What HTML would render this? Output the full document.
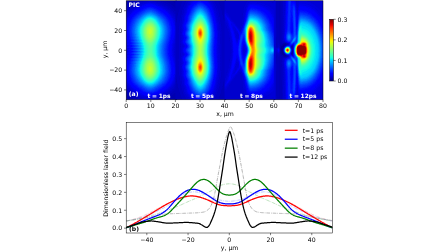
<!DOCTYPE html><html><head><meta charset="utf-8"><title>PIC laser field</title>
<style>html,body{margin:0;padding:0;background:#fff}svg{display:block}text{font-family:"DejaVu Sans","Liberation Sans",sans-serif;font-size:6.2px;fill:#000}.b{font-weight:bold;fill:#fff;font-size:6.1px}</style></head><body>
<svg width="448" height="252" viewBox="0 0 448 252">
<defs>
<filter id="jet" x="0" y="0" width="100%" height="100%" filterUnits="objectBoundingBox" color-interpolation-filters="sRGB"><feGaussianBlur stdDeviation="0.7"/><feComponentTransfer><feFuncR type="table" tableValues="0.000 0.000 0.000 0.000 0.000 0.000 0.000 0.000 0.000 0.000 0.000 0.000 0.000 0.000 0.000 0.000 0.000 0.000 0.000 0.000 0.000 0.000 0.000 0.035 0.085 0.136 0.187 0.237 0.288 0.338 0.389 0.440 0.490 0.541 0.591 0.642 0.693 0.743 0.794 0.844 0.895 0.946 0.996 1.000 1.000 1.000 1.000 1.000 1.000 1.000 1.000 1.000 1.000 1.000 1.000 1.000 1.000 0.981 0.910 0.839 0.767 0.696 0.625 0.553 0.500"/><feFuncG type="table" tableValues="0.000 0.000 0.000 0.000 0.000 0.000 0.000 0.000 0.002 0.065 0.127 0.190 0.253 0.316 0.378 0.441 0.504 0.567 0.629 0.692 0.755 0.818 0.880 0.943 1.000 1.000 1.000 1.000 1.000 1.000 1.000 1.000 1.000 1.000 1.000 1.000 1.000 1.000 1.000 1.000 1.000 0.988 0.930 0.872 0.814 0.756 0.698 0.640 0.582 0.524 0.466 0.407 0.349 0.291 0.233 0.175 0.117 0.059 0.001 0.000 0.000 0.000 0.000 0.000 0.000"/><feFuncB type="table" tableValues="0.500 0.571 0.643 0.714 0.785 0.857 0.928 0.999 1.000 1.000 1.000 1.000 1.000 1.000 1.000 1.000 1.000 1.000 1.000 1.000 1.000 1.000 0.984 0.933 0.882 0.832 0.781 0.731 0.680 0.629 0.579 0.528 0.478 0.427 0.376 0.326 0.275 0.225 0.174 0.123 0.073 0.022 0.000 0.000 0.000 0.000 0.000 0.000 0.000 0.000 0.000 0.000 0.000 0.000 0.000 0.000 0.000 0.000 0.000 0.000 0.000 0.000 0.000 0.000 0.000"/><feFuncA type="linear" slope="0" intercept="1"/></feComponentTransfer></filter>
<linearGradient id="cb" x1="0" y1="1" x2="0" y2="0">
<stop offset="0.0000" stop-color="rgb(0,0,128)"/>
<stop offset="0.0312" stop-color="rgb(0,0,164)"/>
<stop offset="0.0625" stop-color="rgb(0,0,200)"/>
<stop offset="0.0938" stop-color="rgb(0,0,237)"/>
<stop offset="0.1250" stop-color="rgb(0,0,255)"/>
<stop offset="0.1562" stop-color="rgb(0,32,255)"/>
<stop offset="0.1875" stop-color="rgb(0,64,255)"/>
<stop offset="0.2188" stop-color="rgb(0,96,255)"/>
<stop offset="0.2500" stop-color="rgb(0,128,255)"/>
<stop offset="0.2812" stop-color="rgb(0,160,255)"/>
<stop offset="0.3125" stop-color="rgb(0,192,255)"/>
<stop offset="0.3438" stop-color="rgb(0,224,251)"/>
<stop offset="0.3750" stop-color="rgb(22,255,225)"/>
<stop offset="0.4062" stop-color="rgb(48,255,199)"/>
<stop offset="0.4375" stop-color="rgb(73,255,173)"/>
<stop offset="0.4688" stop-color="rgb(99,255,148)"/>
<stop offset="0.5000" stop-color="rgb(125,255,122)"/>
<stop offset="0.5312" stop-color="rgb(151,255,96)"/>
<stop offset="0.5625" stop-color="rgb(177,255,70)"/>
<stop offset="0.5938" stop-color="rgb(202,255,44)"/>
<stop offset="0.6250" stop-color="rgb(228,255,19)"/>
<stop offset="0.6562" stop-color="rgb(254,237,0)"/>
<stop offset="0.6875" stop-color="rgb(255,208,0)"/>
<stop offset="0.7188" stop-color="rgb(255,178,0)"/>
<stop offset="0.7500" stop-color="rgb(255,148,0)"/>
<stop offset="0.7812" stop-color="rgb(255,119,0)"/>
<stop offset="0.8125" stop-color="rgb(255,89,0)"/>
<stop offset="0.8438" stop-color="rgb(255,59,0)"/>
<stop offset="0.8750" stop-color="rgb(255,30,0)"/>
<stop offset="0.9062" stop-color="rgb(232,0,0)"/>
<stop offset="0.9375" stop-color="rgb(196,0,0)"/>
<stop offset="0.9688" stop-color="rgb(159,0,0)"/>
<stop offset="1.0000" stop-color="rgb(128,0,0)"/>
</linearGradient>
<clipPath id="cp0"><rect x="126.20" y="0.80" width="50.70" height="99.00"/></clipPath>
<clipPath id="cp1"><rect x="175.40" y="0.80" width="50.70" height="99.00"/></clipPath>
<clipPath id="cp2"><rect x="224.60" y="0.80" width="50.70" height="99.00"/></clipPath>
<clipPath id="cp3"><rect x="273.80" y="0.80" width="49.20" height="99.00"/></clipPath>
<clipPath id="cpl"><rect x="126.2" y="122.3" width="206.2" height="110.7"/></clipPath>
</defs>
<g clip-path="url(#cp0)"><g filter="url(#jet)">
<rect x="123.20" y="-2.20" width="55.20" height="105.00" fill="rgb(9,9,9)"/>
<path fill="rgb(11,11,11)" d="M127.6,-1.7 172.6,-1.7 172.6,0.8 174.9,2.6 177.6,2.6 177.6,98 174.9,98 172.6,99.8 172.6,102.3 127.6,102.3 127.6,99.8 126.2,98.8 126.2,1.8 127.6,0.8Z"/>
<path fill="rgb(13,13,13)" d="M134.4,-1.7 165.7,-1.7 165.7,0.8 170.9,3.9 172.9,5.5 174.9,7.3 177.6,7.3 177.6,93.3 174.9,93.3 172.9,95.1 170.9,96.7 165.7,99.8 165.7,102.3 134.4,102.3 134.4,99.8 129.5,97 126.2,94.3 126.2,6.3 129.5,3.6 134.4,0.8Z"/>
<path fill="rgb(15,15,15)" d="M139.7,-1.7 160.4,-1.7 160.4,0.8 165.6,3.1 168.9,5.1 172.2,7.8 174.9,10.8 177.6,10.8 177.6,89.8 174.9,89.8 172.2,92.8 168.9,95.5 165.6,97.5 160.4,99.8 160.4,102.3 139.7,102.3 139.7,99.8 134.9,97.6 131.5,95.7 128.9,93.7 126.2,91 126.2,9.6 128.9,6.9 131.5,4.9 134.9,3 139.7,0.8Z"/>
<path fill="rgb(17,17,17)" d="M144,-1.7 156.2,-1.7 156.2,0.8 163.6,3.9 167.6,6.2 169.6,7.7 171.4,9.4 173.2,11.4 174.9,13.8 177.6,13.8 177.6,86.8 174.9,86.8 173.2,89.2 171.4,91.2 169.6,92.9 167.6,94.4 163.6,96.7 156.2,99.8 156.2,102.3 144,102.3 144,99.8 136.9,96.8 132.9,94.6 129.3,91.8 126.2,88.2 126.2,12.4 129.3,8.8 132.9,6 136.9,3.8 144,0.8Z"/>
<path fill="rgb(19,19,19)" d="M145.9,1.5 148.9,0.9 152.2,1 155.6,1.9 161.6,4.4 165.6,6.5 168.9,8.9 171.9,12.1 174.9,16.4 177.6,16.4 177.6,84.2 174.9,84.2 172.4,87.8 170.2,90.4 167.6,92.7 164.9,94.5 161.6,96.2 156.9,98.2 153.6,99.3 150.9,99.8 148.2,99.7 144.9,98.8 139.5,96.7 135.5,94.7 132.9,93 130.2,90.7 128.2,88.5 126.2,85.8 126.2,14.8 129.5,10.6 131.4,8.8 133.5,7.2 136.2,5.5 138.9,4.2 142.9,2.5Z"/>
<path fill="rgb(21,21,21)" d="M147.5,2.1 150.9,1.9 154.2,2.5 158.9,4.3 163.6,6.6 166.9,8.8 169.7,11.4 172.9,15.4 174.9,18.9 177.6,18.9 177.6,43.1 174.9,43.1 174.3,46.6 174,50.6 174.3,54 174.9,57.5 177.6,57.5 177.6,81.7 174.9,81.7 173.4,84.5 170.3,88.5 167.7,91.2 164.9,93.2 160.9,95.4 156.2,97.4 152.9,98.4 150.2,98.7 147.5,98.5 144.2,97.5 139.5,95.5 135.5,93.4 132.9,91.5 130.4,89.2 128.2,86.5 126.2,83.6 126.2,54.8 126.5,54.6 126.2,54.3 126.2,52.3 126.8,52 126.6,51.3 126.2,51.1 126.2,49.5 126.6,49.3 126.8,48.6 126.2,48.3 126.2,46.3 126.5,46 126.2,45.8 126.2,17 128.2,14.1 130.2,11.6 132.2,9.7 134.2,8.1 136.9,6.4 140.9,4.5 144.2,3.1Z"/>
<path fill="rgb(23,23,23)" d="M149.5,2.8 152.2,3 155.6,3.9 160.9,6.3 164.9,8.6 168.3,11.4 171.7,15.4 173.7,18.7 174.9,22.1 177.6,22.1 177.6,39 174.9,39 173.6,44.8 173,50 173.5,55.3 174.9,61.6 177.6,61.6 177.6,78.5 174.9,78.5 173.7,81.9 171.7,85.2 168.3,89.2 165.1,91.8 161.6,94 156.9,96.2 153.6,97.3 150.2,97.8 147.5,97.6 144.2,96.6 138.9,94.1 135.5,92.2 132.9,90.1 130.2,87.4 127.9,84.5 126.2,81.4 126.2,58.1 126.8,57.3 126.2,56.6 126.2,55.7 127.6,54.6 126.2,53.3 126.7,52.6 128,52 127.7,51.3 126.5,50.6 126.5,50 127.7,49.3 128,48.6 126.7,48 126.2,47.3 127.6,46 126.2,44.9 126.2,44 126.8,43.3 126.2,42.5 126.2,19.2 127.5,16.7 130,13.4 132.2,11.1 134.9,8.9 138.9,6.5 143.5,4.3 146.9,3.2Z"/>
<path fill="rgb(26,26,26)" d="M146.4,4.1 148.2,3.7 150.2,3.6 152.2,3.8 154.2,4.3 159.6,6.5 164.4,9.4 166.2,10.8 168.3,12.8 170.6,15.4 172,17.4 173,19.4 173.7,21.4 174.9,26.2 177.6,26.2 177.6,33.7 174.9,33.7 174.2,38 172.6,45.3 172.1,50 172.6,55.3 174.2,62.6 174.9,66.9 177.6,66.9 177.6,74.4 174.9,74.4 173.7,79.2 172.4,82.5 171.1,84.5 169.6,86.4 166.2,89.8 162.9,92.2 158.2,94.7 154.2,96.3 150.9,97 147.5,96.8 144.2,95.7 138.9,93.1 134.9,90.6 131.9,87.8 129,84.5 127.4,81.9 126.2,78.6 126.2,61.1 126.6,60.6 126.7,59.9 126.4,59.3 126.5,58.6 127.8,57.3 127.1,56.6 126.8,55.9 128.7,54.6 127,53.3 127.5,52.6 129,52 128.7,51.3 127.3,50.6 127.3,50 128.7,49.3 129,48.6 127.5,48 127,47.3 128.7,46 126.8,44.7 127.1,44 127.8,43.3 126.5,42 126.4,41.3 126.7,40.7 126.6,40 126.2,39.5 126.2,22 127.1,19.4 128.6,16.7 130.9,13.8 133.5,11.1 136.2,9.1 139.5,7.1 143.5,5.1Z"/>
<path fill="rgb(28,28,28)" d="M146.7,4.8 148.9,4.4 150.9,4.3 152.9,4.6 154.9,5.2 157.6,6.4 160.9,8.2 163.6,9.8 165.6,11.4 169.5,15.4 171.8,18.7 172.6,20.7 173.6,24.1 174.3,28.7 174.3,31.4 173.9,35.4 171.9,44.7 171.3,50 171.8,55.3 173.7,63.9 174.4,69.9 174.1,74.6 172.6,79.9 171.4,82.5 169.6,85.1 166.9,88 164.2,90.3 160.2,92.8 156.2,94.8 153.6,95.8 150.9,96.3 147.5,96 143.5,94.7 138.2,91.8 134.5,89.2 131.2,85.8 128.7,82.5 127.3,79.2 126.2,75.3 126.2,64.6 126.7,63.3 126.6,61.9 126.9,61.3 127.4,60.6 127.5,60.1 127.2,59.3 127.3,58.6 128.1,57.9 128.7,57.3 127.9,56.6 127.5,55.9 129.7,54.6 127.7,53.3 128.3,52.6 130,52 129.6,51.3 128,50.6 128,50 129.6,49.3 130,48.6 128.3,48 127.7,47.3 129.7,46 127.5,44.7 127.9,44 128.7,43.3 128.1,42.7 127.3,42 127.2,41.3 127.5,40.5 127.4,40 126.9,39.3 126.6,38.7 126.7,37.3 126.2,36 126.2,25.3 126.8,22.7 127.7,20.1 129.1,17.4 131.2,14.8 133.8,12.1 136.2,10.1 139.5,8 143.5,5.9Z"/>
<path fill="rgb(30,30,30)" d="M146.8,5.5 148.9,5 150.9,5 152.9,5.3 154.9,6 157.6,7.1 160.9,9 163.5,10.8 165.6,12.4 169.1,16.1 171.2,19.4 172,21.4 173,24.7 173.4,26.7 173.6,29.4 173.5,32 173.2,35.4 172.6,38.7 171.1,44.7 170.5,50 171,55.3 172.8,63.3 173.6,69.2 173.4,73.9 172.9,76.5 172,79.2 170.9,81.9 169.1,84.5 166.2,87.6 163.6,89.8 160.2,92 156.2,94.1 152.9,95.3 150.2,95.6 148.2,95.5 146.2,95 141.5,92.9 138.5,91.2 136.2,89.5 132.2,85.9 130,83.2 128.3,79.9 126.9,75.2 126.6,73.2 126.5,70.6 126.6,67.2 127,65.9 126.9,64.6 127.5,63.3 127.3,61.9 127.6,61.3 128.2,60.6 128.3,59.9 127.9,59.3 128,58.6 128.9,57.9 129.5,57.3 128.6,56.6 128.2,55.9 130.5,54.6 128.4,53.3 129,52.6 130.9,52 130.4,51.3 128.7,50.6 128.7,50 130.4,49.3 130.9,48.6 129,48 128.4,47.3 130.5,46 128.2,44.7 128.6,44 129.5,43.3 128.9,42.7 128,42 127.9,41.3 128.3,40.7 128.2,40 127.6,39.3 127.3,38.7 127.5,37.3 126.9,36 127,34.7 126.6,33.4 126.5,30 126.6,27.4 127.1,24.7 127.8,22.1 128.9,19.4 130.2,17.2 132.2,14.7 134.9,12.1 137.5,10.1 140.2,8.4 144.2,6.4Z"/>
<path fill="rgb(32,32,32)" d="M146.7,6.1 148.2,5.8 150.2,5.6 152.2,5.8 154.2,6.4 156.9,7.5 159.6,9 162.3,10.8 164.9,12.8 168.2,16.1 169.6,17.9 170.4,19.4 171.3,21.4 172.3,24.7 172.7,26.7 172.9,29.4 172.9,32 172.5,35.4 170.3,45.3 169.8,50 170.3,55.3 172.1,63.3 172.9,69.2 172.7,73.9 171.5,78.5 170.4,81.2 168.7,83.9 166.2,86.6 163.6,88.9 160.2,91.2 156.2,93.4 152.9,94.6 150.2,95 148.2,94.8 146.2,94.3 142.2,92.5 139.5,91 136.9,89.2 132.9,85.6 130.4,82.5 128.8,79.2 127.7,75.2 127.3,73.2 127.1,70.6 127.3,67.2 127.6,65.9 127.6,64.6 128.2,63.3 128,61.9 128.3,61.3 129,60.6 129.1,59.9 128.5,59.3 128.6,58.6 129.7,57.9 130.3,57.3 129.3,56.6 128.9,55.9 131.4,54.6 129,53.3 129.7,52.6 131.7,52 131.2,51.3 129.4,50.6 129.4,50 131.2,49.3 131.7,48.6 129.7,48 129,47.3 131.4,46 128.9,44.7 129.3,44 130.3,43.3 129.7,42.7 128.6,42 128.5,41.3 129.1,40.7 129,40 128.3,39.3 128,38.7 128.2,37.3 127.6,36 127.6,34.7 127.3,33.4 127.1,30 127.4,26.7 128.2,23.4 129.1,20.7 130.4,18.1 131.9,16.1 134.2,13.7 136.9,11.4 140.2,9.2 143.5,7.4Z"/>
<path fill="rgb(34,34,34)" d="M146.5,6.8 148.2,6.4 150.2,6.2 152.2,6.4 154.2,7 156.9,8.2 159.6,9.7 162.2,11.5 164.9,13.7 167.9,16.7 168.9,18.1 170,20.1 171.6,24.7 172.1,26.7 172.3,29.4 172.2,32 171.8,35.4 171.2,38.7 169.6,45.3 169.2,50 169.6,55.3 171.5,63.3 172.3,69.2 172.3,71.2 172.1,73.9 171,77.9 170,80.5 168.4,83.2 166.2,85.7 163.6,88 160.2,90.5 156.2,92.7 152.9,94 150.2,94.4 148.9,94.3 146.9,93.9 142.9,92.2 137.5,88.8 133.4,85.2 131.2,82.5 129.6,79.2 128.3,75.2 128,73.2 127.8,70.6 128,67.2 128.3,65.9 128.2,64.6 128.9,63.3 128.6,61.9 128.9,61.3 129.7,60.6 129.8,59.9 129.2,59.3 129.3,58.6 130.4,57.9 131,57.3 130,56.6 129.5,55.9 132.1,54.6 129.6,53.3 130.3,52.6 132.4,52 131.9,51.3 130,50.6 130,50 131.9,49.3 132.4,48.6 130.3,48 129.6,47.3 132.1,46 129.5,44.7 130,44 131,43.3 130.4,42.7 129.3,42 129.2,41.3 129.8,40.7 129.7,40 128.9,39.3 128.6,38.7 128.9,37.3 128.2,36 128.3,34.7 128,33.4 127.8,30 128,27.4 128.7,24.1 129.8,20.7 130.8,18.7 132.2,16.7 134.2,14.6 136.9,12.3 140.2,9.9 143.5,8Z"/>
<path fill="rgb(36,36,36)" d="M149.4,6.8 150.9,6.8 152.9,7.1 154.9,7.8 156.9,8.8 162.2,12.3 166.5,16.1 168.6,18.7 170.1,22.1 171.3,26 171.7,30 171.1,36 169.1,44.7 168.5,50 169,55.3 170.9,63.3 171.6,68.6 171.7,71.2 171.5,73.2 170.6,77.2 169.3,80.5 168.1,82.5 166.2,84.8 163.6,87.2 160.1,89.8 156.2,92.1 152.9,93.5 150.2,93.8 148.9,93.8 146.9,93.4 142.9,91.6 137.5,88 133.6,84.5 131.6,81.9 130,78.5 128.7,73.9 128.4,70.6 128.6,67.2 128.9,65.9 128.8,64.6 129.5,63.3 129.2,61.9 129.5,61.3 130.3,60.6 130.4,59.9 129.8,59.3 129.8,58.6 131,57.9 131.7,57.3 130.6,56.6 130.1,55.9 132.8,54.6 130.2,53.3 131,52.6 133.1,52 132.6,51.3 130.5,50.6 130.5,50 132.6,49.3 133.1,48.6 131,48 130.2,47.3 132.8,46 130.1,44.7 130.6,44 131.7,43.3 131,42.7 129.8,42 129.8,41.3 130.4,40.7 130.3,40 129.5,39.3 129.2,38.7 129.5,37.3 128.8,36 128.9,34.7 128.6,33.4 128.4,30 128.7,26.7 129.5,23.4 130.5,20.7 132,18.1 133.6,16.1 136.2,13.7 139.5,11.1 143.5,8.7 146.9,7.2Z"/>
<path fill="rgb(38,38,38)" d="M148.4,7.4 150.2,7.3 151.6,7.4 153.6,7.9 155.6,8.7 158.2,10.2 160.9,12 165.6,15.9 167.9,18.7 169.5,22.1 170.7,26 171.1,30 170.6,36 168.5,44.7 167.9,50 168.3,55.3 170.3,63.3 171.1,68.6 171.1,71.2 170.9,73.2 170,77.2 168.6,80.5 167.4,82.5 165.6,84.7 162.9,87 159,89.8 155.6,91.9 152.9,92.9 150.2,93.3 148.9,93.2 146.9,92.8 143.2,91.2 138.3,87.8 134.2,84.3 132.3,81.9 130.6,78.5 129.7,75.9 129.3,73.9 129,70.6 129.1,67.2 129.5,65.9 129.4,64.6 130.1,63.3 129.7,61.9 130.1,61.3 130.9,60.6 131,59.9 130.3,59.3 130.4,58.6 131.7,57.9 132.4,57.3 131.2,56.6 130.6,55.9 133.5,54.6 130.8,53.3 131.6,52.6 133.8,52 133.2,51.3 131.1,50.6 131.1,50 133.2,49.3 133.8,48.6 131.6,48 130.8,47.3 133.5,46 130.6,44.7 131.2,44 132.4,43.3 131.7,42.7 130.4,42 130.3,41.3 131,40.7 130.9,40 130.1,39.3 129.7,38.7 130.1,37.3 129.4,36 129.5,34.7 129.1,33.4 129,30 129.2,27.4 129.9,24.1 131.2,20.7 132.3,18.7 133.8,16.7 135.5,15 138.9,12.3 142.9,9.6 145.5,8.3Z"/>
<path fill="rgb(40,40,40)" d="M147.7,8.1 149.5,7.8 150.9,7.8 152.9,8.2 154.9,9 159.6,11.8 164.2,15.4 166.7,18.1 168.6,21.4 170,25.4 170.6,29.4 170.5,32 170.1,35.4 169.5,38.7 167.9,44.7 167.3,50 167.7,55.3 169.8,63.3 170.5,68.6 170.5,72.6 169.6,76.5 168.6,79.2 167.2,81.9 165.6,83.9 162.9,86.3 158.9,89.3 155.6,91.3 152.9,92.4 150.2,92.8 148.9,92.7 146.9,92.3 143.5,90.7 138.9,87.6 134.6,83.9 132.5,81.2 131,77.9 129.9,73.9 129.5,70.6 129.7,67.2 130.1,65.9 129.9,64.6 130.7,63.3 130.3,61.9 130.6,61.3 131.5,60.6 131.6,59.9 130.9,59.3 131,58.6 132.3,57.9 133,57.3 131.7,56.6 131.2,55.9 134.1,54.6 131.3,53.3 132.1,52.6 134.4,52 133.8,51.3 131.7,50.6 131.7,50 133.8,49.3 134.4,48.6 132.1,48 131.3,47.3 134.1,46 131.2,44.7 131.7,44 133,43.3 132.3,42.7 131,42 130.9,41.3 131.6,40.7 131.5,40 130.6,39.3 130.3,38.7 130.7,37.3 129.9,36 130.1,34.7 129.7,33.4 129.5,30 129.7,27.4 130.3,24.7 131.3,22.1 132.5,19.4 133.5,17.9 135.2,16.1 138.3,13.4 142.2,10.7 144.9,9.2Z"/>
<path fill="rgb(43,43,43)" d="M147.1,8.8 148.9,8.4 150.9,8.3 152.2,8.6 154.2,9.2 158.2,11.5 163.6,15.5 166,18.1 168,21.4 169.4,25.4 170,29.4 170,32 169.6,35.4 168.9,38.7 167.3,44.7 166.7,50 167.2,55.3 169.1,62.6 169.9,67.9 170,71.9 169.2,75.9 168,79.2 166.9,81.2 165.5,83.2 163.4,85.2 159.6,88.2 155.6,90.7 152.9,91.9 150.2,92.3 148.9,92.2 146.9,91.7 143.5,90.2 138.9,87 134.9,83.4 132.9,80.6 131.3,77.2 130.4,73.9 130,70.6 130.2,67.2 130.6,65.9 130.4,64.6 131.2,63.3 130.8,61.9 131.2,61.3 132.1,60.6 132.2,59.9 131.4,59.3 131.5,58.6 132.9,57.9 133.5,57.3 132.3,56.6 131.7,55.9 134.6,54.6 131.8,53.3 132.7,52.6 134.9,52 134.4,51.3 132.2,50.6 132.2,50 134.4,49.3 134.9,48.6 132.7,48 131.8,47.3 134.6,46 131.7,44.7 132.3,44 133.5,43.3 132.9,42.7 131.5,42 131.4,41.3 132.2,40.7 132.1,40 131.2,39.3 130.8,38.7 131.2,37.3 130.4,36 130.6,34.7 130.2,33.4 130,30 130.3,27.4 130.9,24.7 131.9,22.1 132.8,20.1 134.1,18.1 135.5,16.5 138.9,13.6 142.2,11.3 144.9,9.7Z"/>
<path fill="rgb(46,46,46)" d="M147.8,9.4 149.5,9.2 150.9,9.2 152.9,9.6 154.2,10.1 158.2,12.5 163.6,16.7 165.8,19.4 167.5,22.7 168.7,26 169.2,30 169,32.7 168.6,36 166.4,44.7 165.8,50 166.2,55.3 168.3,63.3 169,67.9 169.1,71.9 168.3,75.9 167.3,78.5 165.8,81.2 164.3,83.2 162.9,84.5 158.9,87.7 155.6,89.8 152.9,91 150.2,91.5 147.5,91.1 144.2,89.6 139.5,86.4 135.9,83.2 133.9,80.5 132.3,77.2 131.3,73.9 130.9,70.6 131.1,67.2 131.5,65.9 131.3,64.6 132.1,63.3 131.7,61.9 132,61.3 133,60.6 133.1,59.9 132.3,59.3 132.4,58.6 133.8,57.9 134.5,57.3 133.2,56.6 132.6,55.9 135.5,54.6 132.7,53.3 133.6,52.6 135.8,52 135.3,51.3 133.1,50.6 133.1,50 135.3,49.3 135.8,48.6 133.6,48 132.7,47.3 135.5,46 132.6,44.7 133.2,44 134.5,43.3 133.8,42.7 132.4,42 132.3,41.3 133.1,40.7 133,40 132,39.3 131.7,38.7 132.1,37.3 131.3,36 131.5,34.7 131.1,33.4 130.9,30 131.2,27.4 131.6,25.4 132.6,22.7 133.9,20.1 135.3,18.1 136.5,16.7 139.5,14.2 142.9,11.8 145.5,10.3Z"/>
<path fill="rgb(50,50,50)" d="M148.5,10.1 150.2,9.9 151.6,10.1 154.2,10.9 156.2,12.1 158.9,13.9 163.1,17.4 165.2,20.1 166.9,23.4 167.9,26.7 168.3,30 168.2,32.7 167.8,36 167.2,38.7 165.5,44.7 165,47.3 164.9,50 165.3,55.3 167.3,62.6 168.1,67.2 168.3,71.2 168.1,73.2 167.6,75.2 166.6,77.9 165.2,80.5 163.8,82.5 162.2,84.1 158.2,87.2 154.9,89.3 152.2,90.4 150.2,90.7 147.5,90.3 144.2,88.7 139.5,85.4 136.4,82.5 134.5,79.9 133,76.5 132,73.2 131.7,70.6 131.9,67.2 132.3,65.9 132.1,64.6 133,63.3 132.5,61.9 132.9,61.3 133.9,60.6 134,59.9 133.2,59.3 133.2,58.6 134.7,57.9 135.4,57.3 134.1,56.6 133.4,55.9 136.4,54.6 133.6,53.3 134.5,52.6 136.7,52 136.2,51.3 134,50.6 134,50 136.2,49.3 136.7,48.6 134.5,48 133.6,47.3 136.4,46 133.4,44.7 134.1,44 135.4,43.3 134.7,42.7 133.2,42 133.2,41.3 134,40.7 133.9,40 132.9,39.3 132.5,38.7 133,37.3 132.1,36 132.3,34.7 131.9,33.4 131.7,30 132,27.4 132.5,25.4 133.2,23.4 134.5,20.7 135.8,18.7 137.5,16.9 140.9,14.2 144.2,11.9 146.2,10.8Z"/>
<path fill="rgb(53,53,53)" d="M149.1,10.8 150.9,10.7 152.2,11 154.9,12.1 159.6,15.3 162.7,18.1 164.7,20.7 166.3,24.1 167.1,26.7 167.5,30 167.4,32.7 167,36 166.4,38.7 164.6,44.7 164.2,47.3 164,50 164.5,55.3 166.5,62.6 167.4,67.2 167.5,71.2 166.9,74.6 166,77.2 164.7,79.9 163.3,81.9 161.6,83.7 158.2,86.3 154.9,88.5 152.2,89.6 150.2,89.9 147.5,89.5 144.9,88.3 140.4,85.2 137.4,82.5 135.5,79.9 133.8,76.5 132.9,73.2 132.5,70.6 132.7,67.2 133.1,65.9 132.9,64.6 133.8,63.3 133.3,61.9 133.7,61.3 134.7,60.6 134.8,59.9 134,59.3 134.1,58.6 135.5,57.9 136.2,57.3 135,56.6 134.3,55.9 137.2,54.6 136.1,54 134.4,53.3 135.4,52.6 137.4,52 137,51.3 134.8,50.6 134.8,50 137,49.3 137.4,48.6 135.4,48 134.4,47.3 136.1,46.6 137.2,46 134.3,44.7 135,44 136.2,43.3 135.5,42.7 134.1,42 134,41.3 134.8,40.7 134.7,40 133.7,39.3 133.3,38.7 133.8,37.3 132.9,36 133.1,34.7 132.7,33.4 132.5,30 132.9,27.4 133.2,26 133.8,24.1 135.1,21.4 136.3,19.4 138.1,17.4 140.9,15 144.9,12.3 146.9,11.3Z"/>
<path fill="rgb(57,57,57)" d="M146.9,12.1 149.5,11.4 150.9,11.5 152.9,11.9 156.2,13.7 160.9,17.3 163.3,20.1 165.1,23.4 166.3,26.7 166.8,30 166.7,32.7 166.2,36 165.6,38.7 163.8,44.7 163.3,47.3 163.2,50 163.3,52.6 163.6,55.3 165.8,62.6 166.6,67.2 166.7,71.2 166.1,74.6 165.1,77.2 163.7,79.9 162.3,81.9 161,83.2 158.2,85.5 154.9,87.7 152.2,88.9 150.2,89.2 147.5,88.8 144.9,87.5 140.9,84.7 138.2,82.3 136.4,79.9 134.7,76.5 133.6,73.2 133.3,70.6 133.4,67.2 133.9,65.9 133.7,64.6 134.6,63.3 134.1,61.9 134.5,61.3 135.5,60.6 135.6,59.9 134.8,59.3 134.9,58.6 136.3,57.9 137,57.3 135.8,56.6 135.1,55.9 137.9,54.6 136.9,54 135.3,53.3 136.3,52.6 138.2,52 137.8,51.3 135.7,50.6 135.7,50 137.8,49.3 138.2,48.6 136.3,48 135.3,47.3 136.9,46.6 137.9,46 135.1,44.7 135.8,44 137,43.3 136.3,42.7 134.9,42 134.8,41.3 135.6,40.7 135.5,40 134.5,39.3 134.1,38.7 134.6,37.3 133.7,36 133.9,34.7 133.4,33.4 133.3,30 133.6,27.4 134.4,24.7 135.3,22.7 136.4,20.7 137.8,18.7 139.8,16.7 142.2,14.9 144.9,13.1Z"/>
<path fill="rgb(60,60,60)" d="M147,12.8 148.9,12.2 150.2,12.1 152.9,12.7 156.2,14.4 160.1,17.4 162.4,20.1 164.3,23.4 165.6,26.7 166,30 165.9,32.7 165.5,36 164.8,38.7 163,44.7 162.5,47.3 162.4,50 162.5,52.6 162.8,55.3 165,62.6 165.8,66.6 166,70.6 165.6,73.9 164.6,76.5 163.3,79.2 161.9,81.2 160.1,83.2 156.9,85.7 154.2,87.3 152.2,88.2 150.2,88.5 147.5,88 144.9,86.8 141.5,84.4 138.8,81.9 136.9,79.2 135.2,75.9 134.4,73.2 134,70.6 134.2,67.2 134.6,65.9 134.4,64.6 135.3,63.3 134.8,61.9 135.2,61.3 136.2,60.6 136.3,59.9 135.6,59.3 135.7,58.6 137.1,57.9 137.7,57.3 135.9,55.9 138.6,54.6 137.7,54 136.1,53.3 137.1,52.6 138.8,52 138.5,51.3 136.6,50.6 136.6,50 138.5,49.3 138.8,48.6 137.1,48 136.1,47.3 137.7,46.6 138.6,46 135.9,44.7 137.7,43.3 137.1,42.7 135.7,42 135.6,41.3 136.3,40.7 136.2,40 135.2,39.3 134.8,38.7 135.3,37.3 134.4,36 134.6,34.7 134.2,33.4 134,30 134.4,27.4 135.2,24.7 136.1,22.7 137.3,20.7 138.8,18.7 140.8,16.7 142.9,15.1 144.9,13.8Z"/>
<path fill="rgb(64,64,64)" d="M147,13.4 149.5,12.8 150.9,12.8 152.2,13.1 153.6,13.6 155.6,14.7 159.1,17.4 161.5,20.1 163.5,23.4 164.8,26.7 165.3,30 165.2,32.7 164.7,36 164.1,38.7 162.2,44.7 161.8,47.3 161.6,50 161.7,52.6 162.1,55.3 164.3,62.6 165.1,66.6 165.3,70.6 164.8,73.9 163.8,76.5 162.4,79.2 161,81.2 159.6,82.8 156.9,85 154.2,86.7 152.2,87.5 150.2,87.8 148.2,87.6 145.5,86.5 142.2,84.2 139.7,81.9 137.7,79.2 136,75.9 135.1,73.2 134.7,70.6 134.9,67.2 135.3,65.9 135.1,64.6 136,63.3 135.5,61.9 136,61.3 136.9,60.6 137.1,59.9 136.3,59.3 136.4,58.6 137.8,57.9 138.4,57.3 136.8,55.9 139.3,54.6 138.5,54 137,53.3 137.9,52.6 139.5,52 139.2,51.3 137.4,50.6 137.4,50 139.2,49.3 139.5,48.6 137.9,48 137,47.3 138.5,46.6 139.3,46 136.8,44.7 138.4,43.3 137.8,42.7 136.4,42 136.3,41.3 137.1,40.7 136.9,40 136,39.3 135.5,38.7 136,37.3 135.1,36 135.3,34.7 134.9,33.4 134.7,30 135.1,27.4 136,24.7 136.9,22.7 138.1,20.7 139.5,18.9 142.9,15.9 144.9,14.5Z"/>
<path fill="rgb(68,68,68)" d="M147,14.1 149.5,13.5 150.9,13.5 152.2,13.8 154.9,15 158.2,17.4 160.7,20.1 162.8,23.4 164.1,26.7 164.6,30 164.5,32.7 164.1,36 163.4,38.7 161.5,44.7 161,47.3 160.9,50 161,52.6 161.3,55.3 163.6,62.6 164.4,66.6 164.7,69.9 164.3,73.2 163.4,75.9 162,78.5 160.7,80.5 159,82.5 156.6,84.5 154.2,86 152.2,86.8 150.2,87.2 148.2,86.9 145.5,85.8 142.9,84 140.5,81.9 138.5,79.2 136.7,75.9 135.8,73.2 135.4,70.6 135.5,67.2 136,65.9 135.8,64.6 136.7,63.3 136.3,61.9 136.7,61.3 137.6,60.6 137.8,59.9 137.1,59.3 137.2,58.6 138.5,57.9 139,57.3 137.6,55.9 139.9,54.6 139.2,54 137.8,53.3 138.7,52.6 140.1,52 139.9,51.3 138.2,50.6 138.2,50 139.9,49.3 140.1,48.6 138.7,48 137.8,47.3 139.2,46.6 139.9,46 137.6,44.7 139,43.3 138.5,42.7 137.2,42 137.1,41.3 137.8,40.7 137.6,40 136.7,39.3 136.3,38.7 136.7,37.3 135.8,36 136,34.7 135.5,33.4 135.5,32.7 135.4,30 135.8,27.4 136.5,25.4 137.4,23.4 138.5,21.4 139.9,19.4 141.5,17.7 143.5,16.1Z"/>
<path fill="rgb(71,71,71)" d="M149.3,14.1 151.6,14.2 154.2,15.2 156.9,17 159.4,19.4 161.3,22.1 162.9,25.4 163.7,28 164,30.7 163.8,33.4 163.3,36.7 160.6,45.3 160.2,50 160.3,52.6 160.6,55.3 162.9,62.6 163.7,66.6 164,69.9 163.6,73.2 162.9,75.2 161.6,77.9 159.9,80.5 158.2,82.4 156.2,84.1 154.2,85.4 152.2,86.2 150.2,86.6 148.2,86.3 145.5,85.2 142.9,83.3 140.9,81.4 139.3,79.2 137.5,75.9 136.5,73.2 136.1,70.6 136.2,67.2 136.7,65.9 136.5,64.6 137.4,63.3 137,61.9 137.4,61.3 138.3,60.6 138.4,59.9 137.8,59.3 137.9,58.6 139.1,57.9 139.7,57.3 138.4,55.9 140.5,54.6 139.9,54 138.6,53.3 139.4,52.6 140.7,52 140.5,51.3 139,50.6 139,50 140.5,49.3 140.7,48.6 139.4,48 138.6,47.3 139.9,46.6 140.5,46 138.4,44.7 139.7,43.3 139.1,42.7 137.9,42 137.8,41.3 138.4,40.7 138.3,40 137.4,39.3 137,38.7 137.4,37.3 136.5,36 136.7,34.7 136.2,33.4 136.1,30 136.5,27.4 137.5,24.7 138.5,22.7 139.7,20.7 141.3,18.7 143.5,16.7 145.5,15.4 147.5,14.5Z"/>
<path fill="rgb(75,75,75)" d="M148.7,14.8 150.9,14.7 152.9,15.2 155.6,16.6 158,18.7 160.1,21.4 162,24.7 162.9,27.4 163.3,30.7 163.2,33.4 162.6,36.7 159.9,45.3 159.5,50 159.6,52.6 159.9,55.3 162.3,62.6 163.1,66.6 163.3,69.9 162.9,73.2 162.3,75.2 161.3,77.2 159.6,79.9 158,81.9 156.2,83.5 154.2,84.8 152.2,85.7 150.2,86 148.2,85.7 146.2,85 143.6,83.2 141.5,81.2 139.6,78.5 138.1,75.9 137.2,73.2 136.8,70.6 136.9,67.2 137.3,65.9 137.1,64.6 138,63.3 137.6,61.9 138.1,61.3 138.9,60.6 139,59.9 138.5,59.3 138.7,58.6 139.8,57.9 140.3,57.3 139.2,55.9 141.1,54.6 140.5,54 139.5,53.3 141.3,52 141.1,51.3 139.8,50.6 139.8,50 141.1,49.3 141.3,48.6 139.5,47.3 140.5,46.6 141.1,46 139.2,44.7 140.3,43.3 139.8,42.7 138.7,42 138.5,41.3 139,40.7 138.9,40 138.1,39.3 137.6,38.7 138,37.3 137.1,36 137.3,34.7 136.9,33.4 136.8,30 137.2,27.4 138.1,24.7 139.2,22.7 140.5,20.7 142.1,18.7 143.6,17.4 145.5,16 146.9,15.3Z"/>
<path fill="rgb(78,78,78)" d="M148.2,15.4 150.2,15.2 151.6,15.3 152.9,15.7 154.9,16.8 157.3,18.7 159.4,21.4 161.3,24.7 162.3,27.4 162.7,30.7 162.5,33.4 162,36.7 159.3,45.3 158.8,50 158.9,52.6 159.3,55.3 161.6,62.6 162.4,65.9 162.7,69.9 162.4,72.6 161.9,74.6 160.6,77.2 158.9,79.9 157.3,81.9 155.6,83.3 153.6,84.6 151.6,85.3 150.2,85.4 148.2,85.2 146.2,84.4 144.2,83.1 142.3,81.2 140.3,78.5 138.8,75.9 137.8,73.2 137.4,70.6 137.5,67.2 137.9,65.9 137.8,64.6 138.6,63.3 138.3,61.9 138.7,61.3 139.5,60.6 139.7,59.9 139.2,59.3 139.4,58.6 140.4,57.9 140.9,57.3 139.9,55.9 141.6,54.6 141.2,54 140.2,53.3 141.9,52 141.7,51.3 140.6,50.6 140.6,50 141.7,49.3 141.9,48.6 140.2,47.3 141.2,46.6 141.6,46 139.9,44.7 140.9,43.3 140.4,42.7 139.4,42 139.2,41.3 139.7,40.7 139.5,40 138.7,39.3 138.3,38.7 138.6,37.3 137.8,36 137.9,34.7 137.5,33.4 137.4,30.7 137.7,28 138.3,26 139.2,24.1 140.7,21.4 142.2,19.5 144.9,17 146.9,15.9Z"/>
<path fill="rgb(82,82,82)" d="M147.8,16.1 150.2,15.7 152.2,16 154.9,17.4 156.9,19.1 159.1,22.1 160.9,25.4 161.8,28 162.1,30.7 161.9,33.4 161.4,36.7 158.6,45.3 158.2,50 158.3,52.6 158.6,55.3 161,62.6 161.7,65.9 162.1,69.9 161.8,72.6 161.2,74.6 160.3,76.5 158.7,79.2 157.2,81.2 155.6,82.7 153.6,84 151.6,84.7 150.2,84.9 148.2,84.6 146.2,83.8 144.2,82.4 142.4,80.5 140.6,77.9 139.2,75.2 138.5,73.2 138,70.6 138.1,67.2 138.5,65.9 138.4,64.6 139.2,63.3 138.9,61.9 139.3,61.3 140.1,60.6 140.3,59.9 139.9,59.3 140,58.6 141,57.9 141.4,57.3 140.6,55.9 142.2,54.6 141.8,54 141,53.3 142.4,52 142.3,51.3 141.3,50.6 141.3,50 142.3,49.3 142.4,48.6 141,47.3 141.8,46.6 142.2,46 140.6,44.7 141.4,43.3 141,42.7 140,42 139.9,41.3 140.3,40.7 140.1,40 139.3,39.3 138.9,38.7 139.2,37.3 138.4,36 138.5,34.7 138.1,33.4 138,30.7 138.3,28 138.9,26 139.8,24.1 142.4,20.1 144.9,17.7 146.2,16.8Z"/>
<path fill="rgb(85,85,85)" d="M147.5,16.7 149.5,16.2 151.6,16.4 153.6,17.2 155.8,18.7 158,21.4 160,24.7 161,27.4 161.5,30 161.4,32.7 160.9,36 160.2,38.7 158.2,44.7 157.7,47.3 157.6,50 157.7,52.6 158,55.3 160.4,62.6 161.2,65.9 161.5,69.9 161.2,72.6 160.6,74.6 159.7,76.5 158,79.2 156.4,81.2 155,82.5 153.6,83.4 151.6,84.2 150.2,84.4 148.2,84.1 146.2,83.2 144.4,81.9 143.1,80.5 141.2,77.9 139.8,75.2 139.1,73.2 138.6,70.6 138.7,67.2 139.1,65.9 139,64.6 139.8,63.3 139.6,61.9 140.6,60.6 140.8,59.9 140.5,59.3 140.7,58.6 141.6,57.9 142,57.3 141.3,55.9 142.7,54.6 142.4,54 141.7,53.3 143,52 142.9,51.3 142,50.6 142,50 142.9,49.3 143,48.6 141.7,47.3 142.4,46.6 142.7,46 141.3,44.7 142,43.3 141.6,42.7 140.7,42 140.5,41.3 140.8,40.7 140.6,40 139.6,38.7 139.8,37.3 139,36 139.1,34.7 138.7,33.4 138.6,30.7 138.9,28 140.1,24.7 142.6,20.7 144.9,18.3Z"/>
<path fill="rgb(89,89,89)" d="M150.1,16.7 151.6,16.9 153.6,17.7 155,18.7 156.9,20.7 158.7,23.4 160,26 160.6,28 160.9,30.7 160.7,34 160,37.3 157.4,45.3 157,50 157.1,52.6 157.4,55.3 159.9,62.6 160.6,65.9 160.9,69.9 160.6,72.6 160,74.6 159.1,76.5 157.6,79 156.2,80.7 154.9,82 153.6,82.9 152.2,83.5 150.2,83.9 148.2,83.6 146.9,83 144.9,81.6 143.2,79.9 141.4,77.2 140.1,74.6 139.5,72.6 139.2,69.9 139.3,67.2 139.7,65.9 139.6,64.6 140.3,63.3 140.2,61.9 141.2,60.6 141.4,59.9 141.1,59.3 141.3,58.6 142.1,57.9 142.5,57.3 142,55.9 143.3,54.6 143,54 142.4,53.3 143.5,52 143.4,51.3 142.7,50.6 142.7,50 143.4,49.3 143.5,48.6 142.4,47.3 143,46.6 143.3,46 142,44.7 142.5,43.3 142.1,42.7 141.3,42 141.1,41.3 141.4,40.7 141.2,40 140.2,38.7 140.3,37.3 139.6,36 139.7,34.7 139.3,33.4 139.2,30.7 139.5,28 140.1,26 141.1,24.1 142.7,21.4 144.2,19.6 145.5,18.4 146.9,17.6 148.2,17Z"/>
<path fill="rgb(93,93,93)" d="M148.7,17.4 150.2,17.3 152.2,17.7 154.2,18.7 155.7,20.1 157.7,22.7 159.1,25.4 160.1,28 160.4,30.7 160.2,33.4 159.7,36.7 156.8,45.3 156.5,47.3 156.4,50 156.5,52.6 156.8,55.3 159.1,61.9 159.9,65.2 160.4,69.2 160.2,71.9 159.7,73.9 158.8,75.9 157.7,77.9 156.2,79.9 154.9,81.3 153.6,82.3 152.2,82.9 150.2,83.3 148.7,83.2 146.9,82.5 145.1,81.2 143.5,79.4 141.7,76.5 140.7,74.6 140.1,72.6 139.7,69.9 139.8,67.2 140.2,65.9 140.2,64.6 140.8,63.3 140.8,61.9 141.7,60.6 141.9,59.9 141.7,59.3 141.9,58.6 142.7,57.9 143.1,57.3 142.7,55.9 143.8,54.6 143.1,53.3 144.1,52 144,51.3 143.4,50.6 143.4,50 144,49.3 144.1,48.6 143.1,47.3 143.8,46 142.7,44.7 143.1,43.3 142.7,42.7 141.9,42 141.7,41.3 141.9,40.7 141.7,40 140.8,38.7 140.8,37.3 140.2,36 140.2,34.7 139.8,32.7 139.8,29.4 140.2,27.4 141,25.4 143.4,21.4 144.5,20.1 145.9,18.7 147.5,17.8Z"/>
<path fill="rgb(96,96,96)" d="M148.3,18.1 150.2,17.8 152.2,18.2 154.2,19.4 155.6,20.7 157.5,23.4 158.9,26 159.5,28 159.8,30.7 159.7,33.4 159.3,36 158.6,38.7 156.2,45.3 155.9,47.3 155.8,50 155.8,52.6 156.2,55.3 158.6,61.9 159.4,65.2 159.8,69.2 159.6,71.9 159.1,73.9 158.2,75.9 157.1,77.9 155.6,79.9 154.2,81.2 152.9,82.1 151.6,82.6 150.2,82.8 148.3,82.5 146.9,81.9 145.5,80.9 144,79.2 142.2,76.5 141.3,74.6 140.6,72.6 140.3,69.9 140.7,64.6 141.3,63.3 141.3,61.9 142.2,60.6 142.4,59.9 142.3,59.3 142.5,58.6 143.2,57.9 143.6,57.3 143.3,55.9 144.4,54.6 143.8,53.3 144.6,52 144.6,51.3 144,50.6 144,50 144.6,49.3 144.6,48.6 143.8,47.3 144.4,46 143.3,44.7 143.6,43.3 143.2,42.7 142.5,42 142.3,41.3 142.4,40.7 142.2,40 141.3,38.7 141.3,37.3 140.7,36 140.7,34.7 140.3,32.7 140.4,29.4 140.8,27.4 141.3,26 142.2,24.1 143.5,22.1 145.9,19.4 146.9,18.7Z"/>
<path fill="rgb(100,100,100)" d="M148,18.7 149.5,18.3 151.6,18.5 153.4,19.4 154.9,20.7 156.5,22.7 158,25.4 159,28 159.3,30.7 159.2,33.4 158.7,36 158,38.7 155.6,45.3 155.3,47.3 155.2,50 155.2,52.6 155.6,55.3 158,61.9 158.9,65.2 159.3,69.2 159.1,71.9 158,75.2 156.9,77.2 155.5,79.2 154.2,80.5 152.9,81.5 151.6,82.1 150.2,82.3 148.2,82 146.9,81.3 145.5,80.2 144.2,78.7 142.4,75.9 141.5,73.9 141.2,72.6 140.8,69.9 140.9,67.2 141.2,65.9 141.3,64.6 141.9,63.3 141.9,61.9 142.8,60.6 143.1,58.6 144.1,57.3 144,55.9 144.9,54.6 144.5,53.3 145.2,52 145.2,51.3 144.7,50.6 144.7,50 145.2,49.3 145.2,48.6 144.5,47.3 144.9,46 144,44.7 144.1,43.3 143.1,42 142.8,40 141.9,38.7 141.9,37.3 141.3,36 141.2,34.7 140.9,33.4 140.8,30 141.5,26.7 143.2,23.4 145.5,20.4 146.9,19.3Z"/>
<path fill="rgb(103,103,103)" d="M147.8,19.4 149.5,18.9 150.9,18.9 152.3,19.4 154.2,20.8 155.9,22.7 157.5,25.4 158.5,28 158.8,30.7 158.7,33.4 158.1,36.7 157.3,39.3 155,45.3 154.7,47.3 154.5,50 154.6,52.6 155,55.3 157.5,61.9 158.4,65.2 158.8,69.2 158.6,71.9 157.5,75.2 156.3,77.2 154.9,79.1 152.9,80.9 151.6,81.5 150.2,81.7 148.9,81.6 147.5,81.1 146.2,80.1 144.7,78.5 143,75.9 142.1,73.9 141.7,72.6 141.3,69.9 141.4,67.2 141.7,65.9 141.8,64.6 142.4,63.3 142.4,61.9 143.3,60.6 143.7,58.6 144.7,57.3 144.6,55.9 145.5,54.6 145.2,53.3 145.8,52 145.8,51.3 145.4,50.6 145.4,50 145.8,49.3 145.8,48.6 145.2,47.3 145.5,46 144.6,44.7 144.7,43.3 143.7,42 143.3,40 142.4,38.7 142.4,37.3 141.8,36 141.7,34.7 141.4,33.4 141.3,30 141.8,27.4 143.4,24.1 145.5,21.1 146.7,20.1Z"/>
<path fill="rgb(107,107,107)" d="M147.7,20.1 149.5,19.5 150.9,19.5 152.4,20.1 154.2,21.5 155.8,23.4 157.3,26 157.9,28 158.3,30.7 158.2,33.4 157.6,36.7 156.8,39.3 154.4,45.3 153.8,49.3 153.9,52.6 154.4,55.3 156.8,61.3 157.7,64.6 158.3,68.6 158.2,71.2 157.3,74.6 156.2,76.5 154.9,78.4 152.9,80.2 151.6,80.9 150.2,81.2 148.9,81 147.5,80.4 146.2,79.4 144.8,77.9 143.5,75.9 142.6,73.9 142,71.9 141.8,69.9 141.9,67.2 142.3,64.6 142.8,63.3 143,61.9 143.8,60.6 144.3,58.6 145.2,57.3 145.3,55.9 146.1,54.6 145.9,53.3 146.5,52 146.5,51.3 146.1,50.6 146.1,50 146.5,49.3 146.5,48.6 145.9,47.3 146.1,46 145.3,44.7 145.2,43.3 144.3,42 143.8,40 143,38.7 142.8,37.3 142.3,36 141.9,33.4 141.8,30 142.4,27.4 143.5,24.7 145.5,21.9Z"/>
<path fill="rgb(110,110,110)" d="M149.5,20.1 150.9,20.1 152.2,20.6 153.6,21.6 154.9,23 156.1,24.7 157,26.7 157.6,28.7 157.8,30.7 157.7,33.4 157.1,36.7 156.3,39.3 153.7,45.3 153.3,46.6 153,49.3 153.1,52 153.5,54.6 156.3,61.3 157.2,64.6 157.8,68.6 157.7,71.2 156.7,74.6 154.9,77.6 153.6,79 152.4,79.9 151.6,80.3 150.2,80.6 148.9,80.4 147.5,79.8 146.2,78.7 144.9,77.2 144.1,75.9 143.1,73.9 142.5,71.9 142.3,69.9 142.4,67.2 142.8,64.6 143.3,63.3 143.5,61.9 144.3,60.6 144.9,58.6 145.8,57.3 146,55.9 146.8,54.6 146.7,53.3 147.3,52 147.2,51.3 146.9,50.6 146.9,50 147.2,49.3 147.3,48.6 146.7,47.3 146.8,46 146,44.7 145.8,43.3 144.9,42 144.3,40 143.5,38.7 143.3,37.3 142.8,36 142.4,33.4 142.3,30 143.1,26.7 144.9,23.5 146.9,21.3 148.2,20.4Z"/>
<path fill="rgb(114,114,114)" d="M149.3,20.7 150.9,20.7 152.2,21.3 153.6,22.3 154.6,23.4 155.6,24.8 156.5,26.7 157.1,28.7 157.3,30.7 157.1,34 156.4,37.3 155.5,40 152.6,46 152,49.3 152.1,52 152.6,54.6 155.6,60.8 156.6,63.9 157.3,67.9 157.2,71.2 156.8,73.2 156.2,74.6 154.6,77.2 153.6,78.3 152.2,79.3 150.2,80 148.9,79.8 147.5,79.1 146.2,78 145,76.5 144.2,75.2 143.4,73.2 142.8,69.9 142.9,67.2 143.3,64.6 143.8,63.3 144,61.9 144.8,60.6 145.5,58.6 146.5,57.3 146.7,55.9 147.7,54.6 147.6,53.3 148.2,52 147.9,50 148.2,49.3 148.2,48.6 147.6,47.3 147.7,46 146.7,44.7 146.5,43.3 145.2,41.3 144.8,40 144,38.7 143.8,37.3 143.3,36 142.8,32.7 142.8,30 143.6,26.7 145,24.1 146.9,22 148.2,21.1Z"/>
<path fill="rgb(118,118,118)" d="M149.2,21.4 150.2,21.3 151.6,21.6 152.9,22.4 154.2,23.7 155.4,25.4 156,26.7 156.6,28.7 156.9,30.7 156.5,34.7 155.5,38.7 154.2,41.4 151.4,46 150.9,47.3 150.2,48 149.5,47.9 149.1,47.3 148.8,46 147.7,44.7 147.2,43.3 146.1,42 145.3,40 144.5,38.7 144.3,37.3 143.8,36 143.3,32.7 143.4,29.4 143.9,27.4 144.4,26 145.5,24.2 146.8,22.7 148.2,21.7ZM150,52.6 150.2,52.6 150.9,53.3 151.4,54.6 153.9,58.6 155.2,61.3 156.4,65.2 156.9,69.2 156.5,72.6 155.7,74.6 155,75.9 152.9,78.2 151.6,79 150.2,79.3 148.9,79.1 147.7,78.5 146.8,77.9 145.5,76.4 144.8,75.2 143.9,73.2 143.2,69.9 143.4,67.2 143.8,64.6 144.3,63.3 144.5,61.9 145.3,60.6 146.1,58.6 147.2,57.3 147.7,55.9 148.8,54.6 149.1,53.3 149.5,52.7Z"/>
<path fill="rgb(121,121,121)" d="M149.1,22.1 150.2,21.9 151.6,22.2 152.9,23.1 153.8,24.1 154.9,25.5 155.8,27.4 156.1,28.7 156.4,30.7 156.1,34.7 154.9,38.8 152.9,42.4 151.6,44.1 150.9,44.7 150.2,44.9 149.5,44.8 148.9,44.5 146.4,41.3 145.1,38.7 144.3,36 143.8,32.7 143.9,29.4 144.4,27.4 144.9,26 145.8,24.7 146.9,23.4 148.2,22.4ZM149.2,55.9 150.2,55.7 150.9,55.9 152.2,57.3 153.6,59.3 154.7,61.3 155.4,63.3 156.1,65.9 156.4,68.6 156.1,71.9 155.6,73.8 154.8,75.2 152.9,77.5 151.6,78.4 150.2,78.7 149.1,78.5 148.2,78.2 146.9,77.2 145.8,75.9 144.4,73.2 143.7,69.9 143.8,67.2 144.3,64.6 145.1,61.9 146.8,58.6Z"/>
<path fill="rgb(125,125,125)" d="M149.1,22.7 150.2,22.6 151.6,22.9 152.3,23.4 153.6,24.5 154.6,26 155.3,27.4 155.7,28.7 155.9,30.7 155.6,34.7 154.4,38.7 153.6,40.3 152.2,42.1 150.9,43.1 150.2,43.3 148.9,42.9 147.7,42 146,39.3 144.8,36 144.2,32.7 144.2,30 144.6,28 145.1,26.7 145.9,25.4 146.9,24.2 148.2,23.1ZM148.6,57.9 149.5,57.4 150.2,57.3 150.9,57.5 152.2,58.5 152.9,59.3 154.1,61.3 154.9,63.2 155.4,65.2 155.9,67.9 155.8,71.2 155.3,73.2 154.6,74.6 153.6,76.1 152.3,77.2 151.6,77.7 150.2,78 149.1,77.9 148.2,77.5 146.4,75.9 144.9,73.2 144.2,70.6 144.3,67.2 144.8,64.6 145.6,61.9 147.5,58.8Z"/>
<path fill="rgb(130,130,130)" d="M149.2,23.4 150.2,23.3 151.6,23.6 152.9,24.6 153.6,25.3 154.9,27.8 155.5,30.7 155.4,32.7 154.9,35.4 153.8,38.7 152.2,41.1 151,42 150.2,42.2 149,42 148.2,41.4 146.2,38.7 145.3,36 144.7,32.7 144.7,30 145.5,27 147.1,24.7 148.2,23.8ZM149,58.6 150.2,58.4 150.9,58.5 152.2,59.5 153,60.6 153.8,61.9 154.6,63.9 155.1,65.9 155.4,68.6 155.4,70.6 155.2,71.9 154.1,74.6 153,75.9 152.2,76.6 151,77.2 150.2,77.3 149.2,77.2 148.2,76.8 146.5,75.2 145.7,73.9 145.1,72.6 144.7,69.9 144.8,67.2 145.3,64.6 146.2,61.9 148.1,59.3Z"/>
<path fill="rgb(137,137,137)" d="M149.4,24.7 150.9,24.8 152,25.4 152.9,26.2 153.9,28 154.5,30.7 154.2,34 153.2,37.3 151.8,39.3 150.9,40 150.2,40.1 148.9,39.8 147.5,38.5 146.4,36 145.7,32 145.7,30 146.5,27.4 147.5,25.9 148.2,25.3ZM149.4,60.6 150.2,60.5 150.9,60.6 151.8,61.3 152.8,62.6 153.9,65.2 154.4,68.6 154.3,71.2 153.6,73.3 152.2,75.1 151.6,75.5 150.2,76 149.4,75.9 148.2,75.3 146.9,73.9 146,71.9 145.7,69.9 145.8,67.2 146.4,64.6 147.7,61.9 148.3,61.3Z"/>
<path fill="rgb(144,144,144)" d="M148.7,26.7 149.5,26.3 150.2,26.2 151.6,26.8 152.6,28 153.3,30 153.2,32.7 152.6,35.4 151.6,37.2 150.9,37.7 150.2,38 149.5,37.9 148.2,36.7 147.5,35.4 146.9,32.7 146.8,30.7 147,29.4 147.5,28ZM148.8,63.3 149.5,62.7 150.2,62.6 150.9,62.9 151.6,63.4 152.6,65.2 153.2,67.9 153.3,69.9 152.9,71.9 152.2,73.1 151.6,73.8 150.2,74.4 148.9,74 148.2,73.5 147.5,72.6 146.9,70.6 146.8,69.2 147,67.2 147.8,64.6Z"/>
<path fill="rgb(151,151,151)" d="M149.4,28.7 150.2,28.5 150.9,28.8 151.6,29.7 151.8,30.7 151.6,33 150.9,34.3 150.2,34.7 149.5,34.5 148.9,33.8 148.4,32 148.5,30 148.9,29.1ZM150.1,65.9 150.9,66.3 151.4,67.2 151.8,69.2 151.7,70.6 151.4,71.2 150.9,71.8 150.2,72.1 149.5,72 148.9,71.5 148.5,70.6 148.3,69.2 148.5,67.9 148.9,66.8 149.5,66.1Z"/>
</g></g>
<g clip-path="url(#cp1)"><g filter="url(#jet)">
<rect x="172.40" y="-2.20" width="55.20" height="105.00" fill="rgb(13,13,13)"/>
<path fill="rgb(15,15,15)" d="M182.2,-1.7 218.2,-1.7 218.2,0.8 220,4.8 221.8,10.1 223.1,15.4 224.3,21.3 226.9,21.3 226.9,79.3 224.3,79.3 223.1,85.2 221.8,90.5 220,95.8 218.2,99.8 218.2,102.3 182.2,102.3 182.2,99.8 179.5,93.2 177.8,87.2 175.6,75.3 173.6,75.3 173.6,25.3 175.6,25.3 177.8,13.4 179.5,7.4 182.2,0.8Z"/>
<path fill="rgb(17,17,17)" d="M186,-1.7 214.2,-1.7 214.2,0.8 216.7,5.5 218.6,10.8 219.8,16.1 220.7,21.4 221.4,26 221.9,31.4 222,38 221.9,48 221.9,67.9 221.2,75.9 219.3,87.2 217.3,93.8 215.8,97.1 214.2,99.8 214.2,102.3 186,102.3 186,99.8 185.3,97.8 184.7,96.5 183.1,93.8 182.3,91.8 181.7,88.5 180.4,83.9 179.9,79.9 179.1,75.9 178.5,67.9 178.4,59.3 178.7,54.6 178.5,50 178.7,46.6 178.4,42 178.4,33.4 179.1,24.7 179.9,20.7 180.5,16.1 181.7,12.1 182.5,8.1 183.1,6.8 184.9,3.8 186,0.8Z"/>
<path fill="rgb(19,19,19)" d="M188.4,-1.7 211.9,-1.7 211.9,0.8 213.7,3.5 215.4,6.8 216.6,10.1 217.8,14.8 219.4,24.1 220.1,32 220.2,38 219.9,48.6 220.2,63.9 220,71.2 219.2,77.9 217.3,87.8 216.1,91.8 215.1,94.5 213.7,97.1 211.9,99.8 211.9,102.3 188.4,102.3 188.4,99.8 186.8,96.5 185,93.8 184.3,92.5 183.9,91.2 183.6,88.3 182,83.9 181.8,79.9 180.7,75.2 180.6,71.2 180.1,67.2 180.5,62.6 180.2,58.6 181,54.6 180.4,51.3 180.3,50 181,46 180.2,42 180.5,38 180.1,33.4 180.6,29.4 180.7,25.4 181.8,20.7 182,16.7 183.6,12.1 184,8.8 184.6,7.4 186.8,4.1 188.4,0.8Z"/>
<path fill="rgb(21,21,21)" d="M190.3,-1.7 210,-1.7 210,0.8 212.6,4.1 214.6,8.1 215.9,12.1 217.1,17.4 218.5,26 218.9,32.7 218.6,48.6 219,65.2 218.7,72.6 217.4,81.9 215.9,88.5 214.6,92.5 213.3,95.1 211.7,97.8 210,99.8 210,102.3 190.3,102.3 190.3,99.8 185.6,92.5 185.2,91.2 184.9,88.5 183.1,83.9 183,79.9 181.8,75.9 181.7,74.6 181.8,71.2 181.1,67.2 181.2,65.9 181.8,62.6 181.3,59.9 181.3,57.9 181.7,56.6 182.7,54.6 182.6,54 181.7,52 181.4,50.6 181.5,49.3 182.6,46.6 182.7,46 181.5,43.3 181.2,42 181.3,40.7 181.8,38 181.1,34 181.2,32.7 181.8,29.4 181.7,25.4 181.9,24.1 183,20.7 183.1,16.7 184.9,12.1 185.3,8.8 185.9,7.4 190.3,0.8Z"/>
<path fill="rgb(23,23,23)" d="M192,-1.7 208.4,-1.7 208.4,0.8 210.3,2.7 211.8,4.8 213.2,7.4 214.5,10.8 215.9,16.1 217.2,23.4 217.9,28.7 218.1,34 217.6,48 217.6,54 218.1,65.9 217.7,73.9 216,83.9 214.5,89.8 213.2,93.2 211.8,95.8 210.3,97.9 208.4,99.8 208.4,102.3 192,102.3 192,99.8 190.2,97.8 187,93.2 186.4,91.8 185.7,87.8 184.4,85.2 184,83.9 183.9,79.9 182.6,75.9 182.5,74.6 182.8,71.2 181.9,67.9 181.9,66.6 182.8,62.6 182.1,59.9 182,58.6 182.3,57.3 183.9,54.6 183.8,54 182.3,51.3 182.2,50 182.6,48.6 183.8,46.6 183.9,46 182.3,43.3 182,42 182.1,40.7 182.8,38 181.9,34 181.9,32.7 182.8,29.4 182.5,25.4 182.7,24.1 183.9,20.7 184,16.7 184.4,15.4 185.7,12.8 186.4,8.8 187,7.4 190.2,2.8 192,0.8Z"/>
<path fill="rgb(26,26,26)" d="M193.5,-1.7 206.9,-1.7 206.9,0.8 208.9,2.6 210.7,4.8 211.9,6.8 213.4,10.1 215.1,16.1 216.8,25.4 217.2,30 217.4,34.7 216.8,50 217.4,67.2 216.8,75.2 215.1,84.5 213.4,90.5 211.9,93.8 210.7,95.8 208.9,98 206.9,99.8 206.9,102.3 193.5,102.3 193.5,99.8 192.2,98.7 190.9,97.2 187.9,93.2 187.3,91.8 186.5,87.8 185.1,85.2 184.7,83.9 184.7,79.9 183.4,76.5 183.1,75.2 183.5,71.2 182.5,67.9 182.5,66.6 182.8,65.2 183.6,63.3 183.6,62.6 182.7,59.9 182.6,58.6 183,57.3 184.8,54.6 184.7,54 183.3,52 182.8,50.6 183,49.3 184.7,46.6 184.8,46 183,43.3 182.6,42 182.7,40.7 183.6,38 183.6,37.3 182.8,35.4 182.5,34 182.5,32.7 183.5,29.4 183.1,25.4 183.4,24.1 184.7,20.7 184.7,16.7 185.1,15.4 186.5,12.8 187.3,8.8 187.9,7.4 190.9,3.4 192.2,1.9 193.5,0.8Z"/>
<path fill="rgb(28,28,28)" d="M195,-1.7 205.4,-1.7 205.4,0.8 207.6,2.4 209.6,4.6 211.1,6.8 212.7,10.1 213.8,13.4 214.6,16.7 215.9,23.4 216.4,27.4 216.7,35.4 216.2,46 216.1,52 216.7,66.6 216.6,71.2 216.1,75.9 214.5,84.5 212.7,90.5 211.1,93.8 209.6,96 207.6,98.2 205.4,99.8 205.4,102.3 195,102.3 195,99.8 193.6,98.7 191.9,97.1 189.3,93.8 188.1,91.8 187.2,87.8 185.8,85.2 185.3,83.9 185.3,79.9 183.9,76.5 183.6,75.2 184.1,71.2 183.1,67.9 183,66.6 183.3,65.2 184.2,63.3 184.3,62.6 183.3,59.9 183.1,58.6 183.5,57.3 185.4,54.6 185.4,54 183.9,52 183.4,50.6 183.6,49.3 185.4,46.6 185.4,46 183.5,43.3 183.1,42 183.3,40.7 184.3,38 184.2,37.3 183.3,35.4 183,34 183.1,32.7 184.1,29.4 183.6,26 183.7,24.7 185.3,20.7 185.3,16.7 185.8,15.4 187.2,12.8 188.1,8.8 189.3,6.8 191.9,3.5 193.6,1.9 195,0.8Z"/>
<path fill="rgb(30,30,30)" d="M196.5,-1.7 204,-1.7 204,0.8 206.3,2.3 207.6,3.4 208.9,4.9 210.3,6.8 212,10.1 213.7,15.4 215.3,23.4 216,29.4 216.2,36 215.6,46 215.6,51.3 216.2,67.2 215.9,72.6 215.3,77.2 213.5,85.8 211.7,91.2 210.3,93.9 208.3,96.5 206.3,98.3 204,99.8 204,102.3 196.5,102.3 196.5,99.8 194.2,98.3 192.9,97.2 190.9,94.9 189.2,92.5 188.6,91.2 187.8,87.8 185.9,83.9 185.9,79.9 184.4,76.5 184.1,75.2 184.6,71.2 183.7,68.6 183.4,67.2 183.6,65.9 184.7,63.3 184.8,62.6 183.7,59.9 183.6,58.6 183.7,57.9 184,57.3 185.7,55.3 186,54.6 185.9,54 184.4,52 183.9,50.6 184,49.3 185.6,47.3 185.9,46.6 186,46 185.7,45.3 184,43.3 183.6,42 183.7,40.7 184.8,38 184.7,37.3 183.8,35.4 183.5,34 183.5,32.7 184.6,29.4 184.1,26 184.2,24.7 185.9,20.7 185.9,16.7 187.8,12.8 188.8,8.8 190.1,6.8 192.3,4.1 194.2,2.3 196.5,0.8Z"/>
<path fill="rgb(32,32,32)" d="M197.9,-1.7 202.6,-1.7 202.6,0.8 205.6,2.7 207.6,4.3 209.1,6.1 210.7,8.8 212.4,12.8 213.8,18.1 215.1,25.4 215.7,31.4 215.7,36.7 215.1,46 215.1,50.6 215.7,63.3 215.7,67.9 215.4,73.2 214.7,77.9 212.8,86.5 211.9,89.2 210.7,91.8 209.1,94.5 207.6,96.3 205.6,97.9 202.6,99.8 202.6,102.3 197.9,102.3 197.9,99.8 194.9,97.9 193.2,96.5 190.8,93.8 189.5,91.8 188.3,87.8 186.4,83.9 186.4,79.9 184.9,76.5 184.5,75.2 185.1,71.2 183.8,67.2 184,65.9 185,63.9 185.3,62.6 184.2,59.9 184,58.6 184.5,57.3 186.1,55.3 186.4,54.6 186.2,53.7 184.9,52 184.3,50.6 184.5,49.3 186.2,46.9 186.4,46 186.1,45.3 184.5,43.3 184,42 184.2,40.7 185.3,38 185.2,37.3 184.3,35.4 183.9,34 183.9,32.7 185.1,29.4 184.5,26 184.7,24.7 186.4,20.7 186.4,16.7 188.3,12.8 189.5,8.8 190.8,6.8 193.2,4.1 194.9,2.7 197.9,0.8Z"/>
<path fill="rgb(34,34,34)" d="M198.1,1.5 199.6,0.9 200.9,0.9 202.3,1.4 203.6,2.1 205.6,3.5 207.6,5.2 208.9,6.9 210.1,8.8 211.9,12.8 213.3,18.1 214.7,25.4 215.3,32.7 215.2,37.3 214.7,45.3 214.6,50 214.7,54.6 215.3,63.9 215.3,69.2 214.7,75.2 213.3,82.5 212.5,85.8 211.4,89.2 210.1,91.8 208.4,94.5 206.4,96.5 204.3,98.1 201.6,99.5 200.3,99.7 198.9,99.5 197.6,98.9 194.2,96.6 192.1,94.5 190.2,91.8 188.8,87.8 186.9,83.9 186.8,79.9 186.3,78.5 185.3,76.5 185,75.2 185.5,71.2 184.5,68.6 184.2,67.2 184.4,65.9 185.6,63.4 185.7,62.6 185.5,61.9 184.6,59.9 184.4,58.6 184.9,57.3 186.5,55.3 186.8,54.6 186.8,54 186.5,53.3 185.3,52 184.7,50.6 184.9,49.3 186.5,47.3 186.8,46.6 186.8,46 186.5,45.3 184.9,43.3 184.4,42 184.6,40.7 185.5,38.7 185.7,38 185.6,37.2 184.6,35.4 184.2,34 184.3,32.7 185.5,29.4 185,26 185.1,24.7 186.8,20.7 186.9,16.7 188.8,12.8 190.2,8.8 191.6,6.8 193.6,4.5 195.6,3Z"/>
<path fill="rgb(36,36,36)" d="M198.1,2.1 199.6,1.6 200.9,1.6 202.3,2.1 203.6,2.8 205.6,4.2 207,5.5 208.7,7.4 209.9,9.4 211.8,14.1 213.3,20.1 214.5,26.7 214.9,32.7 214.8,37.3 214.3,45.7 214.2,50 214.3,54.9 214.8,63.3 214.9,68.6 214.4,74.6 213.1,81.2 211.4,87.8 210.2,90.5 208.7,93.2 206.9,95.3 204.9,96.9 202.3,98.5 200.3,99 198.2,98.5 194.9,96.4 192.2,93.8 190.5,91.2 189,87.2 187.4,83.9 187.2,79.9 186.7,78.5 185.7,76.5 185.3,75.2 185.9,71.2 184.5,67.2 184.7,65.9 185.7,63.9 186,62.6 185.9,61.9 184.9,59.9 184.7,58.6 185.2,57.3 186.9,55.3 187.2,54.6 187.1,54 186.8,53.3 185.7,52 185.1,50.6 185.3,49.3 186.8,47.3 187.1,46.6 187.2,46 186.9,45.3 185.2,43.3 184.7,42 184.9,40.7 185.9,38.7 186,38 186,37.3 184.6,34 184.6,32.7 185.9,29.4 185.3,26 185.4,24.7 187.2,20.7 187.4,16.7 189,13.4 190.8,8.8 192.2,6.8 194.2,4.8 196.2,3.2Z"/>
<path fill="rgb(38,38,38)" d="M198.1,2.8 198.9,2.4 200.3,2.2 201.6,2.4 202.9,3.1 204.9,4.4 206.9,6.1 208.3,7.7 209.4,9.4 211.4,14.1 212.7,19.4 214,26 214.5,32.7 214.5,37.3 213.9,46 213.8,50 213.9,54.6 214.5,63.9 214.5,68.6 214.1,73.9 213.2,79.2 211.9,84.5 211.1,87.2 210,89.8 208.5,92.5 206.9,94.5 204.9,96.2 202.3,97.9 200.3,98.4 198.2,97.9 194.9,95.7 192.4,93.2 190.9,91 189.6,87.6 187.8,83.9 187.5,79.9 187.1,78.5 186,76.5 185.7,75.2 186.2,71.2 184.9,67.2 185.1,65.9 186.1,63.9 186.4,62.6 186.2,61.9 185.3,59.9 185.1,58.6 185.6,57.3 186.9,55.8 187.5,54.6 187.5,54 187.2,53.3 185.7,51.3 185.5,50.6 185.7,49.3 187.2,47.3 187.5,46.6 187.5,46 186.9,44.8 185.6,43.3 185.1,42 185.3,40.7 186.2,38.7 186.4,38 186.2,37.1 185.3,35.4 184.9,34 185,32.7 186.2,29.4 185.7,26 185.8,24.7 187.5,20.7 187.8,16.7 189.4,13.4 191,9.4 192.4,7.4 194.2,5.5 196.2,3.9Z"/>
<path fill="rgb(40,40,40)" d="M198,3.5 198.9,3 200.3,2.8 201.6,3 202.9,3.7 204.9,5 206.3,6.1 208,8.1 209.2,10.1 211.1,14.8 212.7,20.7 213.8,26.7 214.2,32.7 214.1,37.3 213.5,45.3 213.4,50 213.5,54.6 214.1,63.3 214.2,67.9 213.8,73.2 213.1,77.9 211.1,85.8 209.9,89.2 208.4,91.8 206.9,93.8 204.6,95.8 202.3,97.3 200.3,97.8 198.2,97.3 195,95.1 192.9,93.1 191.2,90.5 188.2,83.9 187.9,79.9 186.1,75.9 186,74.6 186.5,71.2 185.2,67.2 185.4,65.9 186.4,63.9 186.7,62.6 186.6,61.9 185.6,59.9 185.4,58.6 185.9,57.3 187.6,55.3 187.8,54.6 187.5,53.3 186,51.3 185.8,50.6 186,49.3 187.5,47.3 187.8,46 187.6,45.3 185.9,43.3 185.4,42 185.6,40.7 186.6,38.7 186.7,38 186.4,36.7 185.2,34 185.3,32.7 186.5,29.4 186,26 186.1,24.7 187.9,20.7 188.2,16.7 191.6,9.4 192.9,7.5 194.2,6.1 196.2,4.5Z"/>
<path fill="rgb(43,43,43)" d="M199.5,3.5 200.3,3.4 201.6,3.6 202.9,4.2 204.9,5.6 207.4,8.1 209.4,11.4 211.1,16.1 212.7,22.7 213.5,27.4 213.9,33.4 213.1,50 213.2,54.6 213.8,63.9 213.9,68.6 213.4,73.9 212.6,78.5 210.5,86.5 209.4,89.2 208.3,91.3 206.3,93.8 204.3,95.5 202.3,96.7 200.3,97.2 198.2,96.7 195.6,95 193,92.5 191.6,90.3 188.7,83.9 188.2,79.9 186.4,75.9 186.3,74.6 186.8,71.2 185.5,67.2 185.7,65.9 186.7,63.9 187,62.6 186.9,61.9 185.9,59.9 185.7,58.6 185.9,57.9 187.6,55.7 188,54.6 187.8,53.3 186.4,51.3 186.2,50.6 186.4,49.3 187.8,47.3 188,46 187.6,44.9 185.9,42.7 185.7,42 185.9,40.7 186.9,38.7 187,38 186.7,36.7 185.7,34.7 185.5,33.4 186.8,29.4 186.3,26 186.4,24.7 188.2,20.7 188.7,16.7 192.1,9.4 193.6,7.5 195.6,5.6 197.6,4.2Z"/>
<path fill="rgb(46,46,46)" d="M198.4,4.8 199.6,4.4 200.9,4.4 203.3,5.5 204.9,6.7 206.3,7.9 207.6,9.6 208.7,11.4 210.5,16.1 212,22.1 213,27.4 213.4,32.7 213.3,37.3 212.6,45.3 212.5,50 212.6,54.6 213.3,63.3 213.4,67.9 213.1,72.6 212.5,76.5 210.3,85.2 209.3,87.8 207.9,90.5 206.3,92.7 204.3,94.5 202.3,95.8 200.3,96.3 198.2,95.8 195.6,94 193.5,91.8 191.8,89.2 189.3,83.9 188.5,79.2 187,75.9 186.8,74.6 187.2,71.2 185.9,67.2 186.1,65.9 187.1,63.9 187.4,62.6 187.1,61.3 186.4,59.9 186.2,58.6 186.8,57.3 188.2,55.4 188.5,54.6 188.3,53.3 187,51.3 186.7,50.6 186.7,50 187,49.3 188.3,47.3 188.5,46 188.2,45.2 186.8,43.3 186.2,42 186.4,40.7 187.1,39.3 187.4,38 187.1,36.7 186.1,34.7 185.9,33.4 187.2,29.4 186.9,25.4 187.2,24.1 188.3,22.1 188.7,20.7 189.3,16.7 192.2,10.6 193.5,8.8 194.9,7.2 196.9,5.6Z"/>
<path fill="rgb(50,50,50)" d="M198.9,5.5 200.3,5.2 200.9,5.3 202.3,5.8 203.6,6.6 206.3,9 208.3,12.1 209.9,16.1 211.8,23.4 212.6,28 212.9,32.7 212.8,37.3 212.1,45.3 212,50 212.1,54.6 212.8,63.3 212.9,67.9 212.6,72.6 212,76.5 209.9,84.5 208.9,87.2 207.6,89.7 206,91.8 204.3,93.5 202.3,94.8 200.3,95.4 198.9,95.1 197.6,94.5 194.9,92.3 192.9,89.8 190.6,85.2 189.8,83.2 189,79.2 187.5,75.9 187.3,74.6 187.7,71.2 186.4,67.2 186.6,65.9 187.6,63.9 187.8,62.6 187.6,61.4 186.7,59.3 186.7,58.6 187.3,57.3 188.4,55.9 188.9,54.6 188.7,53.3 187.3,50.6 187.6,49.3 188.7,47.3 188.9,46 188.4,44.7 187.3,43.3 186.7,42 186.7,41.3 187.6,39.2 187.8,38 187.6,36.7 186.6,34.7 186.4,33.4 187.7,29.4 187.3,25.4 187.8,24.1 189,21.4 190,16.7 192.9,10.8 194.2,9 195.6,7.6 197.6,6.1Z"/>
<path fill="rgb(53,53,53)" d="M199.6,6.1 200.3,6 201.6,6.3 202.9,7 204.3,8 206.3,10.1 208.2,13.4 209.7,17.4 211.5,24.1 212.1,28 212.4,33.4 212.2,38.7 211.6,46 211.5,50 211.6,54.6 212.3,63.3 212.4,67.9 212.1,72.6 211.5,76.5 209.3,84.5 208.3,87.2 207.2,89.2 205.6,91.3 203.6,93.1 201.6,94.3 200.3,94.6 198.9,94.3 197.6,93.6 194.9,91.3 193.3,89.2 191.2,85.2 190.4,83.2 189.5,79.2 188,75.9 187.8,74.6 188.1,71.2 186.8,67.2 187,65.9 187.9,63.9 188.2,62.6 187.9,61.3 187.2,59.3 187.2,58.6 187.4,57.9 188.9,55.7 189.3,54.6 189.2,53.3 187.9,50.6 188.1,49.3 189.2,47.3 189.3,46 188.9,44.9 187.4,42.7 187.2,42 187.2,41.3 187.9,39.3 188.2,38 187.9,36.7 187,34.7 186.8,33.4 188.1,29.4 187.8,25.4 189.5,21.4 190.6,16.7 193.3,11.4 194.8,9.4 196.2,8 198.2,6.6Z"/>
<path fill="rgb(57,57,57)" d="M198.2,7.4 199.6,6.9 200.3,6.9 200.9,6.9 202.3,7.5 204.9,9.6 206.3,11.2 207.3,12.8 209,16.7 210.7,22.7 211.6,27.4 212,32.7 211.9,38 211,48.6 211.1,54 211.8,61.9 212,66.6 211.8,71.2 211.3,75.2 209.2,83.2 208.2,85.8 206.9,88.4 205.4,90.5 203.6,92.2 201.6,93.5 200.3,93.7 199.6,93.7 198.2,93.2 195.6,91.1 193.6,88.5 191.8,85.2 191,83.2 189.9,79.2 188.5,75.9 188.2,74.6 188.4,71.2 187.2,67.2 187.5,65.9 188.3,63.9 188.6,62.6 188.3,61.3 187.7,59.3 187.7,58.6 187.9,57.9 189.5,55.3 189.7,54 189.6,53.3 188.4,50.6 188.6,49.3 189.6,47.3 189.7,46 189.2,44.7 187.9,42.7 187.7,42 187.7,41.3 188.3,39.3 188.6,38 188.3,36.7 187.3,34 187.4,32.7 188.4,29.4 188.3,25.4 189.9,21.4 191.2,16.7 192.9,13.3 195.1,10.1 196.9,8.3Z"/>
<path fill="rgb(60,60,60)" d="M198.5,8.1 200.3,7.6 200.9,7.7 202.3,8.3 203.6,9.2 204.9,10.5 207,13.4 208.7,17.4 210.4,23.4 211.3,28 211.6,32.7 211.5,38 210.7,45.3 210.6,48.6 210.7,54 211.4,61.9 211.6,66.6 211.4,71.2 210.9,75.2 210.1,78.5 208.7,83.2 207.6,85.8 206.6,87.8 205.1,89.8 203.6,91.4 201.6,92.7 200.3,93 199.6,92.9 198.2,92.3 196.2,90.8 194.2,88.4 192.4,85.2 191.5,83.2 190.4,79.2 188.7,75.2 188.8,71.2 187.7,67.2 187.9,65.9 188.7,63.9 188.9,62.6 188.1,59.3 188.1,58.6 189.9,55.3 190,54 189,50.6 189.2,49.3 190,47.3 190,46 189.6,44.7 188.4,42.7 188.1,42 188.1,41.3 188.9,38 188.7,36.7 187.7,34 187.8,32.7 188.8,29.4 188.7,25.4 190.4,21.4 191.8,16.7 193.5,13.4 195.6,10.5 196.9,9.2Z"/>
<path fill="rgb(64,64,64)" d="M198.8,8.8 199.6,8.5 200.9,8.5 202.8,9.4 204.9,11.4 206.9,14.5 208.4,18.1 210.2,24.1 210.9,28 211.2,32.7 211.1,38 210.3,45.3 210.2,48.6 210.3,54.3 211,61.9 211.2,65.9 211.1,69.9 210.6,74.6 209.8,77.9 208.4,82.5 207.4,85.2 206.3,87.2 204.9,89.2 202.9,91.1 201.6,91.9 200.3,92.2 199.6,92.1 198.2,91.6 196.2,89.9 194.2,87.4 192.6,84.5 191.8,82.5 190.8,79.2 189.2,75.2 189.1,71.2 188,67.2 188.2,65.9 189,63.9 189.2,62.6 188.6,59.3 188.6,58.6 190.2,55.3 190.4,54 189.5,50.6 189.7,49.3 190.3,47.3 190.4,46 190,44.7 188.6,42 188.6,41.3 189.2,38 189,36.7 188.2,34.7 188,33.4 189.1,29.4 189.2,25.4 190.8,21.4 192,17.4 193.6,14.3 194.9,12.2 196.1,10.8 197.6,9.5Z"/>
<path fill="rgb(68,68,68)" d="M199,9.4 200.3,9.2 200.9,9.2 202.3,9.8 203.6,10.9 204.7,12.1 206.5,14.8 207.9,18.1 209.8,24.1 210.5,28 210.9,32.7 210.7,38 209.9,45.3 209.8,48.6 209.9,54.6 210.6,61.3 210.9,65.9 210.7,70.6 210.2,74.6 209.4,77.9 208.3,81.6 207.1,84.5 206.1,86.5 204.7,88.5 202.9,90.3 201.6,91.1 200.3,91.4 198.9,91.1 196.9,89.7 194.9,87.4 193.2,84.5 189.6,75.2 189.5,71.2 188.4,67.2 188.6,65.9 189.3,63.9 189.6,62.6 189,59.3 189.1,58.6 190.3,55.9 190.8,54 190,50.6 190.2,49.3 190.7,47.3 190.7,46 190.3,44.7 189.1,42 189,41.3 189.6,38 189.3,36.7 188.6,34.7 188.4,33.4 189.5,29.4 189.6,25.4 192.6,17.4 193.9,14.8 196.2,11.5 197.6,10.3Z"/>
<path fill="rgb(71,71,71)" d="M199.2,10.1 200.3,9.9 200.9,10 202.9,11.1 204.9,13.3 206.6,16.1 208.3,20.3 209.6,24.7 210.2,28.7 210.5,33.4 210.4,38 209.5,45.3 209.4,48.6 209.5,54.6 210.2,61.3 210.5,65.9 210.4,69.9 210,73.9 209.2,77.2 208.3,80.3 206.9,83.8 205.9,85.8 204.5,87.8 202.9,89.5 201.6,90.4 200.3,90.7 198.9,90.4 196.9,88.9 194.9,86.5 193.4,83.9 190,75.2 189.8,71.2 188.8,67.2 189,65.9 189.7,63.9 189.9,62.6 189.4,59.3 189.5,58.6 190.7,55.9 191.1,54 190.5,50.6 191.1,47.3 191.1,46 190.7,44.7 189.5,42 189.4,41.3 189.9,38 189.7,36.7 189,34.7 188.8,33.4 189.8,29.4 190,25.4 192.9,17.9 194.2,15.2 195.6,13.2 196.9,11.7 198.2,10.6Z"/>
<path fill="rgb(75,75,75)" d="M199.4,10.8 200.9,10.7 201.6,11 202.9,11.9 204.9,14.1 206.3,16.5 208,20.7 209.2,24.7 209.9,28.7 210.2,33.4 210,38 209.2,45.3 209,48.6 209.1,54.6 209.9,61.3 210.2,65.9 210.1,69.9 209.6,73.9 209,76.5 208,79.9 206.7,83.2 205.6,85.4 204.3,87.3 202.9,88.7 201.6,89.6 200.3,90 198.9,89.6 196.9,88.1 195.1,85.8 193.6,83.2 190.4,75.2 190.1,71.2 189.2,67.2 189.4,65.9 190,63.9 190.2,62.6 189.9,58.6 191.1,55.9 191.4,54 191,50.6 191.4,47.3 191.4,46 191.1,44.7 189.9,42 190.2,38 189.2,34 189.3,32.7 190.1,29.4 190.3,26 190.6,24.7 193.1,18.7 194.7,15.4 196.9,12.5 198.2,11.3Z"/>
<path fill="rgb(78,78,78)" d="M199.6,11.4 200.9,11.4 201.6,11.7 202.9,12.7 204.7,14.8 206.3,17.6 208,22.1 209,25.4 209.6,29.4 209.9,33.4 209.7,38 208.8,45.3 208.6,48.6 208.7,54.6 209.6,61.3 209.9,65.9 209.8,69.9 209.3,73.9 208.6,76.5 207.6,79.8 206.3,83 205.1,85.2 202.9,87.9 201.6,88.9 200.3,89.2 198.9,88.9 197.5,87.8 195.8,85.8 194.2,83.2 190.8,75.2 190.3,70.6 189.6,67.2 190.5,62.6 190.4,58.6 191.4,55.9 191.8,54 191.5,50.6 191.7,46 191.4,44.7 190.4,42 190.5,38 189.6,34 189.7,32.7 190.4,29.4 190.7,26 191,24.7 193.5,18.7 194.9,16 196.2,14.1 197.5,12.8 198.9,11.7Z"/>
<path fill="rgb(82,82,82)" d="M200.1,12.1 201.6,12.4 202.9,13.5 204.5,15.4 206.3,18.6 207.9,22.7 208.8,26 209.3,29.4 209.6,33.4 209.4,38 208.4,45.3 208.2,49.3 208.4,54.6 209.2,61.3 209.5,65.2 209.5,69.2 209,73.2 208.5,75.9 207.6,78.6 206.3,82 204.9,84.5 203.6,86.4 202.3,87.7 200.9,88.4 200.3,88.5 198.9,88.2 197.6,87.2 195.9,85.2 194.2,82.3 191.2,75.2 190.6,70.6 189.9,67.2 190.8,62.6 190.8,58.6 191.8,55.9 192.1,54 191.9,50.6 192.1,46 190.8,42 190.8,38 190,34 190,32.7 190.8,29.4 191.1,26 191.7,24.1 193.6,19.7 195.6,15.9 196.9,14.1 198.2,12.9 198.9,12.4Z"/>
<path fill="rgb(85,85,85)" d="M198.5,13.4 199.6,12.9 200.3,12.8 201.6,13.2 203.4,14.8 204.9,17 206.7,20.7 208.1,24.7 208.9,28.7 209.2,32.7 209.1,37.3 208.1,45.3 207.9,49.3 208,54.6 208.9,61.3 209.2,65.2 209.2,68.6 208.8,72.6 208.3,75.2 207.5,77.9 206.3,80.9 204.9,83.6 203.6,85.6 202.3,87 200.9,87.7 200.3,87.8 198.9,87.4 197.6,86.4 196.1,84.5 194.2,81.3 191.6,75.2 190.3,67.2 191.1,62.6 191.1,59.3 192.3,55.3 192.5,53.3 192.3,50.6 192.4,46 191.1,41.3 191.1,38 190.3,34 190.4,32.7 191,30 191.5,26 192.1,24.1 194.2,19.3 195.6,16.8 196.9,14.9Z"/>
<path fill="rgb(89,89,89)" d="M198.6,14.1 199.6,13.6 200.3,13.5 201.6,13.9 203.2,15.4 204.9,17.9 206.8,22.1 207.9,25.4 208.6,28.7 208.9,32.7 208.7,38 207.7,45.3 207.5,49.3 207.7,54.6 208.6,61.3 208.9,65.2 208.9,69.2 208.5,72.6 207.3,77.2 204.9,82.7 203.6,84.8 202.3,86.2 200.9,87 200.3,87.1 198.9,86.7 197.6,85.6 195.8,83.2 194.2,80.3 192,75.2 190.6,67.2 191.4,62.6 191.5,59.3 192.6,55.3 192.8,53.3 192.7,46 191.5,41.3 191.4,38 190.7,34 190.7,32.7 191.8,26 192.5,24.1 195.8,17.4 197.2,15.4Z"/>
<path fill="rgb(93,93,93)" d="M198.8,14.8 199.6,14.3 200.3,14.2 201.6,14.7 203.1,16.1 204.9,18.9 206.4,22.1 207.6,25.4 208.3,28.7 208.6,32.7 208.4,38 207.4,45.3 207.1,49.3 207.3,54.6 208.3,61.3 208.6,65.2 208.6,69.2 208.2,72.6 207.6,75.2 206.9,77.3 204.5,82.5 203.6,83.9 202.3,85.4 200.9,86.3 200.3,86.4 198.9,86 197.3,84.5 195.6,81.9 193.8,78.5 192.2,74.6 191,67.2 191.7,62.6 191.9,59.3 193,55.3 193.2,52.6 193.1,46 191.9,41.3 191.6,37.3 191,34 191.1,32.7 192,26.7 192.9,24.1 194.9,19.9 196.2,17.6 197.6,15.8Z"/>
<path fill="rgb(96,96,96)" d="M198.9,15.4 200.3,15 201.6,15.4 203,16.7 204.9,19.8 206.3,22.7 207.4,26 208.1,29.4 208.3,32.7 208.1,38 207,45.3 206.8,49.3 206.9,54.6 207.9,61.3 208.3,65.2 208.3,68.6 208,71.9 206.8,76.5 204.7,81.2 203.6,83.1 202.3,84.7 200.9,85.5 200.3,85.6 198.9,85.2 197.6,84 195.7,81.2 193.9,77.9 192.6,74.6 191.3,67.2 192,62.6 192.3,59.3 193.3,55.3 193.6,52.6 193.5,46.6 193.2,44.7 192.3,41.3 191.9,37.3 191.4,34 191.4,32.7 192.4,26.7 193.3,24.1 196.2,18.4 197.6,16.6Z"/>
<path fill="rgb(100,100,100)" d="M199,16.1 200.3,15.7 201.6,16.2 202.9,17.5 204.9,20.6 206.3,23.5 207.3,26.7 207.8,30 208,33.4 207.8,38 206.7,45.3 206.4,49.3 206.6,54.6 207.6,61.3 208,65.2 208,68.6 207.7,71.9 207.1,74.6 206.5,76.5 204.3,81.2 202.3,83.9 200.9,84.8 200.3,84.9 198.9,84.5 197.6,83.2 195.6,80.2 194,77.2 192.8,73.9 191.7,67.2 192.6,59.3 193.8,54.6 193.9,52 193.9,46.6 192.5,40.7 191.7,34 191.8,32 192.8,26.7 193.7,24.1 196.6,18.7 197.6,17.4Z"/>
<path fill="rgb(103,103,103)" d="M199.2,16.7 200.3,16.4 201.6,16.9 202.9,18.3 204.9,21.5 206.1,24.1 206.9,26.7 207.5,30 207.7,33.4 207.5,38 206.2,46 206,50 206.2,54.6 207.2,60.6 207.7,64.6 207.7,67.9 207.4,71.2 206.6,75.2 204.9,79.2 203.6,81.4 202.3,83.1 200.9,84 200.3,84.2 198.9,83.7 197.6,82.4 195.9,79.9 194.2,76.9 193.5,75.2 193,73.2 192,67.2 192.9,59.9 194.1,54.6 194.3,50.6 194.1,46 193,41.3 192.1,34.7 192.2,32 193.1,26.7 194.1,24.1 196.9,19.1 198.2,17.5Z"/>
<path fill="rgb(107,107,107)" d="M199.4,17.4 200.3,17.2 201.6,17.7 202.9,19.1 204.9,22.3 206,24.7 206.8,27.4 207.2,30 207.4,33.4 207.2,38 205.9,46 205.7,50 205.9,54.6 206.9,60.6 207.4,64.6 207.4,67.9 207.1,71.2 206.2,75.2 204.4,79.2 202.3,82.3 200.9,83.3 200.3,83.4 198.9,82.9 197.6,81.6 195.9,79.2 194.5,76.5 193.3,73.2 192.4,67.2 193.2,59.9 194.5,54.6 194.7,50.6 194.5,46 193.2,40.7 192.4,34.7 192.5,32 193.5,26.7 194.5,24.1 196.9,19.9 198.2,18.2Z"/>
<path fill="rgb(110,110,110)" d="M199.5,18.1 200.3,17.9 200.9,18.1 202.3,19 203.6,20.8 204.9,23.1 205.9,25.4 206.6,28 207,30.7 207.2,33.4 206.9,38 205.5,46 205.3,50 205.5,54.6 206.6,60.6 207.1,64.6 207.1,67.9 206.8,71.2 205.9,75.2 204.3,78.8 202.3,81.6 200.9,82.5 200.3,82.7 198.9,82.2 197.6,80.9 196.2,79 194.9,76.5 193.6,72.9 192.7,67.2 193.6,59.9 194.9,54.6 195.1,50.6 194.9,46 193.6,40.7 192.9,35.4 192.8,32 193.6,27.4 194.9,24.1 196.2,21.6 197.6,19.7 198.9,18.4Z"/>
<path fill="rgb(114,114,114)" d="M199.8,18.7 200.9,18.8 202.3,19.8 203.6,21.5 204.9,23.9 205.8,26 206.3,28 206.7,30.7 206.9,33.4 206.6,38 205.1,46 204.9,50 205.1,54.6 206.3,60.6 206.7,63.9 206.9,67.2 206.6,70.6 205.8,74.6 204.3,78 202.3,80.8 200.9,81.8 200.3,81.9 198.9,81.5 197.6,80.1 196.2,78.2 195,75.9 193.8,72.6 193.1,67.2 193.8,60.6 195.3,54.6 195.5,50.6 195.3,46 194,40.7 193.2,35.4 193.1,33.4 193.2,31.4 194,27.4 195.3,24.1 197.6,20.5 198.9,19.1Z"/>
<path fill="rgb(118,118,118)" d="M200.1,19.4 200.9,19.5 202.3,20.5 203.6,22.2 204.6,24.1 205.4,26 206,28 206.4,30.7 206.6,33.4 206.3,38 204.8,46 204.5,50 204.8,54.6 206,60.6 206.4,63.9 206.6,67.2 206.3,70.6 205.6,74 204.3,77.2 202.3,80.1 200.9,81.1 200.3,81.2 199.6,81.1 198.2,80.2 196.9,78.5 195.4,75.9 194.2,72.6 193.6,69.2 193.4,67.2 193.5,65.2 194.2,60.6 195.6,54.6 195.9,50.6 195.6,46 194.2,40.3 193.5,35.4 193.4,33.4 193.6,31.4 194.4,27.4 195.7,24.1 196.9,22.1 198.2,20.4 198.9,19.9Z"/>
<path fill="rgb(121,121,121)" d="M198.7,20.7 199.6,20.2 200.3,20.1 200.9,20.2 202.3,21.2 203.6,23 204.8,25.4 205.5,27.4 206,30 206.3,32.7 206,37.3 204.4,46 204.1,50 204.4,54.6 205.6,60.6 206.1,63.9 206.3,67.2 206.1,69.9 205.5,73.2 204.2,76.5 202.3,79.4 200.9,80.4 200.3,80.5 199.6,80.4 198.2,79.5 196.9,77.8 195.8,75.9 194.9,73.9 194.4,71.9 193.7,67.2 194.4,61.3 196,54.6 196.3,50.6 196,46 194.5,40 193.9,36 193.7,34 193.8,32 194.5,28 195.4,25.4 196.9,22.8Z"/>
<path fill="rgb(125,125,125)" d="M198.7,21.4 199.6,20.9 200.3,20.7 200.9,20.9 202.3,21.9 203.4,23.4 204.4,25.4 205.1,27.4 205.7,30 206,32.7 205.6,38 204,46 203.7,50 204,54.6 205.3,60.6 205.8,63.9 206,67.2 205.8,69.9 204.9,73.9 203.8,76.5 202.3,78.7 200.9,79.7 200.3,79.9 199.6,79.7 198.2,78.8 196.9,77.1 195.8,75.2 194.7,71.9 194.1,67.2 194.2,65.2 194.8,61.3 196.4,54.6 196.7,50.6 196.4,46 194.9,40.1 194.3,36.7 194.1,34 194.1,32 194.7,28.7 195.6,26 196.9,23.5Z"/>
<path fill="rgb(130,130,130)" d="M200.2,21.4 200.9,21.5 202.3,22.5 203.4,24.1 204.1,25.4 204.8,27.4 205.3,29.4 205.7,33.4 205.3,38 203.6,46 203.3,50 203.6,54.6 205,60.6 205.5,63.9 205.7,67.2 205.5,69.9 204.8,73.2 203.6,76.2 202.4,77.9 201.6,78.7 200.3,79.2 199.6,79.1 198.2,78.2 197,76.5 196.2,75.2 195.4,73.2 194.9,71.3 194.4,67.2 194.6,64.6 195.1,61.3 196.8,54.6 197.1,50.6 196.8,46 195.3,40 194.6,36 194.4,33.4 194.6,31.4 195.4,27.4 196.6,24.7 198.2,22.4 198.9,21.9Z"/>
<path fill="rgb(137,137,137)" d="M199.7,22.7 200.3,22.6 200.9,22.8 201.6,23.2 202.4,24.1 203.3,25.4 204.1,27.4 204.7,29.4 205.1,33.4 204.7,38 202.8,46 202.4,50 202.8,54.6 204.3,60.3 204.8,63.3 205.1,66.6 205,69.2 204.3,72.6 203.3,75.2 202.4,76.5 201.6,77.4 200.3,78 199.6,77.9 198.2,76.9 196.7,74.6 195.6,71.2 195.1,67.2 195.2,65.2 195.7,61.9 197.8,54 198,50.6 197.9,48 197.7,46 196,40 195.4,37.3 195.1,34.7 195.2,32 195.8,28.7 196.7,26 198.2,23.7Z"/>
<path fill="rgb(144,144,144)" d="M199.4,24.1 200.3,23.8 200.9,24 201.9,24.7 202.9,26.2 204.1,29.4 204.5,33.4 204.4,36 204,38.7 201.7,46 201.3,48 201.2,50 201.3,52.6 201.7,54.6 203.5,59.9 204.1,62.6 204.5,65.9 204.5,68.6 203.9,71.9 202.9,74.4 201.6,76.2 200.9,76.6 200.3,76.8 199.6,76.7 198.9,76.3 198,75.2 197.2,73.9 196.1,70.6 195.7,67.2 195.9,64.6 196.4,61.9 198.7,54.6 199.1,52.6 199.3,50.6 199.1,48 198.7,46 196.9,40.7 196.1,37.3 195.8,34.7 195.8,32 196.3,29.4 197.2,26.7 198.2,25Z"/>
<path fill="rgb(151,151,151)" d="M199.1,25.4 200.3,24.9 200.9,25.1 201.6,25.6 202.3,26.4 202.9,27.7 203.5,29.4 204,32.7 203.8,36 202.9,40.1 201.6,43.3 200.9,44.3 200.3,44.7 199.6,44.4 198.9,43.4 197.7,40.7 196.7,37.3 196.4,34.7 196.5,31.4 197.1,28.7 198,26.7ZM200.1,55.9 200.3,55.9 200.9,56.3 201.6,57.3 202.9,60.5 203.7,63.9 204,67.2 203.6,70.6 202.8,73.2 201.6,75 200.9,75.5 200.3,75.7 199.6,75.5 198.9,75.1 197.6,73.1 196.7,70.6 196.3,67.2 196.6,63.9 197.4,60.6 198.9,57.2 199.6,56.2Z"/>
<path fill="rgb(159,159,159)" d="M199.9,26 200.9,26.1 201.6,26.7 202.3,27.6 203.2,30 203.5,32.7 203.3,36 202.7,38.7 201.6,41.2 200.9,42 200.3,42.4 199.6,42.1 198.9,41.3 198.2,40 197.3,37.3 196.9,34 197,31.4 197.7,28.7 198.9,26.6ZM199.5,58.6 200.3,58.2 200.9,58.6 201.9,59.9 203.1,63.3 203.5,66.6 203.4,69.2 202.7,71.9 201.6,73.9 200.9,74.5 200.3,74.6 199.6,74.5 198.9,74 198,72.6 197.2,70.6 196.9,67.9 197,65.2 197.5,62.6 198.2,60.5Z"/>
<path fill="rgb(166,166,166)" d="M199.2,27.4 199.6,27 200.3,26.9 200.9,27.1 201.6,27.6 202.5,29.4 203.1,32 203.1,34.7 202.6,37.3 201.6,39.6 200.9,40.4 200.3,40.7 199.6,40.4 198.9,39.7 198.4,38.7 197.7,36.7 197.3,34.7 197.3,32 197.7,30 198.2,28.6ZM199.2,60.6 199.6,60.2 200.3,59.9 200.9,60.2 201.6,61 202.6,63.3 203.1,65.9 203.1,68.6 202.5,71.2 201.6,73 200.9,73.5 200.3,73.7 199.6,73.6 198.9,73 198.2,72 197.7,70.6 197.3,68.6 197.3,66.6 197.7,63.9 198.2,62.2Z"/>
<path fill="rgb(173,173,173)" d="M199.3,28 200.3,27.6 200.9,27.9 201.6,28.5 202.3,30 202.7,32 202.7,34.7 202.3,36.8 201.6,38.4 200.9,39.1 200.3,39.4 199.6,39.2 198.7,38 197.9,36 197.7,34 197.7,32 197.9,30.7 198.4,29.4ZM200.1,61.3 200.9,61.5 201.8,62.6 202.5,64.6 202.8,67.2 202.6,69.2 202.1,71.2 201.1,72.6 200.3,73 199.3,72.6 198.4,71.2 197.8,69.2 197.6,67.2 197.8,65.2 198.4,63.3 198.9,62.2 199.6,61.4Z"/>
<path fill="rgb(180,180,180)" d="M199.4,28.7 200.3,28.3 200.9,28.6 201.6,29.3 202.1,30.7 202.5,32.7 202.4,34.7 201.9,36.7 200.9,38.2 200.3,38.4 199.6,38.2 198.9,37.3 198.3,36 198,34 198,32 198.3,30.7 198.9,29.4ZM199.4,62.6 200.3,62.2 201.1,62.6 201.9,63.9 202.5,66.6 202.4,68.6 201.9,70.6 200.9,72 200.3,72.3 199.6,72.1 198.9,71.2 198.3,69.9 198,67.9 198.1,65.9 198.3,64.6 198.9,63.2Z"/>
<path fill="rgb(187,187,187)" d="M199.4,29.4 200.3,29 201,29.4 201.8,30.7 202.2,32.7 202.1,34.7 201.7,36 200.9,37.3 200.3,37.7 199.6,37.4 198.9,36.5 198.3,34 198.5,31.4 198.9,30.1ZM199.6,63.3 200.3,62.9 200.9,63.3 201.7,64.6 202.2,66.6 202.1,68.6 201.8,69.9 200.9,71.4 200.3,71.6 199.6,71.4 198.9,70.5 198.5,69.2 198.3,67.9 198.5,65.2 198.9,64.1Z"/>
<path fill="rgb(194,194,194)" d="M199.4,30 200.3,29.6 200.9,29.9 201.6,31.1 201.8,32 201.9,34 201.6,35.4 200.9,36.6 200.3,36.9 199.6,36.6 199.2,36 198.6,34 198.6,32 198.9,31ZM199.7,63.9 200.3,63.7 200.9,64 201.6,65.2 201.9,66.6 201.9,67.9 201.6,69.5 200.9,70.7 200.3,71 199.6,70.7 199,69.9 198.6,67.9 198.6,66.6 198.9,65.2Z"/>
<path fill="rgb(201,201,201)" d="M199.5,30.7 200.3,30.2 200.9,30.6 201.6,32.4 201.4,34.7 200.9,35.9 200.3,36.3 199.6,35.9 198.9,34 198.9,32ZM199.8,64.6 200.3,64.3 200.9,64.7 201.6,66.6 201.6,67.9 201.3,69.2 200.9,70 200.3,70.4 199.5,69.9 198.9,67.9 199,65.9Z"/>
<path fill="rgb(209,209,209)" d="M199.5,31.4 200.3,30.8 200.9,31.3 201.3,32.7 201.1,34.7 200.9,35 200.3,35.6 199.6,35.1 199.2,34 199.2,32.7ZM199.9,65.2 200.3,65 200.9,65.6 201.3,67.2 200.9,69.2 200.3,69.8 199.6,69.3 199.2,67.9 199.4,65.9Z"/>
<path fill="rgb(216,216,216)" d="M199.8,32 200.3,31.6 200.9,32.7 200.8,34 200.3,34.8 199.6,33.9 199.5,32.7ZM200.2,65.9 200.8,66.6 201,67.2 200.9,68 200.3,69 199.6,68.1 199.5,67.2 199.6,66.6Z"/>
</g></g>
<g clip-path="url(#cp2)"><g filter="url(#jet)">
<rect x="221.60" y="-2.20" width="55.20" height="105.00" fill="rgb(17,17,17)"/>
<path fill="rgb(19,19,19)" d="M247.5,-1.7 265.8,-1.7 265.8,0.8 270.3,1.8 273.6,3.1 275.6,3.1 275.6,97.5 273.6,97.5 270.3,98.8 265.8,99.8 265.8,102.3 247.5,102.3 247.5,99.8 246.3,98.7 245.3,97.1 243.9,93.2 242.6,85.8 241.6,77 240.9,73.8 240.3,72.1 239.6,72.2 236.7,75.9 231.6,81.9 224.9,92.4 222.3,92.4 222.3,78.7 224.9,78.7 227.6,70.8 228.9,65.5 229.6,62 230.3,56.7 230.5,50.6 230.3,43.9 229.6,38.6 228.9,35.1 227.6,29.8 224.9,21.9 222.3,21.9 222.3,8.2 224.9,8.2 231.6,18.7 236.7,24.7 239.6,28.4 240.3,28.5 240.9,26.8 241.6,23.6 242.6,14.8 243.9,7.4 245.3,3.5 246.3,1.9 247.5,0.8Z"/>
<path fill="rgb(21,21,21)" d="M249.8,2.1 251.6,1.9 256.3,2.1 260.3,2.6 263.6,3.4 266.3,4.4 269.6,6.2 271.6,7.7 273.6,9.8 275.6,9.8 275.6,90.8 273.6,90.8 272.1,92.5 270.3,94 267.6,95.6 265,96.8 262.3,97.6 259.6,98.1 253.6,98.7 251,98.7 249.6,98.4 248.9,98.1 247.9,97.1 246.7,95.1 245.9,93.2 244.7,88.5 242.9,76.9 241.6,72.5 240.9,70.8 240.3,70.1 239.6,70.5 236.7,74.6 230.3,82 224.9,89.6 222.3,89.6 222.3,82.4 224.9,82.4 227.6,75.4 229.6,68.5 231.1,60.6 231.6,56.2 231.8,50.6 231.7,45.3 231.3,42 230.9,38.8 229.6,32.1 227.6,25.2 224.9,18.2 222.3,18.2 222.3,11 224.9,11 230.3,18.6 236.7,26 239.6,30.1 240.3,30.5 240.9,29.8 241.6,28.1 242.9,23.7 244.6,12.8 245.9,7.4 246.7,5.5 247.6,3.8 248.6,2.8ZM235.6,30.4 235.1,30.7 235.6,33.1 236.9,38.2 237.6,38.7 238.3,37 238.3,35.1 237.6,33.4ZM243.6,48.5 243.5,50.6 243.6,52.1 244.3,52.2 244.6,50.6 244.5,49.3 244.3,48.4ZM237.6,61.9 236.9,62.4 235.6,67.5 235.1,69.9 235.6,70.2 237.6,67.2 238.3,65.5 238.3,63.6Z"/>
<path fill="rgb(23,23,23)" d="M249.9,3.5 251.6,3.2 257,3.6 260.3,4.2 263.6,5.4 267,7 269.3,8.8 271.8,11.4 273.6,14.2 275.6,14.2 275.6,86.4 273.6,86.4 271.8,89.2 269.6,91.5 267.6,93.2 265,94.7 261.6,96 259,96.7 255.6,97.2 252.3,97.4 250.3,97.3 248.9,96.5 247.9,95.1 246.8,93.2 246,90.5 245.3,87.8 243.6,77.4 241.6,71.3 240.9,69.8 240.3,69.2 239.6,69.6 236.3,74.2 231.6,79.5 225.6,86.8 224.9,87.4 222.3,87.4 222.3,84.2 224.9,84.2 227.1,79.2 229.6,71.3 230.9,65.6 231.6,61.8 232.3,55.8 232.5,50.6 232.3,44.8 231.7,39.3 230.9,35 229.6,29.3 227.1,21.4 224.9,16.4 222.3,16.4 222.3,13.2 224.9,13.2 225.6,13.8 231.6,21.1 236.3,26.4 239.6,31 240.3,31.4 240.9,30.8 241.6,29.3 243.6,23.2 245.2,13.4 246.6,8.1 247.5,6.1 248.3,4.8 248.9,4.1ZM233.6,26.6 233.1,26.7 233.2,27.4 235.2,34 236.3,38.7 236.9,40.9 237.6,40.8 238.3,39 238.7,36.7 238.7,35.4 238.5,34 236.3,30 234.9,28.1ZM243.6,45.7 242.9,47.9 242.8,50 242.9,52.7 243.6,54.9 244.3,54.6 244.9,53 245.3,50.6 244.9,47.6 244.3,46ZM236.9,59.7 233.1,73.9 233.6,74 234.9,72.5 237.1,69.2 238.5,66.6 238.8,64.6 238.3,61.6 237.6,59.8Z"/>
<path fill="rgb(26,26,26)" d="M249.6,4.8 251,4.3 255.6,4.6 260.3,5.6 263.6,6.9 266.3,8.4 269,10.8 271.2,13.4 273.6,17.5 275.6,17.5 275.6,83.1 273.6,83.1 271.6,86.5 269.6,89.2 267.6,91.2 265,93.1 262.3,94.3 259,95.4 255.6,96 252.3,96.3 251,96.3 249.6,95.8 248.3,94.4 247.2,92.5 245.9,87.8 244.3,78.8 243.6,76.1 241.6,70.4 240.9,69.1 240.3,68.5 239.6,68.7 236.3,73.3 234.9,74.7 234.6,74.6 234.9,73.9 238.5,67.9 239,65.9 239,63.3 238.3,60.3 237.6,58.1 236.9,57.4 236.3,59.3 234.3,67.6 231,76.5 230.9,77.2 231.7,77.9 230.9,79.2 227.6,83.4 226.3,84.6 226.1,83.9 227.9,79.9 228.6,77.9 231.2,67.2 232.4,59.3 233,50.6 232.5,42 231.3,34 228.6,22.7 227.9,20.7 226.3,17.3 226.1,16.7 226.1,16.1 226.3,16 226.9,16.6 228.9,18.7 230.9,21.4 231.7,22.7 230.9,23.4 231,24.1 234.3,33 236.3,41.3 236.9,43.2 237.6,42.5 238.3,40.3 239,37.3 239,34.7 238.5,32.7 234.9,26.7 234.6,26 234.9,25.9 236.3,27.3 239.6,31.9 240.3,32.1 240.9,31.5 241.6,30.2 243.6,24.5 244.3,21.8 245.9,12.8 246.8,9.4 247.9,6.8 248.9,5.3ZM243.6,44.3 242.9,45.5 242.5,50 242.9,54.6 243,55.3 243.6,56.3 244.3,55.8 244.9,54.4 245.6,52.1 245.8,50.6 245.6,48.5 244.9,46.2 244.3,44.8Z"/>
<path fill="rgb(28,28,28)" d="M250.1,5.5 251,5.2 252.3,5.2 257,5.8 260.3,6.7 263.6,8.1 266.4,10.1 269,12.8 271.3,16.1 273.6,20.4 275.6,20.4 275.6,80.2 273.6,80.2 271.7,83.9 269.5,87.2 267.2,89.8 264.3,92.1 261.6,93.4 259,94.3 255.6,95 251.6,95.4 250.3,95.2 248.9,94.2 248.2,93.2 247.3,91.2 246.1,87.2 244.4,77.9 243.6,75.3 241.4,69.2 240.9,68.5 240.3,68 239.6,67.8 239.4,67.2 239.3,64.6 238.9,61.8 237.6,56.6 236.9,55.1 236.3,56.5 234.9,63.1 233.6,67.7 231.6,72.3 230.9,72.6 232.8,60.6 233.2,55.9 233.4,50.6 233,42 232.5,37.3 230.9,28 231.6,28.3 233.6,32.9 234.9,37.5 236.3,44.1 236.9,45.5 237.6,44 238.9,38.8 239.3,36 239.4,33.4 239.6,32.8 240.3,32.6 240.9,32.1 241.4,31.4 243.6,25.3 244.4,22.7 246.1,13.4 247.3,9.4 248.6,6.8 249.6,5.7ZM243.6,43.1 242.9,44.1 242.7,45.3 242.3,48 242.2,50.6 242.7,55.3 242.9,56.5 243.6,57.5 244.3,56.8 245.6,53.4 246.1,50 245.6,47.3 244.9,45.3 244.3,43.8Z"/>
<path fill="rgb(30,30,30)" d="M250.6,6.1 254.3,6.2 258.3,7 261.6,8.2 264.3,9.8 267,12.1 269.6,15.4 272,19.4 273.6,23.2 275.6,23.2 275.6,77.4 273.6,77.4 272,81.2 269.6,85.2 267,88.5 264.3,90.8 261.6,92.4 259,93.4 255.6,94.2 251.6,94.6 250.3,94.4 248.9,93.4 248,91.8 247.2,89.8 246,85.2 244.9,79.4 243.6,74.7 241.6,69.1 240.9,68 240.1,67.2 239.7,66.6 239.3,62.6 237.2,53.3 236.9,51.4 236.3,52.5 234.9,60.3 234.3,63 233.6,64.9 233.3,64.6 233.2,63.9 233.8,55.3 233.9,50.6 233.3,36 233.6,35.7 234.3,37.6 234.9,40.3 236.3,48.1 236.9,49.2 237.2,47.3 239.3,38 239.7,34 240.1,33.4 240.9,32.6 241.6,31.5 243.6,25.9 244.9,21.2 246.5,13.4 247.5,10.1 248.3,8.2 248.9,7.2 249.6,6.6ZM243.6,42.1 242.9,43 242.4,45.3 242,50.6 242.4,55.3 242.9,57.6 243.6,58.5 244.3,57.7 245.6,54.2 246.3,51.3 246.3,50 245.6,46.4 244.3,42.9Z"/>
<path fill="rgb(32,32,32)" d="M250.8,6.8 254.3,6.9 258.3,7.8 261.6,9.2 264.3,10.9 267,13.4 269.9,17.4 272,21.4 273.6,26.2 275.6,26.2 275.6,74.4 273.6,74.4 272,79.2 269.9,83.2 267,87.2 264.3,89.7 261.6,91.4 258.3,92.8 255,93.6 251,93.9 250.3,93.7 249.5,93.2 248.5,91.8 247.9,90.5 246.6,86.5 245,78.5 244.3,76.1 241.6,68.6 240.1,66.6 239.9,65.9 239.5,62.6 237.9,55.3 237.4,50.6 237.8,46 239.5,38 239.9,34.7 240.1,34 241.6,32 244.3,24.5 245,22.1 246.6,14.1 247.9,10.1 248.9,8.1 249.6,7.3ZM243.6,41.1 242.9,42.1 242.3,44.4 241.8,50 241.9,53.3 242.3,56.2 242.9,58.5 243.6,59.5 244.3,58.5 245.6,54.8 246.3,52.5 246.5,50.6 246.3,48.1 245.6,45.8 244.3,42.1ZM234.9,48 235.1,50 234.9,53.3Z"/>
<path fill="rgb(34,34,34)" d="M250.8,7.4 254.3,7.6 258.3,8.6 261.6,10.1 264.4,12.1 265.8,13.4 267.6,15.6 270.5,20.1 272.4,24.7 273.6,29.6 275.6,29.6 275.6,71 273.6,71 272.4,75.9 270.5,80.5 268,84.5 265,88 261.6,90.5 258.3,92 255,92.9 251,93.2 250.3,93 249.5,92.5 248.9,91.8 247.9,89.8 246.7,85.8 245.6,80.5 244.3,75.6 241.8,68.6 240.2,65.9 238.1,54.6 237.8,50.6 238.1,46 240.2,34.7 241.8,32 244.3,25 245.6,20.1 246.7,14.8 247.9,10.8 248.9,8.8 249.5,8.1 250.3,7.6ZM243.6,40.1 242.9,41.2 242.3,43.3 241.8,46.6 241.6,50 241.7,53.3 242.1,56.6 242.9,59.4 243.6,60.5 244.3,59.3 246.3,53.3 246.7,50.6 246.3,47.3 244.3,41.3Z"/>
<path fill="rgb(36,36,36)" d="M250.7,8.1 254.3,8.3 258.3,9.3 261.6,10.9 264.3,13 267.1,16.1 269.7,20.1 271.7,24.7 272.8,29.4 273.6,31.2 275.6,31.2 275.6,69.4 273.6,69.4 272.8,71.2 271.7,75.9 269.7,80.5 267.1,84.5 264.3,87.6 261.6,89.7 258.3,91.3 255,92.2 251,92.6 250.3,92.4 249.6,91.9 248.9,91.1 248,89.2 247.1,86.5 245.6,79.7 244.3,75.2 242,68.6 240.3,65.4 238.5,55.9 238,50.6 238.4,45.3 240.3,35.2 242,32 244.3,25.4 245.6,20.9 247.1,14.1 248,11.4 248.9,9.5 249.5,8.8ZM243.6,39 242.9,40.3 242.1,43.3 241.6,46.6 241.5,50 241.6,54 241.9,56.6 242.9,60.3 243.6,61.6 244.3,60.2 244.7,58.6 246.3,53.8 246.9,50.6 246.8,49.3 246.3,46.8 244.7,42 244.3,40.4Z"/>
<path fill="rgb(38,38,38)" d="M250.5,8.8 251,8.6 253.6,8.8 257.6,9.8 261.1,11.4 264.3,13.9 267.3,17.4 269.3,20.7 271.2,25.4 272.3,30 273.6,32.6 275.6,32.6 275.6,68 273.6,68 272.3,70.6 271.2,75.2 269.3,79.9 267.3,83.2 264.3,86.7 261.6,88.9 258.3,90.6 255,91.6 251,92 250.3,91.8 249.6,91.3 248.9,90.4 248,88.5 247.2,85.8 245.6,79.1 242.9,70.6 242,67.9 240.5,65.2 238.7,55.9 238.2,50.6 238.6,45.3 240.5,35.4 242,32.7 242.9,30 245.6,21.5 247.2,14.8 248,12.1 249,10.1 249.6,9.3ZM243.6,37.9 242.9,39.4 241.7,44 241.4,46.6 241.3,50.6 241.5,54.6 241.9,57.3 242.9,61.2 243.6,62.7 244.3,61.3 244.7,59.3 246.4,54 246.9,51.5 247,50 246.9,48.6 246.3,46.3 244.7,41.3 244.3,39.3Z"/>
<path fill="rgb(40,40,40)" d="M250.2,9.4 251,9.2 253.6,9.4 257.6,10.4 261,12.1 263.6,14.2 266.5,17.4 268.7,20.7 270.6,25.4 271.7,30 272.8,32 273.6,34.3 275.6,34.3 275.6,66.3 273.6,66.3 272.8,68.6 271.7,70.6 270.6,75.2 269,79.2 267,82.5 264.3,85.8 261.6,88.1 258.3,89.9 255,91 251,91.4 250.3,91.2 249.6,90.7 248.9,89.8 248.1,87.8 245.6,78.6 242.5,68.6 241.9,67.2 240.7,65.2 238.9,55.9 238.4,50.6 238.8,45.3 240.7,35.4 241.9,33.4 242.5,32 245.6,22 248.1,12.8 248.9,10.8 249.6,9.9ZM243.6,36.9 242.9,38.4 241.5,44 241.1,50.6 241.3,54.6 241.6,57.3 242.9,62.2 243.6,63.7 244.3,62.4 245.2,57.9 246.9,52.6 247.1,50 246.9,48 245.2,42.7 244.3,38.2Z"/>
<path fill="rgb(43,43,43)" d="M250.1,10.1 251,9.8 253,9.9 255.6,10.4 257.6,11 261,12.8 264.1,15.4 266.8,18.7 268.7,22.1 270,25.4 271.1,30 272.2,32 273.6,35.9 275.6,35.9 275.6,64.7 273.6,64.7 272.2,68.6 271.1,70.6 270,75.2 268.7,78.5 266.8,81.9 264.3,84.9 261.6,87.3 258.3,89.3 255,90.4 251,90.8 250.3,90.6 249.6,90.1 248.3,87.8 247.4,85.2 245.6,78.2 242.5,67.9 241.9,66.6 240.9,65.3 240.7,64.6 238.9,54.9 238.6,50.6 238.9,45.7 240.7,36 240.9,35.3 241.9,34 242.5,32.7 245.6,22.4 248.1,13.4 248.9,11.4ZM243.6,35.9 242.9,37.3 241.4,43.3 241,50 241.1,54 241.4,57.3 242.9,63.3 243.6,64.7 244.3,63.6 245.1,58.6 246.9,52.8 247.2,50.6 246.9,47.8 245.1,42 244.3,37Z"/>
<path fill="rgb(46,46,46)" d="M250.7,10.8 252.3,10.8 254.3,11 256.3,11.6 258.3,12.4 261.6,14.5 264.6,17.4 266.6,20.1 268.6,24.1 269.1,25.4 270.2,30 271.8,33.4 273.6,39.2 275.6,39.2 275.6,61.4 273.6,61.4 271.8,67.2 270.2,70.6 269.1,75.2 267.7,78.5 266.2,81.2 264.6,83.2 262.3,85.6 260.3,87.1 258.3,88.2 255.6,89.2 253.6,89.7 251,89.9 250.3,89.7 249.6,89.2 248.9,88.2 248,85.8 243.9,71.9 242.9,66.6 242.9,66.3 243.6,66.4 244.3,65.4 245.2,59.3 246.9,53.6 247.5,50.6 247,47.3 245.2,41.3 244.3,35.2 243.6,34.2 242.9,34.3 242.9,33.4 244.1,28 246.6,20.1 248,14.8 249.2,12.1 249.6,11.4 250.3,10.9ZM242.3,34.7 242.7,35.4 242.6,36.7 242.3,38.5 241.1,42.7 240.7,46 240.6,50.6 240.7,54.6 241.1,57.9 242.3,62.1 242.6,63.9 242.7,65.2 242.3,65.9 241.6,65.4 240.9,63.9 240.4,60.6 239.5,55.9 239,50.6 239.4,45.3 240.4,40 240.9,36.7 241.6,35.2Z"/>
<path fill="rgb(50,50,50)" d="M249.9,12.1 250.3,11.7 251,11.6 253,11.7 255.6,12.3 257.6,13 261,15.1 264.3,18.3 266.4,21.4 268,24.7 269.3,30 270.4,32 271.9,36 273.2,40.7 273.6,43.2 275.6,43.2 275.6,57.4 273.6,57.4 273.2,59.9 271.6,65.2 270.4,68.6 269.3,70.6 268.2,75.2 266.4,79.2 265.2,81.2 263.5,83.2 261.6,85 259.6,86.5 257.6,87.6 255.6,88.3 253.6,88.8 251,89 250.3,88.9 249.6,88.3 248.3,85.7 246.9,80.5 244.5,73.2 243.7,69.2 243.8,67.9 244.3,67 244.5,65.9 245.3,59.3 247,54 247.6,50.6 247.4,48 245.2,40.7 244.5,34.7 243.7,32 243.8,30.7 244.5,27.4 246.9,20.1 248.1,15.4 248.9,13.4ZM241.6,36.7 241.8,37.3 241.6,38.9 241.3,38ZM239.6,48.6 239.6,48 239.8,48.6 239.9,50 239.6,52.6ZM241.4,61.9 241.6,61.7 241.8,62.6 241.6,64 241.3,62.6Z"/>
<path fill="rgb(53,53,53)" d="M250,12.8 251,12.4 253,12.5 255.6,13.1 257.6,13.9 261,16.1 262.4,17.4 264.2,19.4 265.9,22.1 267.4,25.4 268.5,30 269.6,32 271.1,36 272.3,40.7 272.9,44 273.4,45.3 273.6,45.7 275.6,45.7 275.6,54.9 273.6,54.9 273.1,55.9 272.3,59.9 270.8,65.2 269.6,68.6 268.5,70.6 267.1,75.9 265.6,79.2 264.3,81.1 263,82.7 261,84.5 259,85.9 257,87 255,87.7 253,88.1 251,88.2 250.3,88.1 249.6,87.5 248.3,84.8 246.9,79.8 246.3,78.5 244.7,73.2 244.2,69.9 244.9,65.2 245.4,59.9 247.5,52.6 247.8,50.6 247.5,48 245.4,40.7 244.9,35.4 244.2,31.4 244.2,30 245.1,26 246.3,22.1 246.9,20.8 248.2,16.1 248.9,14.2Z"/>
<path fill="rgb(57,57,57)" d="M250.2,13.4 251,13.2 253,13.3 255,13.7 257,14.5 259,15.6 261,17.1 263.8,20.1 265.1,22.1 266.4,24.7 267.8,30 268.9,32 269.9,34.7 271.5,40.7 271.9,43.3 272.5,45.3 273.6,46.6 275.6,46.6 275.6,54 273.6,54 272.5,55.3 271.9,57.3 271.5,59.9 270.1,65.2 268.9,68.6 267.8,70.6 266.4,75.9 264.7,79.2 263.3,81.2 262.1,82.5 260.3,84.1 258.3,85.4 255,86.9 253,87.3 251,87.4 250.3,87.3 249.6,86.7 248.3,83.9 246.9,78.9 246.3,77.9 245.3,74.6 244.6,71.9 244.5,69.9 244.9,66.8 245.5,59.9 246,57.9 247.6,52.9 247.9,50.6 247.6,47.7 246,42.7 245.4,40 244.9,33.8 244.5,30.7 244.5,29.4 245.4,25.4 246.3,22.7 246.9,21.7 248.3,16.7 249.1,14.8Z"/>
<path fill="rgb(60,60,60)" d="M250.2,14.1 251,13.9 253.6,14.2 257,15.3 260.3,17.4 263,20.1 264.3,22.1 265.7,24.7 267.1,30 268.2,32 269.2,34.7 270.8,40.7 271.6,45.3 272,46 273.6,47.2 275.6,47.2 275.6,53.4 273.6,53.4 272,54.6 271.6,55.3 270.8,59.9 269.4,65.2 268.2,68.6 267.1,70.6 265.7,75.9 263.9,79.2 261.6,82 258.3,84.6 255,86.1 253,86.5 251,86.7 250.3,86.5 249.6,85.9 248.6,83.9 246.9,78 246.3,77.3 245.4,74.6 245,72.6 244.8,70.6 245.7,59.9 246.1,57.9 247.7,53.3 248.1,50.6 248,49.3 247.7,47.3 246.1,42.7 245.7,40.7 244.8,29.4 245.1,27.4 245.8,24.7 246.3,23.3 246.9,22.6 248.3,17.5 249.2,15.4Z"/>
<path fill="rgb(64,64,64)" d="M250.3,14.8 251.6,14.6 253.6,14.9 257,16.1 260.3,18.3 262.7,20.7 263.6,22.2 265,24.7 265.8,27.4 266.4,30 267.6,32 268.5,34.7 270,40.7 270.7,45.3 271,46 273.6,47.7 275.6,47.7 275.6,52.9 273.6,52.9 271,54.6 270.7,55.3 270,59.9 268.7,65.2 267.6,68.6 266.4,70.6 265.2,75.2 263.6,78.5 261.5,81.2 260.1,82.5 258.3,83.8 255,85.3 253,85.8 251,86 250.3,85.8 249.6,85.2 248.6,83.2 246.9,77.3 246.3,76.8 245.8,75.2 245.2,72.6 245,70.6 245.8,59.9 246.5,57.3 247.8,53.3 248.2,50.6 247.9,48 245.8,40.7 245,30.7 245.1,28.7 246,24.7 246.3,23.8 246.9,23.3 248.3,18.1 249.6,15.4Z"/>
<path fill="rgb(68,68,68)" d="M250.4,15.4 251.6,15.3 253.6,15.6 257,16.8 259.9,18.7 262.3,21.3 264.3,24.7 265.1,27.4 265.7,30 266.9,32 267.9,34.7 269.4,40.7 269.7,44.7 270.1,46 271,46.9 273,47.6 273.6,48.1 275.6,48.1 275.6,52.5 273.6,52.5 273,53 271,53.7 270.1,54.6 269.7,55.9 269.4,59.9 268.1,65.2 266.9,68.6 265.7,70.6 264.5,75.2 262.8,78.5 260.6,81.2 257.6,83.4 254.3,84.8 251,85.3 250.3,85.2 249.6,84.5 248.6,82.5 246.9,76.7 246.3,76.3 246,75.2 245.4,72.6 245.2,70.6 245.9,59.9 246.6,57.3 247.9,53.3 248.4,50.6 248.1,48 246.6,43.3 245.8,40 245.2,30.7 245.3,28.7 246.3,24.3 246.9,23.9 248.6,18.1 249.6,16.1Z"/>
<path fill="rgb(71,71,71)" d="M250.3,16.1 251,15.9 253,16.1 256.3,17.2 259,18.8 260.3,19.9 261.6,21.4 263.6,24.7 264.5,27.4 265.1,30 266.3,32 267.3,34.7 268.7,40.7 269,44.7 269.3,46 270.3,47.4 272.3,47.8 273,48 273.6,48.6 275.6,48.6 275.6,52 273.6,52 273,52.6 272.3,52.8 270.3,53.2 269.3,54.6 269,55.9 268.7,59.9 267.5,65.2 266.3,68.6 265.1,70.6 263.9,75.2 262.1,78.5 259.7,81.2 257,83.1 254.3,84.2 251,84.7 250.3,84.5 249.6,83.9 248.6,81.9 246.9,76.2 246.3,75.8 246.1,75.2 245.6,72.6 245.4,70.6 245.9,60.6 246.5,57.9 248.2,52.6 248.5,50.6 248.2,48 246.5,42.7 245.9,40 245.7,36.7 245.5,28.7 246.3,24.8 246.9,24.4 248.2,20.1 248.9,17.9 249.6,16.7Z"/>
<path fill="rgb(75,75,75)" d="M250.2,16.7 251,16.6 253,16.8 256.3,17.8 258.8,19.4 261,21.5 261.8,22.7 263.3,25.4 264.5,30 265.7,32 266.7,34.7 268.1,40.7 268.3,45.3 269,47 269.6,48.1 270.3,48.5 272.3,48.2 273,48.4 273.6,49.1 275.6,49.1 275.6,51.5 273.6,51.5 273,52.2 272.3,52.4 270.3,52.1 269.6,52.5 268.8,54 268.3,55.3 268.1,59.9 266.9,65.2 265.7,68.6 264.5,70.6 263.3,75.2 261.4,78.5 259.6,80.5 257,82.4 254.3,83.5 251,84 250.3,83.9 249.6,83.3 248.9,81.9 246.9,75.7 246.3,75.2 245.7,72.6 245.6,70.6 245.8,63.9 246,60.6 246.6,57.9 248.3,52.8 248.6,50.6 248.3,47.8 246.6,42.7 246,40 245.8,36 245.7,28 246.3,25.4 246.9,24.9 248.9,18.7 249.6,17.3Z"/>
<path fill="rgb(78,78,78)" d="M250.1,17.4 251,17.2 253,17.4 255,17.9 257,18.8 259.6,20.9 260.6,22.1 262,24.1 262.6,25.4 263.9,30 265.2,32 266.3,35.4 267.5,40.7 267.6,45.3 269.4,50 269.2,51.3 267.6,55.3 267.5,59.9 266.5,64.6 265.2,68.6 263.9,70.6 263.3,73.2 262.3,75.9 260.3,79 259,80.3 257.6,81.3 256.3,82.1 254.3,82.9 251,83.4 250.3,83.3 249.6,82.7 248.8,81.2 246.9,75.2 246.3,74.5 245.9,72.6 245.8,69.9 245.9,63.9 246.2,60.6 246.7,57.9 248.3,53.2 248.7,50.6 248.7,49.3 248.3,47.4 246.7,42.7 246.2,40 245.9,36 245.8,28.7 246.3,26.1 246.9,25.4 248.9,19.1 249.6,17.9ZM272,48.6 273,48.8 273.6,49.9 275.6,49.9 275.6,50.7 273.6,50.7 273,51.8 272.3,52 271.6,51.9 270.8,51.3 270.4,50.6 270.4,50 270.8,49.3Z"/>
<path fill="rgb(82,82,82)" d="M250,18.1 250.3,17.8 251,17.7 253,17.9 255,18.5 256.8,19.4 258.3,20.5 259.6,21.7 261.7,24.7 262.7,27.4 263.3,30 264.6,32 266,36 266.9,40.7 266.9,45.3 268.1,48.6 268.4,50 268.1,52 266.9,55.3 266.9,59.9 266,64.6 264.6,68.6 263.3,70.6 262.7,73.2 261.7,75.9 259.6,78.9 258.3,80.1 257,81.1 254.3,82.3 251,82.9 250.3,82.8 249.6,82.1 248.9,80.9 246.9,74.7 246.3,73.8 245.9,69.9 246,63.3 246.4,59.9 246.8,57.9 248.4,53.3 248.8,50.6 248.5,48 246.6,42 246.2,39.3 245.9,35.4 246,28.7 246.3,26.8 246.9,25.9 248.8,20.1 249.6,18.5ZM271.7,49.3 272.3,49.1 273,49.3 273.3,50 273.3,50.6 273,51.3 272.3,51.5 271.6,51.2 271.3,50.6 271.3,50Z"/>
<path fill="rgb(85,85,85)" d="M249.9,18.7 250.3,18.4 251,18.3 252.3,18.4 254.3,18.9 256.3,19.8 257.6,20.6 259,21.8 261.1,24.7 262.1,27.4 262.5,29.4 262.7,30 264.1,32 265.4,36 266.3,40.7 266.2,45.3 267.4,48.6 267.6,50 267.4,52 266.2,55.3 266.3,59.9 265.4,64.6 264.1,68.6 262.7,70.6 262.5,71.2 262.1,73.2 261.1,75.9 259.2,78.5 256.8,80.5 254.3,81.7 253,82.1 251,82.3 250.3,82.2 249.6,81.6 248.9,80.3 246.9,74.3 246.3,73.2 246,69.9 246.1,63.9 246.4,59.9 247.1,57.3 248.5,53.3 248.9,50.6 248.6,48 246.7,42 246.4,40 246.1,36 246.1,29.4 246.3,27.4 246.9,26.3 248.9,20.3ZM272,50 272.3,49.7 272.7,50 272.7,50.6 272.3,50.9 272,50.6Z"/>
<path fill="rgb(89,89,89)" d="M249.8,19.4 250.3,18.9 251.6,18.9 253.6,19.2 255.6,20 257,20.8 258.3,22 260.4,24.7 261.5,27.4 261.9,29.4 262.2,30 263.5,32 264.9,36 265.7,40.7 265.6,45.3 266.7,48.6 266.9,50 266.7,52 265.6,55.3 265.7,59.9 264.9,64.6 263.5,68.6 262.2,70.6 261.9,71.2 261.5,73.2 260.8,75.2 259,77.9 256.8,79.9 254.3,81.2 253,81.5 251,81.8 250.3,81.7 249.6,81 248.9,79.8 246.9,73.9 246.6,73.2 246.1,69.9 246.2,63.9 246.5,59.9 247.2,57.3 248.6,53.3 249,50.6 248.7,48 247,42.7 246.4,40 246.2,36 246.2,29.4 246.6,27.4 246.9,26.7 248.9,20.8Z"/>
<path fill="rgb(93,93,93)" d="M250.5,19.4 253,19.6 255.8,20.7 257,21.5 258.3,22.7 260.2,25.4 260.9,27.4 261.3,29.4 261.6,30 263,32 264.4,36 265.1,40.7 264.9,45.3 265,46 266,48.6 266.3,50 266,52 265,54.6 264.9,55.3 265.1,59.9 264.4,64.6 263,68.6 261.6,70.6 261.3,71.2 260.9,73.2 260.2,75.2 258.3,77.9 256.3,79.6 253.6,80.8 251,81.3 250.3,81.2 249.6,80.5 248.3,77.6 246.5,72.6 246.2,68.6 246.3,63.3 246.6,59.9 247.3,57.3 248.7,53.3 249.1,50.6 248.8,48 247.1,42.7 246.5,40 246.2,35.4 246.4,29.4 246.5,28 248.9,21.3 249.6,20.1Z"/>
<path fill="rgb(96,96,96)" d="M250.1,20.1 251,19.9 253,20.1 255.6,21.2 257.5,22.7 259.6,25.4 260.3,27.4 260.7,29.4 261,30 262.5,32 263.8,36 264.5,40.7 264.2,45.3 264.3,46 265.3,48.6 265.6,50 265.3,52 264.3,54.6 264.2,55.3 264.5,59.9 263.8,64.6 262.5,68.6 261,70.6 260.7,71.2 260.3,73.2 259.6,75.2 257.6,77.7 255.9,79.2 253.6,80.3 251,80.7 250.3,80.7 249.6,80 248,76.5 246.6,71.9 246.3,68.6 246.4,63.3 246.7,59.9 247.2,57.9 248.9,52.6 249.2,50.6 249,48 247.2,42.7 246.6,40 246.3,36 246.4,30 246.7,28 247.8,24.7 248.9,21.8 249.6,20.6Z"/>
<path fill="rgb(100,100,100)" d="M250,20.7 250.3,20.4 251.6,20.4 253.6,20.9 255,21.5 257,23 258.9,25.4 259.8,27.4 260.2,29.4 260.4,30 261.9,32 263.3,36 264,40.7 263.5,45.3 263.6,46 264.6,48.6 264.9,50 264.6,52 263.6,54.6 263.5,55.3 264,59.9 263.3,64.6 261.9,68.6 260.4,70.6 260.2,71.2 259.8,73.2 258.9,75.2 257.6,77 255.6,78.7 253.6,79.7 251,80.3 250.3,80.2 249.6,79.5 247.9,75.9 246.7,71.9 246.4,68.6 246.5,63.3 246.8,59.9 247.3,57.9 248.9,53 249.3,50.6 249,48 247.3,42.7 246.7,40 246.4,36 246.5,30.7 246.7,28.7 247.7,25.4 248.9,22.2Z"/>
<path fill="rgb(103,103,103)" d="M249.7,21.4 250.3,20.9 251,20.8 253,21.2 254.3,21.7 256.3,23 258.3,25.4 259.2,27.4 259.6,29.4 259.9,30 261.4,32 262.8,36 263.4,40.7 262.8,45.3 262.9,46 263.9,48.6 264.2,50 263.9,52 262.9,54.6 262.8,55.3 263.4,59.9 263,63.3 262.6,65.2 261.7,67.9 261,69.2 259.9,70.6 259.2,73.2 258.3,75.2 257.3,76.5 255.9,77.9 254.3,78.9 253,79.4 251,79.8 250.3,79.7 249.6,79.1 248.1,75.9 246.9,71.9 246.5,68.6 246.5,63.9 246.8,60.6 247.4,57.9 249,53.3 249.4,50.6 249.1,48 247.4,42.7 246.8,40 246.5,36 246.6,30.7 246.9,28.7 247.6,25.9 248.9,22.7Z"/>
<path fill="rgb(107,107,107)" d="M250.2,21.4 251.6,21.4 253.6,21.9 255.1,22.7 256.6,24.1 257.7,25.4 258.6,27.4 259.3,30 261,32.2 261.9,34.7 262.5,37.3 262.9,40.7 262.1,45.3 262.1,46 263.2,48.6 263.5,50 263.2,52 262.1,54.6 262.1,55.3 262.9,59.9 262.5,63.3 262.1,65.2 261.2,67.9 260.4,69.2 259.3,70.6 258.6,73.2 257.7,75.2 257,76.2 255.6,77.5 254.3,78.4 253,79 251,79.3 250.3,79.3 249.6,78.7 247.9,75.2 246.8,71.2 246.6,67.2 246.6,63.3 247,59.9 247.5,57.9 249.1,53.3 249.5,50.6 249.2,48 247.5,42.7 246.9,40 246.6,36 246.7,30.7 247.1,28 247.9,25.4 248.9,23.1 249.6,21.9Z"/>
<path fill="rgb(110,110,110)" d="M250,22.1 250.3,21.8 251,21.7 253,22.1 254.3,22.7 256.3,24.3 257.1,25.4 258.1,27.4 258.8,30 259.9,31.4 260.7,32.7 261.8,36 262.3,40.7 261.4,45.3 261.4,46 262.5,48.6 262.7,50 262.5,52 261.4,54.6 261.4,55.3 262.3,59.9 262,63.3 261.6,65.2 260.7,67.9 259.9,69.2 258.8,70.6 258.1,73.2 256.7,75.9 255,77.4 253.6,78.2 252.3,78.7 251,78.9 250.3,78.8 249.6,78.3 248,75.2 247.1,71.9 246.7,67.2 246.7,63.3 247.1,59.9 247.8,57.3 249.1,53.3 249.6,50.6 249.3,48 247.5,42.7 247,40 246.7,36 246.8,30.7 247.2,28 248,25.4 248.9,23.4Z"/>
<path fill="rgb(114,114,114)" d="M249.6,22.7 250.3,22.2 252.3,22.3 253.6,22.9 255.6,24.3 256.6,25.4 257.6,27.4 258.3,30 259.4,31.4 260.2,32.7 261.3,36 261.7,40.7 260.7,45.3 260.7,46 261.8,48.6 262,50 261.8,52 260.7,54.6 260.7,55.3 261.7,59.9 261.3,64.6 260.4,67.2 259.8,68.6 258.3,70.6 257.6,73.2 256.6,75.2 256.1,75.9 255,76.9 253.6,77.7 252.3,78.3 251,78.5 250.3,78.4 249.6,77.9 248.2,75.2 247.2,71.9 246.8,67.9 246.8,63.3 247.1,59.9 247.8,57.3 249.2,53.3 249.7,50.6 249.4,48 247.8,43.3 247.1,40.7 246.8,36.7 246.8,31.4 247.5,27.4 248.3,25.1Z"/>
<path fill="rgb(118,118,118)" d="M250.1,22.7 251,22.5 253,23 254.7,24.1 256.1,25.4 257.1,27.4 257.8,30 259.3,32 260.4,34.7 260.9,36.7 261.2,40.7 260,45.3 260,46 261.1,48.6 261.3,50 261.1,52 260,54.6 260.1,55.9 261.2,59.9 260.9,63.3 260.6,65.2 259.3,68.6 257.8,70.6 257.1,73.2 256.1,75.2 255,76.4 253.6,77.3 252.3,77.8 251,78.1 250.3,78 249.6,77.5 248.6,75.9 247.8,73.9 247.1,71.2 246.8,66.6 246.9,63.3 247.2,59.9 247.9,57.3 249.3,53.3 249.8,50.6 249.5,48 247.7,42.7 247.1,40 246.8,36 246.9,31.4 247.4,28 248,26 248.9,24.1 249.6,23.1Z"/>
<path fill="rgb(121,121,121)" d="M249.7,23.4 250.3,22.9 252.3,23.1 254.3,24.2 255.6,25.4 256.7,27.4 257.4,30 258.8,32 259.9,34.7 260.3,36.7 260.6,40.7 259.4,45.3 259.4,46 260.4,48.6 260.6,50 260.4,52 259.4,54.6 259.4,55.3 260.6,59.9 260.4,63.3 260.1,65.2 258.8,68.6 257.4,70.6 256.7,73.2 255.6,75.2 255,75.9 253.6,76.9 252.3,77.5 251,77.7 250.3,77.7 249.6,77.2 248.9,76.3 248.1,74.6 247.2,71.2 246.9,67.2 247,63.3 247.3,59.9 248,57.3 249.4,53.3 249.9,50.6 249.6,48 247.8,42.7 247.2,40 246.9,36 247,31.4 247.6,27.4 248.7,24.7Z"/>
<path fill="rgb(125,125,125)" d="M250.1,23.4 251,23.2 253,23.8 254.5,24.7 255.6,26 256.3,27.4 257,30 258.3,32 259.4,34.7 259.8,36.7 260,40.7 258.8,45.3 258.9,46 259.8,48.6 260,50 259.8,52 258.9,54.6 258.8,55.3 260,59.9 259.9,63.3 259.6,65.2 258.6,67.9 257,70.6 256.3,73.2 255.1,75.2 254.3,76 253,76.8 251,77.4 250.3,77.4 249.6,76.9 248.9,76 248,73.9 247.2,70.6 247,66.6 247.1,62.6 247.4,59.9 248.1,57.3 249.5,53.3 250,50.6 249.7,48 247.9,42.7 247.3,40 247,36 247.1,31.4 247.4,28.7 248,26.7 248.9,24.6 249.6,23.7Z"/>
<path fill="rgb(130,130,130)" d="M249.6,24.1 250.3,23.6 252.3,23.8 254,24.7 255.2,26 255.9,27.4 256.6,30 257.9,32 258.7,34 259.2,36 259.4,38.7 259.5,40.7 258.4,45.3 258.4,46 259.3,48.6 259.4,50 259.3,52 258.4,54.6 258.4,55.3 259.5,59.9 259.4,63.3 259.1,65.2 257.9,68.6 256.6,70.6 255.9,73.2 255,74.9 254,75.9 253,76.5 251,77.1 250.3,77 249.6,76.6 248.9,75.7 248.3,74.4 247.5,71.9 247.1,67.9 247.1,63.3 247.4,59.9 247.9,57.9 249.6,53.3 250.1,50.6 249.8,48 247.9,42.7 247.4,40.7 247.1,36.7 247.1,32 247.4,29.4 247.8,27.4 248.7,25.4Z"/>
<path fill="rgb(137,137,137)" d="M249.4,24.7 250.3,24.1 251.6,24.2 253,24.7 254.4,26 255.3,27.4 256,30 257.3,32.7 258.1,35.4 258.4,38 258.4,40.7 257.8,43.3 257.6,45.3 258.5,50 258.4,52 257.6,55.3 257.8,57.3 258.4,59.9 258.4,63.3 258.1,65.2 257.3,67.9 256,70.6 255.5,72.6 254.9,73.9 253.9,75.2 253,75.9 251,76.5 250.3,76.5 249.6,76.1 248.9,75.2 248.3,73.9 247.5,71.2 247.2,67.9 247.2,63.3 247.6,59.9 248.1,57.9 249.8,53.3 250.2,50.6 249.9,48 247.7,41.3 247.2,36.7 247.3,32 247.6,29 248.3,26.7Z"/>
<path fill="rgb(144,144,144)" d="M250.1,24.7 251,24.6 252.3,25 253.7,26 254.7,27.4 255.5,30 256.6,32.7 257.4,36.7 257.5,40.7 257,43.3 256.9,45.3 257.8,50 257.6,52 256.9,55.3 257,57.3 257.5,59.9 257.5,62.6 257.4,64.6 256.8,67.2 256.4,68.6 255.5,70.6 254.7,73.2 253.7,74.6 253,75.2 252.3,75.6 251,76 250.3,76 249.6,75.6 248.9,74.7 248.2,73.2 247.6,70.6 247.4,66.6 247.4,63.3 247.7,59.9 248.3,57.9 249.9,53.3 250.4,50.6 250.1,48 248.3,42.7 247.7,40.7 247.4,36.7 247.4,32 247.7,29.4 248.2,27.4 248.9,25.9 249.6,25Z"/>
<path fill="rgb(151,151,151)" d="M249.7,25.4 250.3,25.1 251.6,25.2 253,25.9 253.6,26.6 254.5,28 255,30 255.8,32 256.7,36.7 256.8,40.7 256.4,45.3 257.2,50 257,52 256.4,55.3 256.8,59.9 256.7,63.3 256.6,65.2 256,67.9 254.2,73.2 253,74.7 252.1,75.2 251,75.5 250.3,75.5 249.6,75.2 248.9,74.3 248.3,72.9 247.7,69.9 247.5,66.6 247.5,63.3 247.9,59.9 248.6,57.3 250.1,53.3 250.6,50.6 250.6,49.3 250.1,47.3 248,41.3 247.5,36.7 247.6,32 247.9,29.4 248.4,27.4 248.9,26.3Z"/>
<path fill="rgb(159,159,159)" d="M249.5,26 250.3,25.5 251,25.5 252.3,26 253,26.5 254.1,28 255.4,32 256.1,36 256.2,40.7 255.9,45.3 256.6,50 256.5,52 255.9,55.3 256.2,59.9 256.1,64.6 255.4,68.6 254.1,72.6 253.6,73.3 252.3,74.6 251.6,74.9 250.3,75.1 249.6,74.7 248.9,73.8 248.3,72.3 247.8,69.9 247.6,65.9 247.7,62.6 248,59.9 248.8,57.3 250.3,53.3 250.8,50.6 250.5,48 248.2,41.3 247.7,37.3 247.7,33.4 247.9,30 248.4,28Z"/>
<path fill="rgb(166,166,166)" d="M250.1,26 251,26 251.6,26.2 253.2,27.4 253.9,28.7 254.9,32 255.5,36 255.7,40.7 255.5,45.3 256.1,50 256,52 255.5,55.3 255.7,59.9 255.5,64.6 254.9,68.6 253.9,71.9 253.2,73.2 251.6,74.4 250.3,74.7 249.6,74.3 248.9,73.4 248.4,71.9 247.9,69.2 247.8,65.2 247.9,61.9 248.3,59.5 250.5,53.3 251,50.6 250.9,49.3 250.5,47.3 248.3,41.3 247.8,36.7 247.9,32 248.2,29.4 248.9,27.2 249.6,26.3Z"/>
<path fill="rgb(173,173,173)" d="M249.7,26.7 250.3,26.4 251,26.4 251.6,26.6 252.7,27.4 253.5,28.7 254.5,32 255.1,36 255.2,40.7 255.1,45.3 255.6,50 255.6,52 255.1,55.3 255.2,59.9 255.1,64.6 254.5,68.6 253.5,71.9 253,72.9 251.6,74 250.3,74.2 249.6,73.9 249.1,73.2 248.6,71.9 248.1,69.2 247.9,65.9 248,62.6 248.3,59.9 248.9,57.7 250.7,53.3 251.2,50.6 251.2,49.3 250.7,47.3 248.5,41.3 248,38 247.9,34.7 248.1,30.7 248.8,28Z"/>
<path fill="rgb(180,180,180)" d="M249.4,27.4 250.3,26.8 251.6,27 252.3,27.5 253.1,28.7 254.2,32 254.7,36 254.8,40.7 254.7,45.3 255.1,50 255.1,52 254.7,55.3 254.8,59.9 254.7,64.6 254.2,68.6 252.8,72.6 251.6,73.6 250.3,73.8 249.6,73.5 248.7,71.9 248.2,69.2 248.1,65.9 248.1,62.6 248.5,59.9 249,57.9 251.1,52.6 251.5,50.6 251.1,48 248.8,42 248.2,38.7 248.1,35.4 248.2,31.4 248.7,28.7Z"/>
<path fill="rgb(187,187,187)" d="M249.8,27.4 250.3,27.1 251,27.2 251.6,27.5 252.3,28 253,29.3 253.8,32 254.3,36.7 254.4,40.7 254.3,45.3 254.6,50 254.3,55.3 254.4,59.9 254.3,63.9 253.8,68.6 253,71.3 252.3,72.6 251.4,73.2 250.3,73.5 249.6,73.1 248.8,71.2 248.3,68.6 248.2,65.2 248.4,61.9 248.8,59.3 249.6,56.9 251.2,53.3 251.7,50.6 251.7,49.3 251.2,47.3 249.6,43.7 248.8,41.3 248.3,38 248.2,34 248.5,30.7 248.9,28.7Z"/>
<path fill="rgb(194,194,194)" d="M249.6,28 250.3,27.5 251,27.6 251.6,27.9 252.3,28.7 253,30.4 253.5,32 253.8,34.7 254.1,40.7 253.8,46 253.9,52 253.8,54.6 254.1,59.9 253.8,65.9 253.5,68.6 252.3,71.9 251.6,72.7 251,73 250.3,73.1 249.6,72.6 249.2,71.9 248.7,69.9 248.4,65.9 248.5,62.6 248.9,59.2 251.9,52 252.1,50 251.9,48.6 251.2,46.6 249.2,42 248.6,39.3 248.4,36 248.5,32 248.9,29.4Z"/>
<path fill="rgb(201,201,201)" d="M250.2,28 251,28.1 251.6,28.5 252.2,29.4 252.9,31.4 253.3,33.4 253.6,36 253.7,40.7 253.5,44 253,48.4 252.3,48.3 252,47.3 250.3,44.3 249.3,42 248.8,40 248.5,36 248.7,32 249.2,29.4 249.6,28.5ZM252.2,52.6 252.3,52.3 253,52.2 253.5,56.6 253.7,59.9 253.5,65.9 253.1,68.6 252.2,71.2 251.6,72.1 251,72.5 250.3,72.6 249.5,71.9 248.9,70.4 248.7,69.2 248.5,65.2 248.7,61.9 248.9,59.9 249.6,57.8Z"/>
<path fill="rgb(209,209,209)" d="M250,28.7 250.3,28.5 251,28.6 251.6,29.2 252.6,31.4 253,33.4 253.3,36 253.3,41.3 253,44.6 252.3,46 251.6,45.8 250.3,43.8 249.3,41.3 248.9,39.3 248.7,36 248.8,32 249.5,29.4ZM251.3,55.3 251.6,54.8 252.3,54.6 253,56 253.3,59.3 253.3,64.6 252.9,67.9 252.3,70.1 251.6,71.4 251,72 250.3,72.1 249.6,71.5 248.9,69.4 248.7,66.6 248.7,63.3 248.9,60.9 249.5,58.6 250.3,56.8Z"/>
<path fill="rgb(216,216,216)" d="M250,29.4 250.3,29.1 251,29.3 251.6,30 252.4,32 252.8,34.7 253,41.6 252.5,44 252.3,44.5 251.6,44.9 251,44.3 249.6,41.7 248.9,38.2 248.9,35.4 249,32 249.6,29.8ZM251.4,55.9 251.6,55.7 252.3,56.1 252.9,58.6 252.9,65.2 252.2,69.2 251.6,70.6 251.1,71.2 250.3,71.5 249.6,70.8 249,68.6 248.9,65.2 248.9,62.6 249.6,58.9 250.3,57.3 251,56.3Z"/>
<path fill="rgb(223,223,223)" d="M250.1,30 250.3,29.8 251,30.1 251.6,31 252,32 252.5,34.7 252.6,41.3 252.3,42.8 251.6,43.9 251,43.7 250.3,42.7 249.6,41 249.2,38.7 249,36 249.2,32.7 249.6,30.6ZM250.8,57.3 251,56.9 251.6,56.7 252.3,57.8 252.6,59.9 252.6,63.9 252,68.6 251.6,69.6 251,70.5 250.3,70.8 249.6,70 249.3,68.6 249.1,63.9 249.6,59.6 250.3,57.9Z"/>
<path fill="rgb(230,230,230)" d="M250.2,30.7 251,31 251.6,32 252.2,36 252.1,41.3 251.6,42.6 251,42.8 250.3,42 249.8,40.7 249.3,37.3 249.3,34.7 249.5,32ZM250.9,57.9 251,57.8 251.6,58 252.1,59.3 252.2,64.6 251.6,68.6 251,69.6 250.3,70 249.5,68.6 249.3,63.9 249.6,60.6 250.3,58.6Z"/>
<path fill="rgb(237,237,237)" d="M250.1,32 250.3,31.7 251,32.2 251.7,35.4 251.7,40.7 251.4,41.3 251,41.7 250.3,41.1 249.6,38 249.6,33.8ZM250.5,59.3 251,58.9 251.6,59.8 251.8,63.9 251.6,65.9 251.1,67.9 251,68.4 250.3,68.9 249.6,66.8 249.5,63.9 249.8,61.3 250.3,59.5Z"/>
<path fill="rgb(244,244,244)" d="M250.2,34 250.3,33.7 251,34.7 251.2,36.7 251,39.4 250.3,39.4 250,36ZM250.3,61.3 251,61.2 251.2,63.9 251,65.9 250.3,66.9 250,64.6Z"/>
</g></g>
<g clip-path="url(#cp3)"><g filter="url(#jet)">
<rect x="270.80" y="-2.20" width="55.20" height="105.00" fill="rgb(5,5,5)"/>
<path fill="rgb(7,7,7)" d="M271.6,-1.7 323,-1.7 323,102.3 271.6,102.3ZM283.6,45.3 282.3,46.6 281.6,47.7 281.3,50 281.6,52.7 283,54.6 283.6,55 283.9,54.6 282.7,52 282.5,50 282.7,48.6 283.8,46 283.8,45.3Z"/>
<path fill="rgb(9,9,9)" d="M271.6,-1.7 323,-1.7 323,102.3 271.6,102.3ZM283.6,44.6 282.1,46 281.2,47.3 281,48.6 281,52 281.3,53.3 282.3,54.6 283.6,55.8 284.3,56.1 285,56.1 285.3,55.9 285.1,55.3 283.9,54 283.2,52.6 282.8,50 283.4,47.3 285.2,44.7 285,44.4 284.3,44.3ZM292.3,46.6 292.1,47.3 292.3,48.3 292.5,47.3ZM292.3,52.1 292,53.3 292.3,54 292.5,53.3Z"/>
<path fill="rgb(11,11,11)" d="M271.6,-1.7 323,-1.7 323,102.3 271.6,102.3ZM284.3,43.8 282.8,44.7 281.3,46 280.9,46.6 280.7,48 280.7,52.6 281,53.9 281.5,54.6 283.6,56.3 285,56.7 285.6,56.5 286.1,55.9 283.8,53.3 283.2,52 283,50.6 283,49.3 283.4,48 284.1,46.6 285.9,44.7 285.7,44ZM291.6,46.5 291.6,47.3 292.2,48.6 292.3,50.6 292.1,52 291.6,53.3 291.6,54 292.3,54.5 292.6,54 292.9,52.6 292.8,51.3 292.5,50 292.9,48.6 292.9,48 292.7,46.6 292.3,46Z"/>
<path fill="rgb(13,13,13)" d="M271.6,-1.7 323,-1.7 323,102.3 271.6,102.3ZM283,43.9 281.6,44.7 281,44.8 280.4,45.3 280.3,45.8 280.3,54.6 280.6,55.3 281,55.7 281.6,55.7 283.6,56.8 285,57 286.5,56.6 286.8,55.9 285,54.5 284,53.3 283.2,51.3 283.2,49.3 283.8,47.3 285,45.9 286.5,44.7 286.5,44 285,43.4 283.6,43.6ZM292.3,45.7 291.6,46 291.4,46.6 292.2,50 292.1,51.3 291.4,53.3 291.4,54 291.6,54.6 292.3,54.8 293,53.7 293.1,48.6 293,46.7Z"/>
<path fill="rgb(15,15,15)" d="M271.6,-1.7 276.6,-1.7 276.6,43.3 276.6,45.3 277,46.6 277.6,45.9 278,45.3 278.3,43.3 278.3,-1.7 279.1,-1.7 279.1,43.3 279.3,45.3 280.1,48.6 280.2,50.6 280,52.6 279.3,55.3 279.1,57.3 279.1,102.3 278.3,102.3 278.3,57.3 278,55.3 277.6,54.7 277,54 276.6,55.3 276.6,57.3 276.6,102.3 271.6,102.3ZM281.4,-1.7 323,-1.7 323,102.3 281.4,102.3 281.3,63.3 281.5,57.9 281.7,57.3 282.3,57 284.3,57.5 285.6,57.3 287.2,56.6 287.6,55.9 285.6,54.9 284.6,54 283.8,52.6 283.2,50.6 283.3,49.3 284,47.3 285.6,45.5 287.1,44.7 287.3,44 286,43.3 285,43 283.6,43 282.3,43.4 282,43.3 281.6,43 281.4,42ZM291.6,45.8 291.3,46.6 292,49.3 292,50.6 291.2,54 291.6,54.8 292.3,55.1 292.9,54.6 293.1,54 293.1,47.3 293,46 292.3,45.5Z"/>
<path fill="rgb(17,17,17)" d="M271.6,-1.7 276,-1.7 276.1,46.6 276.3,48 277,48 278.3,46.5 279,46.6 279.6,47.8 280,50 279.7,52.6 279,54 278.3,54.1 277,52.6 276.3,52.6 276.1,54 276,102.3 271.6,102.3ZM282.8,-1.7 323,-1.7 323,102.3 282.8,102.3 282.5,72.6 282.2,63.9 282.3,59.9 282.6,58.6 283,58.3 285.6,57.6 288.1,56.6 288.4,55.9 286.3,55.1 285,54.1 283.9,52.6 283.4,50.6 283.4,49.3 283.8,48 284.3,47.1 285.6,45.7 287,44.9 288,44.7 288.1,44 285.6,42.9 283,42.2 282.4,41.3 282.3,40.7 282.2,36.7 282.5,28ZM292.3,45.2 291.6,45.7 291.1,46.6 291.9,50 291.7,51.3 291,54 291.4,54.6 292.3,55.3 293,54.9 293.2,54 293.3,48 293,45.6Z"/>
<path fill="rgb(19,19,19)" d="M271.6,-1.7 275.6,-1.7 275.6,44.7 276,50.6 275.6,55.9 275.6,102.3 271.6,102.3ZM284.4,-1.7 323,-1.7 323,102.3 284.4,102.3 283.7,72.6 283.1,64.6 283.1,61.3 283.3,59.9 284.2,58.6 288.7,56.6 288.8,55.9 288.3,55.6 286.3,54.9 285,53.9 284,52.6 283.5,50.6 283.5,49.3 283.9,48 284.8,46.6 286.3,45.5 288.6,44.7 288.8,44 284.4,42 283.7,41.3 283.4,40.7 283.1,39.3 283.1,36 283.7,28ZM292.3,45.1 291.6,45.5 291,46.6 291.7,50 291.6,51.3 291,53.3 290.9,54 291.2,54.6 292.3,55.5 293,55.3 293.3,54 293.4,48 293.3,46.6 293,45.3ZM277.6,48 278.3,47.3 279,47.4 279.6,48.8 279.8,50 279.7,51.3 279,53.2 278.3,53.3 277.6,52.7 276.6,50.6 276.6,50Z"/>
<path fill="rgb(21,21,21)" d="M274.8,-1.7 275,-1.7 275,102.3 274.8,102.3 274.8,55.9 274.5,50.6 274.8,44ZM285.2,-1.7 296.2,-1.7 296.2,0.8 297,5.2 297.6,5.5 298.8,0.8 298.8,-1.7 306.3,-1.7 306.3,0.8 310.3,2.2 314.3,4.6 316.3,6.2 318.4,8.1 320.2,10.1 322.3,13 323,13 323,87.6 322.3,87.6 320.2,90.5 318.4,92.5 316.3,94.4 314.3,96 310.3,98.4 306.3,99.8 306.3,102.3 298.8,102.3 298.8,99.8 297.6,95.1 297,95.4 296.2,99.8 296.2,102.3 285.2,102.3 284.4,71.9 283.7,65.2 283.7,61.9 284.1,59.9 284.4,59.3 285,58.6 289.1,56.6 289.1,55.9 288.3,55.3 286.3,54.8 285.6,54.4 284.5,53.3 283.8,52 283.6,50 284,48 285,46.6 286.3,45.6 289,44.7 289.1,44 289,43.8 285.1,42 284.4,41.3 283.9,40 283.7,38.7 283.7,35.4 284.4,28.7ZM292.3,44.9 291.6,45.3 291.1,46 290.9,46.6 291.6,50 291.5,51.3 290.8,54 291,54.6 291.6,55.2 292.3,55.6 293,55.6 293.4,54 293.4,46.6 293.2,45.3 293,44.9ZM278.3,48 279,48.1 279.6,50 279.3,52 279,52.5 278.3,52.7 277.6,52 277.2,50.6 277.3,49.3 277.6,48.6Z"/>
<path fill="rgb(23,23,23)" d="M285.7,-1.7 295.7,-1.7 295.7,0.8 296.6,5.5 297,10.5 297.6,9.8 298.1,6.8 299,3.9 299.7,3.3 301.7,3.3 307,4.3 311,6 313,7.2 315,8.7 317,10.6 318.9,12.8 322.3,17.6 323,17.6 323,83 322.3,83 318.9,87.8 317,90 315,91.9 313,93.4 311,94.6 307,96.3 301.7,97.3 299.7,97.3 299,96.7 298.1,93.8 297.6,90.8 297,90.1 296.6,95.1 295.7,99.8 295.7,102.3 285.7,102.3 285,72.2 284.1,64.6 284.1,62.6 284.4,60.6 284.9,59.3 285.5,58.6 286.3,58.1 289,57.1 289.3,56.6 289.2,55.9 288.6,55.3 286.3,54.6 285.6,54.3 284.6,53.3 283.9,52 283.7,50 284.1,48 285,46.7 286.3,45.7 288.3,45.2 289,44.9 289.3,44 289,43.4 286.3,42.4 285,41.3 284.4,40 284.1,38 284.1,36 285,28.4ZM293,44.6 292.3,44.8 291.5,45.3 291,46 290.8,46.6 291.6,50 291.5,51.3 290.7,54 290.9,54.6 291.5,55.3 292.3,55.8 293,55.9 293.3,55.3 293.5,54 293.6,47.3 293.4,45.3ZM278.1,48.6 278.3,48.5 279,48.7 279.4,50 279.2,51.3 279,51.9 278.3,52.1 277.7,51.3 277.5,50.6 277.6,49.4Z"/>
<path fill="rgb(26,26,26)" d="M286.1,-1.7 295.2,-1.7 295.2,0.8 296,4.1 296.5,8.1 297,15.8 297.6,13.4 298.3,8.4 299,6.1 299.7,5.4 300.3,5.2 301.7,5.2 305,5.8 307.7,6.5 309.7,7.3 311.7,8.4 314.3,10.3 316.3,12.2 318.6,14.8 320.6,17.4 322.3,20.4 323,20.4 323,80.2 322.3,80.2 320.6,83.2 318.6,85.8 316.3,88.4 314.3,90.3 311.7,92.2 309.7,93.3 307.7,94.1 305,94.8 301.7,95.4 300.3,95.4 299.7,95.2 299,94.5 298.3,92.2 297.6,87.2 297,84.8 296.5,92.5 296,96.5 295.2,99.8 295.2,102.3 286.1,102.3 285.4,72.6 285.1,69.2 284.5,65.2 284.4,62.6 284.7,60.6 285.3,59.3 286,58.6 287,58 289.1,57.3 289.5,56.6 289.4,55.9 288.9,55.3 286.3,54.5 285,53.6 284,52 283.7,50 283.9,48.6 285,46.8 286.3,45.8 289,45.1 289.4,44.7 289.6,44 289.3,43.3 287,42.5 285.4,41.3 284.7,40 284.4,38 284.5,35.4 285.1,31.4 285.4,28ZM292.3,44.6 291,45.8 290.7,46.6 291.5,50 291.4,51.3 290.6,54 290.8,54.6 291.4,55.3 292.3,55.9 293,56.1 293.5,55.3 293.6,54.2 293.6,46 293.3,44.7 293,44.4ZM278.1,49.3 278.3,49.1 278.9,49.3 279.1,50 279,51.2 278.3,51.5 277.9,50.6 277.9,50Z"/>
<path fill="rgb(28,28,28)" d="M286.5,-1.7 294.7,-1.7 294.7,0.8 295.6,3.5 296.1,6.8 297,20.3 297.6,16.1 298,12.1 298.7,8.8 299,7.8 299.7,6.8 300.3,6.6 301,6.6 305.7,7.5 307.7,8.1 310.3,9.3 313,11.1 315,12.8 317.5,15.4 320,18.7 322.3,22.8 323,22.8 323,77.8 322.3,77.8 320,81.9 317.5,85.2 315,87.8 313,89.5 310.3,91.3 307.7,92.5 305.7,93.1 301,94 300.3,94 299.7,93.8 299,92.8 298.7,91.8 298,88.5 297.6,84.5 297,80.3 296.1,93.8 295.6,97.1 294.7,99.8 294.7,102.3 286.5,102.3 285.7,71.9 284.8,64.6 284.7,62.6 285.1,60.6 285.7,59.3 287,58.2 289.5,57.3 289.7,56.6 289.6,55.9 289.1,55.3 286.3,54.5 285,53.4 284.1,52 283.8,50 284,48.6 285,47 285.6,46.3 287,45.7 289,45.3 289.5,44.7 289.7,44 289.6,43.3 287,42.3 285.7,41.3 285.1,40 284.7,38 284.8,36 285.7,28.7ZM292.3,44.5 291.2,45.3 290.7,46 290.6,46.6 291.3,49.3 291.4,50.6 290.5,54 290.7,54.6 291.3,55.3 293,56.3 293.5,55.9 293.7,55.3 293.7,46 293.5,44.7 293,44.3Z"/>
<path fill="rgb(30,30,30)" d="M286.8,-1.7 294.1,-1.7 294.1,0.8 295.1,2.8 295.9,6.8 297,23.2 298.5,10.8 299.1,8.8 299.7,8 300.3,7.8 305.7,8.8 307.7,9.4 310.3,10.7 313,12.5 315,14.2 317.3,16.7 320.1,20.7 322.3,24.9 323,24.9 323,75.7 322.3,75.7 320.1,79.9 317.3,83.9 315,86.4 313,88.1 310.3,89.9 307.7,91.2 305.7,91.8 300.3,92.8 299.7,92.6 299.1,91.8 298.5,89.8 297,77.4 295.9,93.8 295.1,97.8 294.1,99.8 294.1,102.3 286.8,102.3 286,72.6 285.8,69.9 285.1,65.2 285,62.6 285.3,60.6 286,59.3 287,58.5 289.6,57.4 289.8,56.6 289.7,55.9 289.3,55.3 286.3,54.4 285,53.3 284.2,52 283.8,50 284.1,48.6 285,47.1 286.3,46.1 289.1,45.3 289.7,44.7 289.8,44 289.6,43 287.6,42.4 286.1,41.3 285.3,40 285,38 285.1,35.4 285.8,30.7 286,28ZM291.6,26.8 291.6,30 291.9,28.7ZM292.3,44.4 291.1,45.3 290.6,46 290.5,46.6 291.3,49.3 291.3,50.6 290.4,54 290.5,54.6 291.1,55.3 293,56.5 293.6,56.1 293.8,55.3 293.8,45.3 293.6,44.4 293,44.1ZM291.6,70.6 291.6,73.8 291.9,71.9Z"/>
<path fill="rgb(32,32,32)" d="M287.1,-1.7 292.2,-1.7 292.3,1.2 293.6,1.3 294.3,1.9 295,3.3 295.5,5.5 295.9,8.1 296.5,20.1 297,25.6 298.5,12.1 299,10.1 299.7,9 300.3,8.9 305,9.7 307.7,10.4 310.3,11.7 313,13.6 315.1,15.4 317.4,18.1 320.1,22.1 322.3,26.6 323,26.6 323,74 322.3,74 320.1,78.5 317.4,82.5 315.1,85.2 313,87 310.3,88.9 307.7,90.2 305,90.9 300.3,91.7 299.7,91.6 299,90.5 298.5,88.5 297,75 296.5,80.5 296,91.2 295.5,95.1 295,97.3 294.3,98.7 293.6,99.3 292.3,99.4 292.2,102.3 287.1,102.3 286.3,71.9 285.3,65.2 285.2,62.6 285.6,60.6 286.3,59.3 287.6,58.3 289.6,57.7 289.9,57.3 289.9,56.6 289.8,55.9 289.5,55.3 288.3,54.7 286.3,54.3 285.1,53.3 284.2,52 283.9,50.6 284.2,48.6 285,47.2 286.3,46.1 289.3,45.3 289.8,44.7 290,44 290,43.3 289.6,42.7 287.6,42.2 286.3,41.3 285.6,40 285.2,38 285.3,35.4 286.3,28.7ZM291.6,21.8 291.2,28 291.3,30 291.6,31.7 292.3,31.6 292.5,29.4 292.3,25.4ZM293,43.9 291,45.3 290.5,46 290.4,46.6 291.2,49.3 291.3,50.6 290.3,54 290.4,54.6 291,55.3 293,56.7 293.6,56.6 293.8,55.9 293.9,46 293.6,44ZM291.6,68.9 291.3,70.6 291.2,72.6 291.6,78.8 292.3,75.2 292.5,71.2 292.3,69Z"/>
<path fill="rgb(34,34,34)" d="M287.4,-1.7 291.6,-1.7 291.6,0.8 292.2,2.8 292.3,3 293.6,2.2 294.3,2.7 295,4.2 295.5,6.8 295.8,9.4 296.3,21.9 297,27.9 298.1,16.1 298.8,12.1 299,11.2 299.7,10 301,9.9 305,10.5 307.7,11.3 310.3,12.6 313,14.5 315.4,16.7 317.6,19.4 320.1,23.4 322.3,28.1 323,28.1 323,72.5 322.3,72.5 320.1,77.2 317.6,81.2 315.4,83.9 313,86.1 310.3,88 307.7,89.3 305,90.1 301,90.7 299.7,90.6 299,89.4 298.8,88.5 298.1,84.5 297,72.7 296.4,77.9 295.9,89.8 295.4,94.5 295,96.4 294.3,97.9 293.6,98.4 292.3,97.6 292.2,97.8 291.6,99.8 291.6,102.3 287.4,102.3 286.6,71.9 285.4,63.9 285.5,61.9 286.1,59.9 286.6,59.3 287.5,58.6 289.7,57.9 290.1,57.3 290,55.9 289.7,55.3 289,54.8 287,54.4 285.6,53.8 284.6,52.6 284,50.6 284.2,48.6 285,47.3 286.3,46.2 289,45.6 289.5,45.3 290,44.7 290.1,44 290.1,43.3 289.9,42.7 287.6,42 286.3,40.9 285.8,40 285.4,38 285.5,36 286.4,30.7 286.6,28ZM291.6,17 291,23.8 290.8,28.7 291,30.5 291.4,32 291.6,32.7 292.3,32.9 292.7,30.7 292.6,27.4 292.3,21.4ZM293,43.8 290.7,45.3 290.4,46 290.3,46.6 291.2,50 291.1,51.3 290.2,54 290.3,54.6 290.7,55.3 293,56.8 293.6,56.8 294,55.3 293.8,50.6 294,44.7 293.6,43.7ZM292.3,67.7 291.6,67.9 291.4,68.6 291,70.1 290.8,71.9 291,76.8 291.6,83.6 292.3,79.2 292.6,73.2 292.7,69.9Z"/>
<path fill="rgb(36,36,36)" d="M287.7,-1.7 291.3,-1.7 291.3,0.8 291.6,5.2 292.3,4.9 293,3.5 293.6,3 294.3,3.5 295,5.1 295.4,7.4 295.7,10.8 296.3,26 297,30.1 298.2,16.7 298.9,12.8 299.7,10.9 301,10.6 305,11.3 307.7,12.1 310.3,13.5 313,15.4 315.7,18 317.7,20.6 320.2,24.7 322.3,29.5 323,29.5 323,71.1 322.3,71.1 320.2,75.9 317.7,80 315.7,82.6 313,85.2 310.3,87.1 307.7,88.5 305,89.3 301,90 299.7,89.7 298.9,87.8 298.2,83.9 297,70.5 296.3,74.6 295.8,89.2 295.2,94.5 294.3,97.1 293.6,97.6 293,97.1 292.3,95.7 291.6,95.4 291.3,99.8 291.3,102.3 287.7,102.3 286.9,71.9 286.7,69.9 285.7,65.2 285.6,63.3 286,60.6 286.9,59.3 287.9,58.6 289.6,58.2 290.1,57.9 290.2,57.3 290.1,55.3 290.3,55.1 293,56.9 293.6,57.1 294,56.6 294.1,55.3 293.9,50 294.1,44.7 294,44 293.6,43.5 293,43.7 290.5,45.3 290.2,46 290.2,46.6 291.1,49.3 291.1,50.6 290.3,53.3 290,54.6 289.6,55 288.7,54.6 287,54.4 285.6,53.7 284.7,52.6 284,50.6 284.1,49.3 284.6,48 285.1,47.3 286.3,46.3 289,45.7 289.9,45.3 290.3,43.3 290.2,42.7 289.6,42.3 288.3,42.1 287,41.3 286.1,40 285.6,38 285.7,35.4 286.7,30.7 286.9,28ZM291.6,11.5 291,17.5 290.6,28.7 291,31.7 291.6,33.4 292.3,33.9 292.8,32 292.9,28.7 292.3,17.3ZM291.6,67.2 290.8,69.9 290.6,72.6 291,83.1 291.6,89.1 292.3,83.3 292.9,70.6 292.8,68.6 292.3,66.7Z"/>
<path fill="rgb(38,38,38)" d="M288,-1.7 291,-1.7 291.1,7.4 290.3,28.7 290.8,32 291.6,34 292.3,34.7 293,32.7 293.1,30 292.2,8.8 292.6,5.5 293,4.6 293.6,3.8 294.3,4.2 294.6,4.8 295,6 295.3,8.1 295.7,13.4 296.3,29.3 297,32.1 298.1,19.4 298.8,14.1 299,13.2 299.7,11.8 300.3,11.4 301,11.4 305,12.1 307.7,12.9 310.3,14.3 313,16.2 315.5,18.7 317.7,21.6 320.3,26 322.3,31 323,31 323,69.6 322.3,69.6 320.3,74.6 317.7,79 315.5,81.9 313,84.4 310.3,86.3 307.7,87.7 305,88.5 301,89.2 300.3,89.2 299.7,88.8 299,87.4 298.8,86.5 298.1,81.2 297,68.5 296.3,71.3 295.7,87.2 295.3,92.5 295,94.6 294.6,95.8 294.3,96.4 293.6,96.8 293,96 292.6,95.1 292.2,91.8 293.1,70.6 293,67.9 292.3,65.9 291.6,66.6 290.8,68.6 290.3,71.9 291.1,93.2 291,102.3 288,102.3 287.3,72.6 287,69.9 285.9,65.2 285.8,62.6 286.3,60.6 287,59.5 288.3,58.6 289.6,58.5 290.3,58.1 290.3,55.6 291,55.7 293.6,57.3 294.2,56.6 293.9,50 294.3,44.7 294.2,44 293.6,43.2 290.3,45.2 290.3,42.3 288.3,41.9 287.3,41.3 286.3,40.1 285.9,38.7 285.8,37.3 285.9,35.4 287,30.7 287.3,28ZM288,46 289.6,45.6 290,46 291,49.3 290.9,51.3 289.6,54.8 287,54.3 285.6,53.6 284.8,52.6 284.1,50.6 284.4,48.6 285.1,47.3 286.3,46.4Z"/>
<path fill="rgb(40,40,40)" d="M288.3,-1.7 290.6,-1.7 290.6,8.1 290,28.7 290.6,32 291.6,34.6 292.3,35.6 293,34.2 293.2,30.7 292.5,12.8 292.5,8.8 292.9,6.1 293.6,4.6 294.3,5 294.5,5.5 295,7.1 295.2,8.8 296.3,32 296.9,33.4 297.6,27.1 298.4,18.1 298.9,14.8 299.7,12.6 300.3,12.1 301,12 305.7,13 307.7,13.6 310.3,15 313.4,17.4 315.7,19.8 317.8,22.7 320,26.7 322.3,32.5 323,32.5 323,68.1 322.3,68.1 320,73.9 317.8,77.9 315.7,80.8 313.4,83.2 310.3,85.6 307.7,87 305.7,87.6 301,88.6 300.3,88.5 299.7,88 298.9,85.8 298.4,82.5 297.6,73.5 296.9,67.2 296.3,68.6 295.2,91.8 295,93.5 294.5,95.1 294.3,95.6 293.6,96 292.9,94.5 292.5,91.8 292.5,87.8 293.2,69.9 293,66.4 292.3,65 291.6,66 290.6,68.6 290,71.9 290.6,92.5 290.6,102.3 288.3,102.3 287.6,72.6 287.3,69.9 286.1,65.2 286,62.6 286.5,60.6 287.5,59.3 289,58.7 290.4,58.6 290.5,55.9 291,55.8 293.6,57.5 294.2,57.3 294.4,55.9 293.9,50 294.4,44 294.2,43.3 293.6,43.1 291,44.8 290.6,44.7 290.5,42 290.3,41.8 289,41.9 287.6,41.3 286.5,40 286,38 286.1,35.4 287.3,30.7 287.6,28ZM288.7,46 289.6,45.8 289.8,46 290.9,49.3 290.9,51.3 289.6,54.5 287,54.2 285.6,53.5 284.5,52 284.2,50.6 284.4,48.6 285.2,47.3 286.3,46.4 287,46.2Z"/>
<path fill="rgb(43,43,43)" d="M288.8,-1.7 290.3,-1.7 290.2,6.8 289.6,27.4 289.7,29.4 290.1,31.4 292.1,36 292.3,37.3 293,35.7 293.4,32 293.4,28 292.7,10.8 293,7.4 293.6,5.5 294.3,5.8 295,8.1 295.1,9.4 296.3,33.8 297,34.2 297.1,33.4 298.2,21.4 299,15.1 299.7,13.3 300.3,12.8 301,12.7 305.7,13.6 308.3,14.6 311,16.2 313.7,18.4 315.7,20.7 318,24.1 320.4,28.7 322.3,33.9 323,33.9 323,66.7 322.3,66.7 320.4,71.9 318,76.5 315.7,79.9 313.7,82.2 310.3,84.9 307,86.5 305,87.1 301,87.9 300.3,87.8 299.7,87.3 299,85.5 298.6,83.2 297,66.6 297,66.4 296.5,66.6 296.3,66.8 296.1,69.2 295.1,91.2 295,92.5 294.3,94.8 293.6,95.1 293,93.2 292.7,89.8 293.4,72.6 293.4,68.6 293,64.9 292.3,63.3 292.1,64.6 289.9,69.9 289.6,72.6 290.2,93.8 290.3,102.3 288.8,102.3 288,72.6 287.7,70.6 286.3,65.2 286.2,62.6 286.7,60.6 287.6,59.4 289,58.9 290.3,59 290.7,58.6 290.5,56.6 291,56 293.6,57.7 294.3,57.6 294.5,57.3 294,50 294.6,44 294.3,43 293.6,42.9 291,44.6 290.6,44 290.8,42 290.3,41.5 289,41.7 287.6,41.2 286.7,40 286.2,38 286.3,35.4 287.7,30 288,28ZM286.1,46.6 287,46.2 289.6,46 290,46.6 290.9,49.3 290.9,50.6 290.6,52 289.6,54.3 287.6,54.3 286.3,53.9 285.5,53.3 284.5,52 284.2,50 284.5,48.6 285.3,47.3Z"/>
<path fill="rgb(46,46,46)" d="M293.6,7.4 293.6,7.3 294.3,7.4 295,11.1 295.9,32.7 296,34 296.3,35.1 297,35.2 297.3,33.4 298.2,22.7 299,16.6 299.7,14.5 300.3,13.9 301.7,13.9 305.7,14.7 308.3,15.7 311.1,17.4 314,20.1 316.3,22.9 318.3,26 320.7,31.4 322.3,36.5 323,36.5 323,64.1 322.3,64.1 320.7,69.2 318.7,73.9 317,76.7 315,79.4 313,81.6 310.3,83.7 308.3,84.9 305.7,85.9 301.7,86.7 300.3,86.7 299.7,86.1 299,84 298.2,77.9 297.3,67.2 297,65.4 296.3,65.5 296,66.6 295.9,67.9 295,89.5 294.3,93.2 293.6,93.3 293.2,91.2 293.2,88.5 293.7,71.2 293.5,66.6 293,62.1 292.3,60.7 291.4,59.3 290.8,57.3 290.8,56.6 291,56.3 291.6,56.5 293.6,58 294.3,58.1 294.8,57.9 294.9,57.3 294.3,53.3 294.1,50.6 294.2,48 294.9,43.3 294.8,42.7 294.3,42.5 293.6,42.6 291.6,44.1 291,44.2 290.8,43.3 291.4,41.3 292.3,39.9 293,38.5 293.5,34 293.7,29.4 293.2,12.1 293.2,9.4ZM296.3,39.9 296.1,41.3 296.3,41.9 296.7,40.7 296.6,40ZM296.3,58.7 296.1,59.3 296.3,60.7 296.6,60.6 296.7,59.9ZM288.5,30.7 289,30.4 289.6,31.4 291.3,35.4 291.7,37.3 291.6,38.7 291.2,40 290.7,40.7 289.6,41.3 288.3,41.2 287.6,40.7 286.7,39.3 286.5,38 286.4,36.7 286.7,34.7 287.6,32.1ZM286.3,46.6 287.6,46.2 289,46.1 289.6,46.3 290.6,48.6 290.9,50 290.8,51.3 289.6,54 289,54.3 287.6,54.2 286.3,53.8 285.6,53.3 284.6,52 284.3,50.6 284.6,48.6 285.4,47.3ZM288.8,59.3 289.6,59.3 290.7,59.9 291.4,61.3 291.7,63.3 291.1,65.9 289.6,69.2 289,70.2 288.3,69.8 287.6,68.5 286.7,65.9 286.4,63.9 286.6,61.9 287,60.7 287.6,59.8Z"/>
<path fill="rgb(50,50,50)" d="M293.8,10.1 294.3,9.7 294.8,14.1 295.6,34 296,35.4 296.9,36.7 296.8,37.3 295.4,41.3 295,41.9 293.6,42.4 291.6,43.9 291,43.3 291.1,42.7 293.4,38 293.7,36.7 293.9,34 294,28.7 293.5,13.4 293.6,10.4ZM299.9,15.4 300.3,15 301.7,14.8 305,15.5 307,16.1 310.3,17.9 313.6,20.7 316.2,24.1 318.6,28 320.8,33.4 322.3,39.3 323,39.3 323,61.3 322.3,61.3 321,66.6 319.2,71.2 317.5,74.6 315.8,77.2 313.7,79.8 311.7,81.6 309.7,83.1 307,84.5 305,85.1 301.7,85.8 300.3,85.6 299.7,84.9 299,82.7 298.3,76.5 297.6,68 297.1,64.6 297,59.3 296.4,57.9 295.6,57.2 295,56.1 294.4,53.3 294.1,50.6 294.4,47.3 295,44.6 295.6,43.4 296.4,42.7 297,41.3 297.1,36 297.6,32.6 298.5,21.4 299,17.9 299.7,15.7ZM288.7,32 289,31.9 289.6,32.5 290.3,33.7 291.2,36 291.4,37.3 291.2,38.7 290.7,40 290.1,40.7 289,41 288.3,40.8 287.4,40 286.9,38.7 286.7,37.3 286.9,35.4 287.3,34 288.3,32.2ZM286.6,46.6 288.3,46.3 289,46.3 289.6,46.6 290.5,48.6 290.8,50 290.7,51.3 289.6,53.7 289,54.1 287.6,54.1 286.3,53.7 285.1,52.6 284.5,51.3 284.4,50 284.6,48.6 285.5,47.3ZM290.9,57.3 291,56.9 291.6,56.7 293.6,58.2 295,58.7 295.4,59.3 296,60.6 296.8,63.3 296.9,63.9 295.7,65.9 295.6,67.2 295,83.6 294.3,90.9 293.6,90.2 293.6,88.5 294.1,70.6 293.7,63.9 293,61.5 291.3,58.6ZM288.1,59.9 289,59.6 289.6,59.7 290.3,60.1 291,61.3 291.4,62.6 291.3,63.9 290.7,65.9 289.6,68.1 289,68.7 288.3,68.4 287.6,67.4 287,65.6 286.7,63.9 287,61.5 287.4,60.6Z"/>
<path fill="rgb(53,53,53)" d="M300.3,16.1 301,15.8 301.7,15.8 305.7,16.6 307.7,17.4 311,19.4 313,21.2 314.3,22.7 317,26.5 319.1,30.7 321.1,36.7 322.3,42.7 323,42.7 323,57.9 322.3,57.9 321.6,61.9 320.8,65.2 319.6,68.6 318.2,71.9 316.7,74.6 314.9,77.2 313,79.4 311,81.2 309,82.5 307,83.5 305,84.1 301.7,84.8 300.3,84.6 299.7,83.9 299,81.3 297.3,64.6 297.2,59.3 297,58.3 295,55.4 294.5,53.3 294.2,50.6 294.5,47.3 295,45.2 297,42.3 297.2,41.3 297.3,36 298.7,21.4 299,19.3 299.5,17.4 299.7,16.8ZM295,30.7 295.2,34.7 296.3,36.7 296.4,37.3 296.1,38.7 295.4,40.7 295,41.3 291.6,43.6 291.3,43.3 291.3,42.7 293.1,39.3 294,36.7 294.3,33.9ZM288.1,33.4 288.3,33.1 289,32.9 289.6,33.4 290.4,34.7 291,36.7 291,38 290.7,39.3 290.3,39.9 289.6,40.5 289,40.6 288.3,40.4 287.6,39.7 287,38 287,36.7 287.2,35.4 287.6,34.1ZM286.8,46.6 288.3,46.4 289,46.4 289.4,46.6 289.9,47.3 290.6,49.3 290.6,51.3 289.6,53.4 289,54 287.6,53.9 286.3,53.6 285.2,52.6 284.6,51.3 284.4,50 284.7,48.6 285.6,47.3ZM291.2,57.3 291.6,57 294.9,59.3 296,61.3 296.4,63.3 296.3,63.9 295.2,65.9 295,70.1 294.3,66.7 294.2,64.6 293.9,63.3 293.1,61.3 291.6,58.6ZM287.9,60.6 288.3,60.2 289,60 289.6,60.1 290.3,60.6 290.7,61.3 291,62.6 291,63.9 290.4,65.9 289.6,67.2 289,67.7 288.3,67.5 287.7,66.6 287.1,64.6 287,62.6 287.4,61.3Z"/>
<path fill="rgb(57,57,57)" d="M300.8,16.7 301.7,16.7 305.7,17.5 309,19 311,20.4 312.8,22.1 314.3,23.8 315.9,26 317.5,28.7 318.7,31.4 320.5,36.7 321.9,43.3 322.3,49.3 322,55.9 320.9,62.6 319.2,67.9 316.7,73.2 315.5,75.2 313.7,77.6 312.1,79.2 310.3,80.7 308.3,82 306.3,82.9 301.7,83.9 301,83.9 300.3,83.6 300,83.2 299.7,82.7 299.1,80.5 298.2,71.9 297.4,59.3 297,57.9 295.9,56.6 295,55 294.5,53.3 294.3,50.6 294.4,48 295,45.6 295.9,44 297,42.7 297.4,41.3 297.7,34.7 299,20.7 299.7,17.9 300.3,17ZM288.3,34 289,33.7 289.6,34.1 290.3,35.2 290.7,36.7 290.7,38 290.3,39.3 289.6,40 289,40.2 288.3,39.9 287.8,39.3 287.3,38 287.4,36 287.6,35.1ZM294.8,36 295,35.8 295.6,36.3 296.1,37.3 295.9,38.7 295.5,40 294.5,41.3 291.6,43.3 291.5,42.7 291.8,42ZM287.2,46.6 288.3,46.5 289.2,46.6 289.6,47.1 290.6,49.3 290.5,51.3 289.6,53.2 289,53.8 287.6,53.9 286.3,53.5 285.3,52.6 284.6,51.3 284.5,50 284.8,48.6 285.6,47.4 286.3,46.9ZM291.6,57.3 292.3,57.6 294.5,59.3 295.5,60.6 295.9,61.9 296.1,63.3 295.6,64.3 295,64.8 291.8,58.6 291.5,57.9ZM288.5,60.6 289,60.4 289.7,60.6 290.3,61.3 290.7,62.6 290.7,63.9 290.3,65.4 289.6,66.5 289,66.9 288.3,66.7 287.8,65.9 287.3,63.9 287.5,61.9 287.8,61.3Z"/>
<path fill="rgb(60,60,60)" d="M300.2,18.1 301,17.6 301.7,17.5 305.7,18.4 308.3,19.5 310.3,20.8 311.8,22.1 313.7,24 315.2,26 317.8,30.7 318.9,33.4 320,36.7 321.3,42.7 321.8,49.3 321.5,55.9 320.5,61.9 318.6,67.9 317.5,70.6 316,73.2 314.7,75.2 313,77.3 311.7,78.7 309.7,80.3 306.3,82 301.7,83.1 301,83 300.3,82.7 299.7,81.6 299.4,80.5 298.9,77.9 298.4,73.2 297.8,65.2 297.6,59.3 297,57.6 295.7,55.9 295,54.6 294.5,52.6 294.4,50.6 294.5,48 295,46 295.7,44.7 297,43 297.6,41.3 297.8,35.4 298.7,24.1 299.4,20.1 299.7,19ZM288.4,34.7 289,34.4 289.6,34.8 290.4,36.7 290.4,38 290.2,38.7 289.6,39.5 289,39.7 288.3,39.3 287.6,38 287.7,36ZM295,36.7 295.6,36.9 295.8,37.3 295.8,38.7 295.3,40 294.2,41.3 292.3,42.8 292,42.7 292.3,41.4 294.3,37.5ZM287.6,46.6 289,46.7 289.6,47.3 290.3,48.6 290.6,50 290.4,51.3 289.6,53.1 289,53.7 288.3,53.8 287,53.7 285.6,52.9 285,52 284.6,50.6 284.7,49.3 285.3,48 286.3,47ZM291.9,57.9 292.3,57.8 295,60.1 295.8,61.9 295.9,62.6 295.6,63.7 295,64 294.3,63.1 292.3,59.2ZM288.3,61.3 289,60.9 289.6,61.1 290.2,61.9 290.4,62.6 290.2,64.6 289.6,65.8 289,66.2 288.3,65.9 287.6,63.9 287.6,62.6Z"/>
<path fill="rgb(64,64,64)" d="M300.4,18.7 301,18.4 301.7,18.3 305.7,19.2 308.3,20.4 309.9,21.4 311.7,22.9 313.4,24.7 314.9,26.7 317.5,31.4 319.4,36.7 320.8,42.7 321.3,49.3 321,55.9 320,61.9 318.3,67.2 317.2,69.9 315.8,72.6 313,76.4 311.5,77.9 309.7,79.4 306.3,81.2 301.7,82.3 301,82.2 300.3,81.8 299.7,80.6 299.5,79.9 299,77.4 298.5,72.6 297.9,65.2 297.6,59 297,57.4 295.9,55.9 295,54.2 294.6,52.6 294.4,50.6 294.5,48.6 295,46.4 295.9,44.7 297,43.2 297.6,41.6 297.9,34.7 298.9,24.1 299.7,20ZM288.6,35.4 289,35.1 289.6,35.6 290.1,37.3 289.8,38.7 289,39.1 288.3,38.7 288,37.3 288.1,36ZM294.8,37.3 295,37.2 295.3,37.3 295.7,38 295.1,40 294.3,41 293,42 292.3,42.1 293.6,39.2ZM286.1,47.3 287,46.8 289,46.8 289.9,48 290.4,49.3 290.5,50.6 289.8,52.6 289,53.6 288.3,53.7 287,53.6 285.6,52.7 285.1,52 284.7,50.6 284.7,49.3 285.4,48ZM292.3,58.6 292.3,58.4 293,58.6 294.3,59.6 295,60.4 295.7,62.6 295.3,63.3 295,63.4 294.3,62.6ZM288.3,61.9 289,61.5 289.6,61.8 290,62.6 290.1,63.3 289.8,64.6 289.6,65 289,65.5 288.3,65 288,63.9 288.1,62.6Z"/>
<path fill="rgb(68,68,68)" d="M300.7,19.4 301.7,19.1 305,19.8 308.3,21.2 310.3,22.6 311.7,23.8 314.6,27.4 317.2,32 319.1,37.3 320.4,43.3 320.8,49.3 320.6,55.3 319.6,61.3 317.8,67.2 315.5,71.9 313,75.4 311.3,77.2 309.7,78.5 306.3,80.4 301.7,81.5 301,81.4 300.3,80.9 299.6,79.2 299,76.3 298.6,72.6 298,65.9 297.7,58.6 295,54 294.7,52.6 294.5,50.6 294.6,48.6 295,46.6 297.7,42 298,34.7 299,24.3 299.7,21 300.3,19.7ZM288.6,36.7 289,36.1 289.5,36.7 289.6,37.1 289.4,38 289,38.3 288.4,37.3ZM294.7,38 295,37.6 295.3,38 295.3,38.7 295,39.8 294.3,40.7 293,41.5 292.9,41.3 293.6,39.6ZM286.2,47.3 287.6,46.8 289,46.9 289.6,47.6 290.1,48.6 290.4,50 290.3,51.3 289.6,52.7 289,53.5 288.3,53.7 287,53.5 285.6,52.6 285.1,52 284.7,50.6 284.8,49.3 285.5,48ZM292.9,59.3 293,59.1 293.6,59.4 294.3,59.9 295,60.8 295.3,61.9 295.3,62.6 295,63 294.3,62.3ZM288.7,62.6 289,62.3 289.4,62.6 289.6,63.1 289.5,63.9 289,64.5 288.6,63.9 288.4,63.3Z"/>
<path fill="rgb(71,71,71)" d="M300.9,20.1 301.7,19.9 305,20.6 306.3,21 308.3,22 310.2,23.4 311.7,24.7 313.4,26.7 314.8,28.7 317.2,33.4 318.8,38 320,44 320.4,50 320,55.9 319.1,61.3 317.5,66.6 315.2,71.2 313.9,73.2 312.3,75.2 311,76.5 309,78.1 307.7,78.9 305.7,79.8 301.7,80.7 301,80.6 300.3,80.1 299.7,78.6 299,75.1 298.7,71.9 297.8,58.6 297.6,57.9 295.8,55.3 295.1,54 294.8,52.6 294.6,50.6 294.7,48.6 295.1,46.6 295.8,45.3 297.6,42.7 297.8,42 298.2,34.7 299,25.5 299.7,22 300.3,20.5ZM294.4,38.7 295,38.2 295,39.3 294.3,40.3 293.6,40.8 293.5,40.7 293.6,40ZM286.3,47.3 287.6,46.9 289,47 289.6,47.8 290.1,48.6 290.4,50 290.2,51.3 289.6,52.6 289,53.4 288.3,53.6 287,53.4 286.3,53.1 285.2,52 284.8,50.6 284.9,49.3 285.5,48ZM293.5,59.9 293.6,59.8 294.3,60.3 295,61.2 295,62.4 294.3,61.9 293.6,60.6Z"/>
<path fill="rgb(75,75,75)" d="M301.2,20.7 301.7,20.6 305,21.3 307,22.1 308.3,22.8 310.1,24.1 311.7,25.6 314.3,29 316.6,33.4 318.5,38.7 319.5,44 319.9,50 319.6,55.9 318.6,61.3 316.9,66.6 314.6,71.2 312.1,74.6 309,77.4 307.7,78.2 305.7,79.1 301.7,80 301,79.8 300.3,79.2 299.7,77.7 298.7,71.2 297.9,58.6 297.6,57.9 295.9,55.3 295.2,54 294.8,52.6 294.6,50.6 294.7,48.6 295.2,46.6 295.9,45.3 297.6,42.7 297.9,42 298.3,34.7 299.1,26 299.7,22.7 300.3,21.4ZM286.5,47.3 287.6,46.9 289,47.1 290,48.6 290.3,50 290.2,51.3 289.6,52.4 289,53.3 288.3,53.5 287,53.3 286.3,53 285.3,52 284.9,50.6 285,49.3 285.6,48Z"/>
<path fill="rgb(78,78,78)" d="M301.5,21.4 305,22.1 306.8,22.7 308.3,23.6 309.9,24.7 311.7,26.4 314.3,30 316.4,34 317.7,37.6 318.3,40 319.1,44.7 319.5,50 319.2,55.3 318.3,60.5 317.7,63 316.4,66.6 314.3,70.6 311.7,74.2 309,76.6 307,77.8 305.7,78.3 301.7,79.3 301,79 300.3,78.4 299.7,76.8 298.8,71.2 298,58.6 297.6,57.7 296,55.3 295.3,54 294.9,52.6 294.7,50.6 294.8,48.6 295.4,46.6 296,45.3 297.6,42.9 298,42 298.4,34 299.4,25.4 299.7,23.8 300.3,22.2 301,21.6ZM286.6,47.3 287.6,47 289,47.2 289.6,48.1 290.2,49.3 290.2,50.6 289.8,52 289,53.2 288.3,53.4 287,53.3 286.3,53 285.6,52.3 285.1,51.3 284.9,50 285.3,48.6 285.7,48Z"/>
<path fill="rgb(82,82,82)" d="M300.6,22.7 301,22.3 301.7,22.1 305,22.9 307.7,24 309.6,25.4 311,26.7 313.7,30 315.7,33.7 317,37.2 317.7,39.5 318.5,44 319,49.3 318.7,55.3 318.3,58 317.7,61.1 316.3,65.3 314.3,69.5 311.7,73.2 308.7,75.9 306.3,77.2 301.7,78.5 301,78.3 300.3,77.5 299.5,75.2 299,71.7 298.6,67.2 298.1,58.6 297.6,57.5 296.1,55.3 295.5,54 295,52.5 294.8,50.6 294.9,48.6 295.2,47.3 296.1,45.3 297.6,43.1 298.1,42 299,28.9 299.7,24.8ZM286.8,47.3 287.6,47.1 289,47.3 289.6,48.2 290.1,49.3 290.2,50.6 289.8,52 289,53.1 288.3,53.3 287,53.2 286.3,52.9 285.6,52.2 285.1,51.3 285,50 285.3,48.6 285.8,48Z"/>
<path fill="rgb(85,85,85)" d="M300.7,23.4 301,23.1 301.7,23 303,23.6 305.7,24.3 307.7,25.3 310.3,27.4 313,30.7 315,34.3 316.3,37.7 317,40 317.7,43.3 318.2,49.3 318,54.6 317.7,57.4 317,60.6 315.7,64.7 313.7,68.9 311,72.5 308.7,74.6 306.3,76 304.8,76.5 303,77 301.7,77.6 301,77.5 300.3,76.7 299.7,74.9 298.7,67.9 298.2,58.6 297.6,57.3 295.8,54.6 295.1,52.6 294.8,50.6 295,48.6 295.3,47.3 295.8,46 297.6,43.3 298.2,42 298.4,40.7 298.6,34 299.2,28.7 299.7,25.7 300.3,23.9ZM286.9,47.3 288.3,47.2 289,47.4 289.6,48.3 290,49.3 290.1,50.6 290,51.3 289.3,52.6 289,53 288.3,53.2 287,53.1 286.3,52.8 285.6,52.1 285.2,51.3 285,50 285.4,48.6 286.3,47.6Z"/>
<path fill="rgb(89,89,89)" d="M300.9,24.1 301.1,24.1 302.3,25.4 303,25.8 305.7,26.6 308.3,28.2 310.3,30 312.3,32.7 314.3,36.6 315.7,40.5 316.6,45.3 316.9,50 316.7,54.6 315.9,59.3 314.6,63.3 312.7,67.2 310.9,69.9 308.3,72.4 305.7,74 303,74.8 302.3,75.2 301,76.6 300.3,75.9 299.7,73.9 299.3,71.9 298.7,65.9 298.5,59.3 298.1,57.9 295.9,54.6 295.2,52.6 294.9,50.6 295,49 295.4,47.3 296.7,44.7 298.1,42.7 298.5,41.3 298.7,34.7 299.3,28.7 299.7,26.7 300.3,24.7ZM287.2,47.3 288.3,47.2 289,47.5 290,49.3 290.1,50.6 289.9,51.3 289.2,52.6 288.3,53.2 287,53.1 286.3,52.7 285.6,52 285.1,50.6 285.2,49.3 285.5,48.6 286.3,47.7Z"/>
<path fill="rgb(93,93,93)" d="M300.2,26 300.3,25.5 301,25.6 302.3,27.9 303,28.3 305.7,29.2 307.7,30.4 309.7,32.3 311.4,34.7 313,37.8 314.2,41.3 315,45.3 315.4,50 315.1,54.6 314.4,58.6 313.3,61.9 311.7,65.5 310,67.9 308.3,69.6 306,71.2 303,72.3 302.3,72.7 301,75 300.3,75.1 299.7,73.1 299,68.2 298.6,59.3 298.2,57.9 296,54.6 295.3,52.6 295,50.6 295.1,48.6 295.7,46.6 296.8,44.7 298.2,42.7 298.6,41.3 299,32.4 299.7,27.5ZM287.5,47.3 288.3,47.3 289,47.6 289.7,48.6 290,50 289.9,51.3 289.6,52 289,52.8 288.3,53.1 287,53 286.3,52.6 285.6,51.9 285.1,50.6 285.2,49.3 285.6,48.5 286.3,47.8Z"/>
<path fill="rgb(96,96,96)" d="M300.2,27.4 300.3,26.8 301.7,29.5 302.3,30.3 305.7,31.5 307.7,32.9 309.3,34.7 310.7,36.7 312,39.3 313.3,43.3 313.8,46.6 314,50 313.9,53.3 313.3,57.3 312,61.3 310.7,63.9 309,66.3 307,68.2 305,69.4 302.3,70.3 301.7,71.1 300.3,73.8 299.7,72.1 299,66.9 298.8,59.9 298.6,58.6 296.1,54.6 295.4,52.6 295,50.6 295.2,48.6 295.8,46.6 296.8,44.7 298.3,42.7 298.8,41.3 299,33.7 299.7,28.5ZM286.1,48 287,47.5 288.3,47.4 289,47.7 289.6,48.6 290,50 289.8,51.3 289,52.6 288.3,53 287,52.9 286.4,52.6 285.7,52 285.4,51.3 285.2,50.6 285.3,49.3Z"/>
<path fill="rgb(100,100,100)" d="M300.2,29.4 300.3,29.2 301,30.9 301.6,31.4 302.3,31.8 305,32.7 307,33.9 308.4,35.4 309.9,37.3 311.2,40 312.2,42.7 312.9,46 313.2,50 313,53.3 312.5,56.6 311.5,59.9 309.9,63.3 308.3,65.4 306.3,67.2 304.3,68.2 302.3,68.8 301,69.7 300.3,71.4 299.7,70.9 299,65.2 298.9,59.9 298.8,58.6 296.2,54.6 295.4,52.6 295.1,50.6 295.3,48.6 295.9,46.6 296.5,45.3 298.8,42 298.9,40.7 299,35.4 299.7,29.7ZM286.2,48 287,47.5 288.3,47.4 289,47.8 289.6,48.6 289.9,50 289.7,51.3 289,52.6 288.3,53 287.6,53 286.5,52.6 285.8,52 285.4,51.3 285.2,50.6 285.3,49.3Z"/>
<path fill="rgb(103,103,103)" d="M299.6,32 300.3,32.2 301,32.9 301.7,32.6 304.3,33.5 305.7,34.1 307.7,35.7 308.9,37.3 310.4,40 311.4,42.7 312.2,46 312.5,50 312.3,54 311.6,57.3 310.4,60.6 308.9,63.3 307.7,64.9 305.7,66.5 304.3,67.1 301.7,68 301,67.7 300.3,68.4 299.7,68.6 299.2,63.9 299.2,59.3 298.6,57.9 296.6,55.3 295.9,54 295.4,52 295.2,50.6 295.4,48.6 295.9,46.6 296.6,45.3 298.6,42.7 299.2,41.3 299.2,36.7ZM286.3,48 287,47.6 288.3,47.5 289,47.9 289.5,48.6 289.9,50 289.7,51.3 289,52.5 288.3,52.9 287.6,53 286.6,52.6 285.8,52 285.5,51.3 285.3,50.6 285.4,49.3Z"/>
<path fill="rgb(107,107,107)" d="M301.2,34 301.7,33.6 305,34.7 307,36.1 308.6,38 310.1,40.7 311.2,44 311.8,47.3 312,50 311.8,53.3 311.2,56.6 310.1,59.9 309,61.9 307.6,63.9 305.7,65.6 304.3,66.3 301.7,67 300.6,65.9 299.9,64.6 299.7,63.3 299.6,59.3 298.7,57.9 296.6,55.3 295.8,53.3 295.3,50.6 295.4,48.6 296,46.6 296.6,45.3 298.7,42.7 299.6,41.3 299.7,36.7 300.6,34.7ZM286.4,48 287,47.6 288.3,47.6 289,48 289.7,49.3 289.8,50.6 289.6,51.3 289,52.4 288.3,52.8 287.6,52.9 286.7,52.6 285.9,52 285.5,51.3 285.3,50.6 285.5,49.3 285.8,48.6Z"/>
<path fill="rgb(110,110,110)" d="M301.4,34.7 301.7,34.4 302.3,34.5 305,35.4 307,36.9 308.4,38.7 309.9,41.3 310.8,44 311.3,46.6 311.6,50 311.4,53.3 310.8,56.6 309.9,59.3 308.9,61.3 307.4,63.3 305.7,64.8 303.7,65.8 301.7,66.2 301,65.2 300.5,63.9 299.7,58.7 296.7,55.3 295.8,53.3 295.3,50.6 295.4,49.3 295.8,47.3 296.7,45.3 299.7,41.9 300.5,36.7ZM286.5,48 287.6,47.6 288.3,47.6 289,48.1 289.6,49.3 289.8,50 289.6,51.3 289,52.3 288.3,52.8 287,52.7 286.3,52.3 285.6,51.3 285.4,50.6 285.5,49.3 285.8,48.6Z"/>
<path fill="rgb(114,114,114)" d="M301.4,35.4 301.7,35 302.3,35.1 305,36 306.8,37.3 308.3,39.3 309.4,41.3 310.6,44.7 311.1,47.3 311.2,50 311.1,52.6 310.6,55.9 309.7,58.6 308.4,61.3 307,63 305.7,64.2 303.7,65.2 301.7,65.6 300.6,63.3 299.8,58.6 298.3,57.2 296.7,55.3 295.9,53.3 295.4,50.6 295.5,49.3 295.9,47.3 296.7,45.3 298.3,43.4 299.8,42 300.6,37.3ZM286.6,48 287.6,47.6 288.3,47.7 289,48.1 289.6,49.3 289.7,50 289.5,51.3 289,52.2 288.3,52.7 287.6,52.8 287,52.6 286.3,52.2 285.6,51.3 285.4,50.6 285.6,49.3 285.9,48.6Z"/>
<path fill="rgb(118,118,118)" d="M301.4,36 301.7,35.6 302.3,35.6 304.3,36.2 306.3,37.5 307.9,39.3 309,41.3 310.1,44 310.6,46.6 310.9,49.3 310.9,52 310.5,54.6 309.9,57.3 308.7,59.9 307.4,61.9 305.7,63.6 304.3,64.4 302.3,65 301.7,65 301.1,63.9 300.7,62.6 300.3,59.8 299.7,58 298.3,57.1 297.3,55.9 296.5,54.6 295.8,52.6 295.5,50.6 295.8,48 296.8,45.3 298.3,43.5 299.7,42.6 300,42 300.3,40.8 300.7,38ZM286.7,48 287.6,47.7 288.3,47.7 289,48.2 289.5,49.3 289.7,50 289.5,51.3 289,52.2 288.3,52.6 287.6,52.7 287,52.6 286.3,52.2 285.7,51.3 285.5,50.6 285.6,49.3 286,48.6Z"/>
<path fill="rgb(121,121,121)" d="M301.4,36.7 301.7,36.1 302.3,36.1 304.3,36.7 306.3,38 307.7,39.6 308.7,41.3 309.7,44 310.3,46.6 310.6,49.3 310.5,52.6 310.1,55.3 309.3,57.9 308.3,59.9 307,61.8 305.7,63.1 304.3,63.9 302.3,64.5 301.7,64.5 301.1,63.3 300.7,61.9 300.3,59.1 299.7,57.9 298.3,57 297.3,55.9 296.5,54.6 295.8,52.6 295.6,50.6 295.8,48 296.5,46 297.6,44.3 298.3,43.6 299.7,42.8 300.1,42 300.7,38.7ZM286.8,48 287.6,47.7 288.3,47.8 289,48.3 289.5,49.3 289.6,50.6 289.4,51.3 289,52.1 288.3,52.6 287.6,52.7 287,52.5 286.3,52.1 285.7,51.3 285.5,50.6 285.7,49.3 286,48.6Z"/>
<path fill="rgb(125,125,125)" d="M301.6,36.7 302.3,36.5 303,36.7 305,37.5 306.3,38.6 307.7,40.2 308.7,42 309.4,44 310.1,46.6 310.3,50 310.2,52.6 309.8,55.3 309,57.9 307.9,59.9 307,61.3 305.7,62.6 304.3,63.5 302.3,64.1 301.7,64 301.3,63.3 300.9,61.9 300.3,58.7 299.9,57.9 298.3,56.9 297.4,55.9 296.6,54.6 295.9,52.6 295.7,50.6 295.9,48 296.6,46 297.6,44.4 298.3,43.7 299.7,42.9 300.3,42 300.9,38.7ZM286.9,48 287.6,47.8 288.3,47.9 289,48.4 289.5,49.3 289.6,50.6 289.4,51.3 289,52 288.3,52.5 287.6,52.6 287,52.5 286.2,52 285.6,50.8 285.7,49.3 286.3,48.4Z"/>
<path fill="rgb(130,130,130)" d="M301.5,37.3 301.7,37 302.3,36.9 304.3,37.6 305.7,38.4 307.1,40 308,41.3 309.2,44 309.8,46.6 310.1,49.3 310,52.6 309.5,55.3 308.7,57.9 308,59.3 307,60.8 305.7,62.2 304.3,63 302.3,63.7 301.7,63.6 301.2,62.6 300.4,58.6 300,57.9 299.7,57.5 298.3,56.8 297.5,55.9 296.6,54.6 296,52.6 295.7,50.6 296,48 296.6,46 297.6,44.4 298.3,43.8 299.7,43.1 300.3,42.2 301,38.8ZM287.1,48 288.3,47.9 289,48.5 289.4,49.3 289.5,50.6 289.3,51.3 288.9,52 288.3,52.5 287.6,52.6 287,52.4 286.3,52 285.6,50.6 285.8,49.3 286.3,48.4Z"/>
<path fill="rgb(137,137,137)" d="M301.6,38 301.7,37.8 302.3,37.7 304.3,38.3 305.8,39.3 307.4,41.3 308.5,43.3 309.1,45.3 309.5,47.3 309.7,50 309.5,52.6 309.2,54.6 308.7,56.6 307.8,58.6 306.4,60.6 305,61.9 303.7,62.6 302.3,62.9 301.7,62.8 301.6,62.6 300.3,57.9 299.7,57.2 298.3,56.6 297.6,55.9 296.7,54.6 296.1,52.6 295.8,50.6 296.1,48 296.7,46 297.6,44.7 298.3,44 299.7,43.4 300.3,42.7ZM287.5,48 288.3,48.1 289,48.6 289.4,50 289.4,50.6 289,51.7 288.3,52.3 287.6,52.5 287,52.3 286.3,51.8 285.9,51.3 285.7,50 285.9,49.3 286.3,48.6 287,48.1Z"/>
<path fill="rgb(144,144,144)" d="M301.6,38.7 301.7,38.5 302.3,38.3 304.3,39 305.7,40 307,41.5 308.1,43.3 308.5,44.7 309.1,47.3 309.3,49.3 309,53.7 308.5,55.9 307.7,57.9 306.3,59.9 305,61.2 303.7,61.9 302.3,62.3 301.7,62.1 300.3,57.6 299.7,57 298.3,56.5 297.6,55.9 296.8,54.6 296.2,52.6 295.9,50.6 296,48.6 296.8,46 297.6,44.7 298.3,44.1 299.7,43.6 300.3,43ZM286.4,48.6 287,48.2 287.6,48.1 288.3,48.2 289,48.8 289.4,50 289.3,50.6 289,51.5 288.3,52.2 287.6,52.4 287,52.2 286,51.3 285.8,50 286,49.3Z"/>
<path fill="rgb(151,151,151)" d="M301.6,39.3 302.3,39.1 304.3,39.8 305.7,40.8 307,42.2 307.7,43.3 308.1,44.7 308.6,47.3 308.9,50 308.8,52 308.4,54.6 307.9,56.6 307.3,57.9 306.3,59.2 305,60.3 303.7,61.1 302.3,61.5 301.7,61.4 300.3,57.3 299.7,56.8 298.3,56.3 297,54.8 296.4,53.3 296,50.6 296.2,48.6 296.9,46 297.6,44.9 298.3,44.3 299.7,43.8 300.3,43.3ZM286.5,48.6 287.6,48.2 288.3,48.3 289,49 289.3,50 289.2,50.6 289,51.4 288.3,52.1 287.6,52.2 287,52.1 286.2,51.3 285.9,50 286.1,49.3Z"/>
<path fill="rgb(159,159,159)" d="M301.5,40.7 301.7,40.2 302.3,40 303.7,40.4 305.7,41.5 306.9,42.7 307.6,44 308.4,49.3 308.2,53.3 307.3,57.3 306.9,57.9 305.7,59.1 303.7,60.2 302.3,60.6 301.7,60.4 300.3,57.1 299.7,56.6 298.3,56.2 297,54.6 296.5,53.3 296.1,50.6 296.4,48 297,46 298.3,44.4 299.7,44 300.3,43.5ZM286.7,48.6 287.6,48.3 288.3,48.4 289,49.3 289.1,50.6 288.9,51.3 288.3,52 287.6,52.1 287,52 286.3,51.3 286,50 286.2,49.3Z"/>
<path fill="rgb(166,166,166)" d="M301.6,41.3 301.7,41.1 302.3,40.9 303.7,41.2 305,41.6 306.5,42.7 307.2,44 308,49.3 307.9,52.6 307.2,56.6 307,57.3 306.3,58.1 305,59 302.3,59.7 301.7,59.5 300.3,56.9 298.3,56.1 297.5,55.3 296.6,53.3 296.3,50.6 296.4,48 297.1,46 298.3,44.5 300.3,43.7ZM286.8,48.6 287.6,48.4 288.3,48.5 288.9,49.3 289.1,50.6 288.8,51.3 288.3,51.8 287.6,52 287,51.9 286.3,51.2 286.1,50 286.3,49.3Z"/>
<path fill="rgb(173,173,173)" d="M301.6,42 301.7,41.8 302.3,41.6 304.3,41.8 305.7,42.3 306.3,42.9 306.9,44 307.5,48 307.6,52 306.9,56.6 306.7,57.3 305.7,58.3 303.7,58.9 301.7,58.8 300.3,56.7 298.3,55.9 297.6,55.3 296.9,54 296.4,52 296.4,48.6 296.7,47.3 297.2,46 298.3,44.7 300.3,43.9ZM287,48.6 287.6,48.5 288.3,48.7 288.8,49.3 289,50 289,50.6 288.7,51.3 288.3,51.7 287.6,51.9 287,51.7 286.5,51.3 286.2,50.6 286.1,50 286.4,49.3Z"/>
<path fill="rgb(180,180,180)" d="M301.4,42.7 301.7,42.3 303,42.1 305,42.2 306.3,43.3 306.7,44 306.9,46 307.3,48 307.4,50 307.3,52.6 306.9,54.6 306.7,56.6 306.4,57.3 305.7,58 304.3,58.5 303,58.5 301.7,58.3 300.3,56.5 298.3,55.8 297.3,54.6 296.6,52.6 296.5,49.3 297,46.6 297.6,45.4 298.3,44.8 300.3,44.1ZM287.4,48.6 288.3,48.8 288.9,50 288.9,50.6 288.5,51.3 287.6,51.8 287,51.6 286.3,50.6 286.2,50 286.5,49.3 287,48.8Z"/>
<path fill="rgb(187,187,187)" d="M302,42.7 303.7,42.3 305,42.5 306.1,43.3 306.4,44 307.2,50 307.1,52 306.6,54.6 306.4,56.6 305.7,57.7 304.3,58.3 303,58.3 301.7,57.8 300.3,56.3 298.3,55.7 297.4,54.6 296.7,52.6 296.6,48.6 296.8,47.3 297.4,46 298.3,44.9 300.3,44.3 301.7,42.8ZM286.6,49.3 287,48.9 287.6,48.7 288.3,49 288.8,50 288.7,50.6 288.3,51.4 287.6,51.7 286.8,51.3 286.4,50.6 286.3,50Z"/>
<path fill="rgb(194,194,194)" d="M302.9,42.7 304.3,42.5 305,42.7 305.9,43.3 306.2,44 306.3,46 306.9,48 306.9,52 306.3,54.6 306.2,56.6 305.7,57.5 304.3,58.1 303.7,58.1 302.3,57.8 301.7,57.5 300.3,56.2 298.3,55.5 297.6,54.9 297.1,54 296.7,52 296.7,48 297.1,46.6 297.6,45.7 298.3,45.1 300.3,44.4 301.7,43.1ZM286.7,49.3 287.6,48.8 288.3,49.1 288.7,50 288.6,50.6 288.3,51.3 287.6,51.6 286.9,51.3 286.5,50.6 286.4,50Z"/>
<path fill="rgb(201,201,201)" d="M301.9,43.3 303,42.8 304.3,42.7 305,42.9 305.6,43.3 306,44 306,45.3 306.7,48 306.8,52 306,55.3 306,56.6 305.6,57.3 305,57.7 304.3,57.9 303,57.8 301.7,57.1 300.3,56 298.3,55.4 297.6,54.6 296.8,52.6 296.7,48.6 297,47.3 297.6,46 298.3,45.2 300.3,44.6ZM286.9,49.3 287.6,48.9 288.3,49.3 288.6,50 288.5,50.6 288,51.3 287.6,51.5 287.1,51.3 286.6,50.6 286.5,50Z"/>
<path fill="rgb(209,209,209)" d="M302.5,43.3 303.7,42.9 304.3,42.9 305.4,43.3 305.8,44 305.7,45.3 306.6,48 306.6,52 305.7,55.3 305.8,56.6 305.4,57.3 304.3,57.7 303,57.5 300.3,55.8 298.3,55.3 297.6,54.6 297.3,54 296.8,52 296.9,48 297.6,46 298.3,45.3 300.3,44.8ZM287,49.3 287.6,49.1 288.1,49.3 288.5,50 288.3,50.9 287.6,51.3 287,51.1 286.7,50.6 286.7,50Z"/>
<path fill="rgb(216,216,216)" d="M302.9,43.3 304.3,43 305.1,43.3 305.6,44 305.5,45.3 306.2,47.3 306.5,48.6 306.5,52 306.2,53.3 305.5,55.3 305.6,56.6 305.1,57.3 304.3,57.6 303,57.3 300.3,55.7 298.3,55.1 297.4,54 296.9,52 296.9,48.6 297.2,47.3 297.6,46.2 298.3,45.5 300.3,44.9ZM287.3,49.3 287.9,49.3 288.4,50 288.3,50.7 287.6,51.2 286.8,50.6 286.8,50 287,49.5Z"/>
<path fill="rgb(223,223,223)" d="M303.4,43.3 304.3,43.2 304.7,43.3 305.4,44 305.2,45.3 306.1,47.3 306.4,49.3 306.3,52.6 305.2,55.3 305.4,56.6 305,57.1 304.3,57.4 303.4,57.3 302.5,56.6 302.3,56.2 301,55.9 300.3,55.5 298.3,55 297.5,54 297.1,52.6 296.9,51.3 297,48.5 297.6,46.4 298.3,45.6 299,45.4 300.3,45.1 301,44.7 302.3,44.4 302.5,44ZM286.9,50 287.6,49.3 288.2,50 288.1,50.6 287.6,51 287,50.7Z"/>
<path fill="rgb(230,230,230)" d="M303,44 303.7,43.5 304.3,43.4 305.1,44 305.1,44.7 304.8,45.3 305.9,47.3 306.2,48.6 306.1,52.6 305.7,53.9 304.8,55.3 305.1,55.9 305.1,56.6 304.3,57.2 303.7,57.1 303,56.6 302.9,55.9 302.5,55.3 301.7,55.7 301,55.7 298.3,54.8 297.6,54 297,51.3 297.1,48.6 297.6,46.6 298.3,45.8 301,44.9 301.7,44.9 302.5,45.3 302.9,44.7ZM287.1,50 287.6,49.6 288,50 287.9,50.6 287.6,50.8 287.2,50.6Z"/>
<path fill="rgb(237,237,237)" d="M303.4,44 304.3,43.7 304.8,44 304.7,44.7 304.3,45.2 303.7,45.3 304.3,45.4 305.4,46.6 305.8,47.3 306.1,48.6 306.1,52 305.8,53.3 304.3,55.2 303.7,55.3 304.3,55.4 304.7,55.9 304.8,56.6 304.3,56.9 303.4,56.6 303.4,55.9 303.7,55.3 302.3,54.9 301.7,55.4 301,55.5 298.3,54.6 297.5,53.3 297.2,51.3 297.3,48 297.6,46.8 298.3,46 301,45.1 301.7,45.2 302.3,45.7 303.7,45.3 303.4,44.7ZM287.4,50 287.6,49.8 287.8,50 287.6,50.7Z"/>
<path fill="rgb(244,244,244)" d="M304.1,44 304.4,44 304.3,44.3ZM298.7,46 301,45.3 301.7,45.5 302.3,46 303.7,45.8 304.3,46 305.2,46.6 305.8,48 306,51.3 305.7,53.2 305,54.2 303.7,54.8 302.3,54.6 301.7,55.1 301,55.3 298.7,54.6 297.9,54 297.4,52.6 297.4,48 297.6,47.1 298.3,46.2ZM304.1,56.6 304.3,56.3 304.4,56.6Z"/>
<path fill="rgb(251,251,251)" d="M299.3,46 301,45.7 302.3,46.3 304.3,46.3 305,46.8 305.7,48 305.8,52 305.7,52.8 304.9,54 304.3,54.3 303.7,54.4 302.3,54.3 301,54.9 299.3,54.6 298.1,54 297.6,53.2 297.5,52.6 297.5,48 297.6,47.4 298.3,46.4Z"/>
</g></g>
<rect x="126.20" y="0.80" width="196.80" height="99.00" fill="none" stroke="#000" stroke-width="0.5"/>
<line x1="126.20" y1="99.80" x2="126.20" y2="102.00" stroke="#000" stroke-width="0.5"/>
<text x="126.20" y="108.3" text-anchor="middle">0</text>
<line x1="150.80" y1="99.80" x2="150.80" y2="102.00" stroke="#000" stroke-width="0.5"/>
<text x="150.80" y="108.3" text-anchor="middle">10</text>
<line x1="175.40" y1="99.80" x2="175.40" y2="102.00" stroke="#000" stroke-width="0.5"/>
<text x="175.40" y="108.3" text-anchor="middle">20</text>
<line x1="200.00" y1="99.80" x2="200.00" y2="102.00" stroke="#000" stroke-width="0.5"/>
<text x="200.00" y="108.3" text-anchor="middle">30</text>
<line x1="224.60" y1="99.80" x2="224.60" y2="102.00" stroke="#000" stroke-width="0.5"/>
<text x="224.60" y="108.3" text-anchor="middle">40</text>
<line x1="249.20" y1="99.80" x2="249.20" y2="102.00" stroke="#000" stroke-width="0.5"/>
<text x="249.20" y="108.3" text-anchor="middle">50</text>
<line x1="273.80" y1="99.80" x2="273.80" y2="102.00" stroke="#000" stroke-width="0.5"/>
<text x="273.80" y="108.3" text-anchor="middle">60</text>
<line x1="298.40" y1="99.80" x2="298.40" y2="102.00" stroke="#000" stroke-width="0.5"/>
<text x="298.40" y="108.3" text-anchor="middle">70</text>
<line x1="323.00" y1="99.80" x2="323.00" y2="102.00" stroke="#000" stroke-width="0.5"/>
<text x="323.00" y="108.3" text-anchor="middle">80</text>
<line x1="124.00" y1="10.70" x2="126.20" y2="10.70" stroke="#000" stroke-width="0.5"/>
<text x="122.20" y="13.00" text-anchor="end">40</text>
<line x1="124.00" y1="30.50" x2="126.20" y2="30.50" stroke="#000" stroke-width="0.5"/>
<text x="122.20" y="32.80" text-anchor="end">20</text>
<line x1="124.00" y1="50.30" x2="126.20" y2="50.30" stroke="#000" stroke-width="0.5"/>
<text x="122.20" y="52.60" text-anchor="end">0</text>
<line x1="124.00" y1="70.10" x2="126.20" y2="70.10" stroke="#000" stroke-width="0.5"/>
<text x="122.20" y="72.40" text-anchor="end">−20</text>
<line x1="124.00" y1="89.90" x2="126.20" y2="89.90" stroke="#000" stroke-width="0.5"/>
<text x="122.20" y="92.20" text-anchor="end">−40</text>
<text x="225.0" y="116.3" text-anchor="middle">x, μm</text>
<text transform="translate(106.5,49.5) rotate(-90)" text-anchor="middle">y, μm</text>
<text class="b" x="128.6" y="6.9">PIC</text>
<text class="b" x="128.8" y="96.0">(a)</text>
<text class="b" style="font-size:5.9px;word-spacing:-0.4px" x="147.60" y="97.7">t = 1ps</text>
<text class="b" style="font-size:5.9px;word-spacing:-0.4px" x="190.90" y="97.7">t = 5ps</text>
<text class="b" style="font-size:5.9px;word-spacing:-0.4px" x="240.00" y="97.7">t = 8ps</text>
<text class="b" style="font-size:5.9px;word-spacing:-0.4px" x="289.50" y="97.7">t = 12ps</text>
<rect x="329.6" y="19.3" width="3.9" height="61.7" fill="url(#cb)" stroke="#000" stroke-width="0.5"/>
<line x1="333.5" y1="81.00" x2="335.7" y2="81.00" stroke="#000" stroke-width="0.5"/>
<text x="337.6" y="83.30">0.0</text>
<line x1="333.5" y1="60.43" x2="335.7" y2="60.43" stroke="#000" stroke-width="0.5"/>
<text x="337.6" y="62.73">0.1</text>
<line x1="333.5" y1="39.87" x2="335.7" y2="39.87" stroke="#000" stroke-width="0.5"/>
<text x="337.6" y="42.17">0.2</text>
<line x1="333.5" y1="19.30" x2="335.7" y2="19.30" stroke="#000" stroke-width="0.5"/>
<text x="337.6" y="21.60">0.3</text>
<g clip-path="url(#cpl)" fill="none" stroke-linejoin="round">
<path d="M126.2,220.99 126.72,220.89 127.23,220.78 127.75,220.68 128.26,220.56 128.78,220.45 129.29,220.33 129.81,220.2 130.32,220.07 130.84,219.94 131.36,219.81 131.87,219.67 132.39,219.53 132.9,219.39 133.42,219.24 133.93,219.09 134.45,218.94 134.96,218.78 135.48,218.63 135.99,218.47 136.51,218.31 137.03,218.14 137.54,217.97 138.06,217.79 138.57,217.61 139.09,217.42 139.6,217.23 140.12,217.04 140.63,216.84 141.15,216.63 141.67,216.42 142.18,216.21 142.7,216 143.21,215.78 143.73,215.56 144.24,215.33 144.76,215.11 145.27,214.88 145.79,214.65 146.3,214.42 146.82,214.19 147.34,213.95 147.85,213.71 148.37,213.46 148.88,213.2 149.4,212.95 149.91,212.68 150.43,212.41 150.94,212.14 151.46,211.87 151.98,211.59 152.49,211.31 153.01,211.03 153.52,210.75 154.04,210.47 154.55,210.19 155.07,209.91 155.58,209.64 156.1,209.36 156.61,209.09 157.13,208.82 157.65,208.55 158.16,208.28 158.68,208 159.19,207.73 159.71,207.45 160.22,207.18 160.74,206.9 161.25,206.62 161.77,206.35 162.29,206.07 162.8,205.8 163.32,205.52 163.83,205.25 164.35,204.98 164.86,204.72 165.38,204.46 165.89,204.2 166.41,203.94 166.92,203.69 167.44,203.45 167.96,203.2 168.47,202.96 168.99,202.72 169.5,202.48 170.02,202.24 170.53,202 171.05,201.77 171.56,201.54 172.08,201.31 172.6,201.09 173.11,200.87 173.63,200.66 174.14,200.45 174.66,200.25 175.17,200.06 175.69,199.87 176.2,199.68 176.72,199.5 177.23,199.31 177.75,199.13 178.27,198.95 178.78,198.78 179.3,198.6 179.81,198.43 180.33,198.27 180.84,198.12 181.36,197.97 181.87,197.83 182.39,197.7 182.91,197.57 183.42,197.46 183.94,197.36 184.45,197.27 184.97,197.17 185.48,197.08 186,196.98 186.51,196.89 187.03,196.8 187.54,196.72 188.06,196.64 188.58,196.56 189.09,196.5 189.61,196.44 190.12,196.39 190.64,196.34 191.15,196.31 191.67,196.29 192.18,196.29 192.7,196.29 193.22,196.31 193.73,196.34 194.25,196.39 194.76,196.44 195.28,196.5 195.79,196.56 196.31,196.64 196.82,196.72 197.34,196.8 197.85,196.89 198.37,196.98 198.89,197.08 199.4,197.17 199.92,197.27 200.43,197.36 200.95,197.46 201.46,197.58 201.98,197.71 202.49,197.85 203.01,197.99 203.53,198.15 204.04,198.32 204.56,198.49 205.07,198.66 205.59,198.84 206.1,199.01 206.62,199.19 207.13,199.37 207.65,199.54 208.16,199.71 208.68,199.87 209.2,200.03 209.71,200.2 210.23,200.38 210.74,200.56 211.26,200.75 211.77,200.94 212.29,201.13 212.8,201.32 213.32,201.51 213.84,201.7 214.35,201.88 214.87,202.06 215.38,202.23 215.9,202.39 216.41,202.54 216.93,202.68 217.44,202.8 217.96,202.91 218.47,203.01 218.99,203.09 219.51,203.16 220.02,203.23 220.54,203.3 221.05,203.36 221.57,203.43 222.08,203.49 222.6,203.55 223.11,203.61 223.63,203.66 224.15,203.71 224.66,203.76 225.18,203.8 225.69,203.84 226.21,203.88 226.72,203.91 227.24,203.94 227.75,203.96 228.27,203.97 228.78,203.98 229.3,203.99 229.82,203.98 230.33,203.97 230.85,203.96 231.36,203.94 231.88,203.91 232.39,203.88 232.91,203.84 233.42,203.8 233.94,203.76 234.46,203.71 234.97,203.66 235.49,203.61 236,203.55 236.52,203.49 237.03,203.43 237.55,203.36 238.06,203.3 238.58,203.23 239.09,203.16 239.61,203.09 240.13,203.01 240.64,202.91 241.16,202.8 241.67,202.68 242.19,202.54 242.7,202.39 243.22,202.23 243.73,202.06 244.25,201.88 244.77,201.7 245.28,201.51 245.8,201.32 246.31,201.13 246.83,200.94 247.34,200.75 247.86,200.56 248.37,200.38 248.89,200.2 249.4,200.03 249.92,199.87 250.44,199.71 250.95,199.54 251.47,199.37 251.98,199.19 252.5,199.01 253.01,198.84 253.53,198.66 254.04,198.49 254.56,198.32 255.08,198.15 255.59,197.99 256.11,197.85 256.62,197.71 257.14,197.58 257.65,197.46 258.17,197.36 258.68,197.27 259.2,197.17 259.71,197.08 260.23,196.98 260.75,196.89 261.26,196.8 261.78,196.72 262.29,196.64 262.81,196.56 263.32,196.5 263.84,196.44 264.35,196.39 264.87,196.34 265.38,196.31 265.9,196.29 266.42,196.29 266.93,196.29 267.45,196.31 267.96,196.34 268.48,196.39 268.99,196.44 269.51,196.5 270.02,196.56 270.54,196.64 271.06,196.72 271.57,196.8 272.09,196.89 272.6,196.98 273.12,197.08 273.63,197.17 274.15,197.27 274.66,197.36 275.18,197.46 275.69,197.57 276.21,197.7 276.73,197.83 277.24,197.97 277.76,198.12 278.27,198.27 278.79,198.43 279.3,198.6 279.82,198.78 280.33,198.95 280.85,199.13 281.37,199.31 281.88,199.5 282.4,199.68 282.91,199.87 283.43,200.06 283.94,200.25 284.46,200.45 284.97,200.66 285.49,200.87 286,201.09 286.52,201.31 287.04,201.54 287.55,201.77 288.07,202 288.58,202.24 289.1,202.48 289.61,202.72 290.13,202.96 290.64,203.2 291.16,203.45 291.68,203.69 292.19,203.94 292.71,204.2 293.22,204.46 293.74,204.72 294.25,204.98 294.77,205.25 295.28,205.52 295.8,205.8 296.31,206.07 296.83,206.35 297.35,206.62 297.86,206.9 298.38,207.18 298.89,207.45 299.41,207.73 299.92,208 300.44,208.28 300.95,208.55 301.47,208.82 301.99,209.09 302.5,209.36 303.02,209.64 303.53,209.91 304.05,210.19 304.56,210.47 305.08,210.75 305.59,211.03 306.11,211.31 306.62,211.59 307.14,211.87 307.66,212.14 308.17,212.41 308.69,212.68 309.2,212.95 309.72,213.2 310.23,213.46 310.75,213.71 311.26,213.95 311.78,214.19 312.3,214.42 312.81,214.65 313.33,214.88 313.84,215.11 314.36,215.33 314.87,215.56 315.39,215.78 315.9,216 316.42,216.21 316.94,216.42 317.45,216.63 317.97,216.84 318.48,217.04 319,217.23 319.51,217.42 320.03,217.61 320.54,217.79 321.06,217.97 321.57,218.14 322.09,218.31 322.61,218.47 323.12,218.63 323.64,218.78 324.15,218.94 324.67,219.09 325.18,219.24 325.7,219.39 326.21,219.53 326.73,219.67 327.25,219.81 327.76,219.94 328.28,220.07 328.79,220.2 329.31,220.33 329.82,220.45 330.34,220.56 330.85,220.68 331.37,220.78 331.88,220.89 332.4,220.99" stroke="#f2a0a0" stroke-width="0.55" stroke-dasharray="3.6 1 0.7 1"/>
<path d="M126.2,220.99 126.72,220.91 127.23,220.82 127.75,220.73 128.26,220.64 128.78,220.55 129.29,220.45 129.81,220.35 130.32,220.25 130.84,220.14 131.36,220.04 131.87,219.93 132.39,219.81 132.9,219.7 133.42,219.58 133.93,219.46 134.45,219.34 134.96,219.22 135.48,219.1 135.99,218.97 136.51,218.84 137.03,218.71 137.54,218.58 138.06,218.44 138.57,218.3 139.09,218.15 139.6,218 140.12,217.85 140.63,217.7 141.15,217.54 141.67,217.38 142.18,217.21 142.7,217.05 143.21,216.88 143.73,216.7 144.24,216.53 144.76,216.35 145.27,216.17 145.79,215.99 146.3,215.81 146.82,215.62 147.34,215.43 147.85,215.24 148.37,215.04 148.88,214.83 149.4,214.62 149.91,214.41 150.43,214.19 150.94,213.97 151.46,213.75 151.98,213.52 152.49,213.3 153.01,213.06 153.52,212.83 154.04,212.59 154.55,212.36 155.07,212.12 155.58,211.87 156.1,211.63 156.61,211.39 157.13,211.15 157.65,210.9 158.16,210.66 158.68,210.41 159.19,210.16 159.71,209.92 160.22,209.67 160.74,209.41 161.25,209.16 161.77,208.9 162.29,208.64 162.8,208.38 163.32,208.11 163.83,207.84 164.35,207.56 164.86,207.28 165.38,206.99 165.89,206.69 166.41,206.39 166.92,206.09 167.44,205.78 167.96,205.45 168.47,205.11 168.99,204.75 169.5,204.38 170.02,204.01 170.53,203.62 171.05,203.23 171.56,202.84 172.08,202.45 172.6,202.06 173.11,201.68 173.63,201.3 174.14,200.92 174.66,200.54 175.17,200.14 175.69,199.75 176.2,199.36 176.72,198.96 177.23,198.58 177.75,198.2 178.27,197.83 178.78,197.48 179.3,197.14 179.81,196.83 180.33,196.52 180.84,196.2 181.36,195.89 181.87,195.58 182.39,195.27 182.91,194.96 183.42,194.66 183.94,194.38 184.45,194.1 184.97,193.84 185.48,193.6 186,193.37 186.51,193.17 187.03,192.99 187.54,192.84 188.06,192.71 188.58,192.6 189.09,192.49 189.61,192.38 190.12,192.28 190.64,192.18 191.15,192.09 191.67,192.01 192.18,191.94 192.7,191.89 193.22,191.85 193.73,191.82 194.25,191.81 194.76,191.82 195.28,191.86 195.79,191.91 196.31,191.99 196.82,192.07 197.34,192.17 197.85,192.28 198.37,192.4 198.89,192.52 199.4,192.64 199.92,192.77 200.43,192.89 200.95,193.02 201.46,193.16 201.98,193.32 202.49,193.49 203.01,193.67 203.53,193.86 204.04,194.06 204.56,194.26 205.07,194.47 205.59,194.68 206.1,194.9 206.62,195.11 207.13,195.32 207.65,195.53 208.16,195.73 208.68,195.93 209.2,196.13 209.71,196.33 210.23,196.55 210.74,196.77 211.26,196.99 211.77,197.22 212.29,197.44 212.8,197.67 213.32,197.9 213.84,198.12 214.35,198.34 214.87,198.55 215.38,198.76 215.9,198.95 216.41,199.14 216.93,199.31 217.44,199.48 217.96,199.62 218.47,199.75 218.99,199.87 219.51,199.97 220.02,200.08 220.54,200.18 221.05,200.29 221.57,200.39 222.08,200.49 222.6,200.58 223.11,200.67 223.63,200.76 224.15,200.85 224.66,200.92 225.18,201 225.69,201.06 226.21,201.12 226.72,201.17 227.24,201.22 227.75,201.25 228.27,201.28 228.78,201.29 229.3,201.3 229.82,201.29 230.33,201.28 230.85,201.25 231.36,201.22 231.88,201.17 232.39,201.12 232.91,201.06 233.42,201 233.94,200.92 234.46,200.85 234.97,200.76 235.49,200.67 236,200.58 236.52,200.49 237.03,200.39 237.55,200.29 238.06,200.18 238.58,200.08 239.09,199.97 239.61,199.87 240.13,199.75 240.64,199.62 241.16,199.48 241.67,199.31 242.19,199.14 242.7,198.95 243.22,198.76 243.73,198.55 244.25,198.34 244.77,198.12 245.28,197.9 245.8,197.67 246.31,197.44 246.83,197.22 247.34,196.99 247.86,196.77 248.37,196.55 248.89,196.33 249.4,196.13 249.92,195.93 250.44,195.73 250.95,195.53 251.47,195.32 251.98,195.11 252.5,194.9 253.01,194.68 253.53,194.47 254.04,194.26 254.56,194.06 255.08,193.86 255.59,193.67 256.11,193.49 256.62,193.32 257.14,193.16 257.65,193.02 258.17,192.89 258.68,192.77 259.2,192.64 259.71,192.52 260.23,192.4 260.75,192.28 261.26,192.17 261.78,192.07 262.29,191.99 262.81,191.91 263.32,191.86 263.84,191.82 264.35,191.81 264.87,191.82 265.38,191.85 265.9,191.89 266.42,191.94 266.93,192.01 267.45,192.09 267.96,192.18 268.48,192.28 268.99,192.38 269.51,192.49 270.02,192.6 270.54,192.71 271.06,192.84 271.57,192.99 272.09,193.17 272.6,193.37 273.12,193.6 273.63,193.84 274.15,194.1 274.66,194.38 275.18,194.66 275.69,194.96 276.21,195.27 276.73,195.58 277.24,195.89 277.76,196.2 278.27,196.52 278.79,196.83 279.3,197.14 279.82,197.48 280.33,197.83 280.85,198.2 281.37,198.58 281.88,198.96 282.4,199.36 282.91,199.75 283.43,200.14 283.94,200.54 284.46,200.92 284.97,201.3 285.49,201.68 286,202.06 286.52,202.45 287.04,202.84 287.55,203.23 288.07,203.62 288.58,204.01 289.1,204.38 289.61,204.75 290.13,205.11 290.64,205.45 291.16,205.78 291.68,206.09 292.19,206.39 292.71,206.69 293.22,206.99 293.74,207.28 294.25,207.56 294.77,207.84 295.28,208.11 295.8,208.38 296.31,208.64 296.83,208.9 297.35,209.16 297.86,209.41 298.38,209.67 298.89,209.92 299.41,210.16 299.92,210.41 300.44,210.66 300.95,210.9 301.47,211.15 301.99,211.39 302.5,211.63 303.02,211.87 303.53,212.12 304.05,212.36 304.56,212.59 305.08,212.83 305.59,213.06 306.11,213.3 306.62,213.52 307.14,213.75 307.66,213.97 308.17,214.19 308.69,214.41 309.2,214.62 309.72,214.83 310.23,215.04 310.75,215.24 311.26,215.43 311.78,215.62 312.3,215.81 312.81,215.99 313.33,216.17 313.84,216.35 314.36,216.53 314.87,216.7 315.39,216.88 315.9,217.05 316.42,217.21 316.94,217.38 317.45,217.54 317.97,217.7 318.48,217.85 319,218 319.51,218.15 320.03,218.3 320.54,218.44 321.06,218.58 321.57,218.71 322.09,218.84 322.61,218.97 323.12,219.1 323.64,219.22 324.15,219.34 324.67,219.46 325.18,219.58 325.7,219.7 326.21,219.81 326.73,219.93 327.25,220.04 327.76,220.14 328.28,220.25 328.79,220.35 329.31,220.45 329.82,220.55 330.34,220.64 330.85,220.73 331.37,220.82 331.88,220.91 332.4,220.99" stroke="#939fff" stroke-width="0.6" stroke-dasharray="3.6 1 0.7 1"/>
<path d="M126.2,220.99 126.72,220.91 127.23,220.83 127.75,220.76 128.26,220.67 128.78,220.59 129.29,220.51 129.81,220.42 130.32,220.34 130.84,220.25 131.36,220.16 131.87,220.07 132.39,219.98 132.9,219.88 133.42,219.79 133.93,219.69 134.45,219.6 134.96,219.5 135.48,219.4 135.99,219.3 136.51,219.2 137.03,219.1 137.54,218.99 138.06,218.89 138.57,218.78 139.09,218.68 139.6,218.57 140.12,218.46 140.63,218.34 141.15,218.23 141.67,218.11 142.18,218 142.7,217.88 143.21,217.76 143.73,217.64 144.24,217.51 144.76,217.39 145.27,217.26 145.79,217.13 146.3,217 146.82,216.87 147.34,216.74 147.85,216.6 148.37,216.47 148.88,216.32 149.4,216.18 149.91,216.04 150.43,215.89 150.94,215.74 151.46,215.59 151.98,215.43 152.49,215.28 153.01,215.12 153.52,214.96 154.04,214.8 154.55,214.64 155.07,214.48 155.58,214.32 156.1,214.16 156.61,213.99 157.13,213.83 157.65,213.66 158.16,213.5 158.68,213.33 159.19,213.16 159.71,212.98 160.22,212.81 160.74,212.63 161.25,212.46 161.77,212.28 162.29,212.1 162.8,211.92 163.32,211.73 163.83,211.55 164.35,211.37 164.86,211.18 165.38,211 165.89,210.81 166.41,210.62 166.92,210.44 167.44,210.25 167.96,210.06 168.47,209.87 168.99,209.69 169.5,209.5 170.02,209.31 170.53,209.12 171.05,208.93 171.56,208.73 172.08,208.54 172.6,208.35 173.11,208.15 173.63,207.95 174.14,207.75 174.66,207.55 175.17,207.35 175.69,207.15 176.2,206.94 176.72,206.73 177.23,206.52 177.75,206.31 178.27,206.1 178.78,205.88 179.3,205.65 179.81,205.43 180.33,205.2 180.84,204.97 181.36,204.73 181.87,204.5 182.39,204.26 182.91,204.02 183.42,203.78 183.94,203.54 184.45,203.3 184.97,203.06 185.48,202.83 186,202.59 186.51,202.35 187.03,202.12 187.54,201.89 188.06,201.66 188.58,201.43 189.09,201.21 189.61,200.98 190.12,200.76 190.64,200.54 191.15,200.32 191.67,200.1 192.18,199.88 192.7,199.66 193.22,199.44 193.73,199.22 194.25,198.99 194.76,198.77 195.28,198.54 195.79,198.31 196.31,198.08 196.82,197.84 197.34,197.6 197.85,197.37 198.37,197.12 198.89,196.88 199.4,196.64 199.92,196.39 200.43,196.14 200.95,195.9 201.46,195.65 201.98,195.4 202.49,195.15 203.01,194.89 203.53,194.64 204.04,194.39 204.56,194.14 205.07,193.89 205.59,193.64 206.1,193.39 206.62,193.14 207.13,192.89 207.65,192.64 208.16,192.39 208.68,192.13 209.2,191.88 209.71,191.62 210.23,191.36 210.74,191.1 211.26,190.84 211.77,190.57 212.29,190.3 212.8,190.02 213.32,189.73 213.84,189.42 214.35,189.09 214.87,188.75 215.38,188.39 215.9,188.04 216.41,187.68 216.93,187.33 217.44,186.98 217.96,186.65 218.47,186.34 218.99,186.05 219.51,185.78 220.02,185.55 220.54,185.35 221.05,185.19 221.57,185.05 222.08,184.92 222.6,184.78 223.11,184.66 223.63,184.53 224.15,184.41 224.66,184.3 225.18,184.2 225.69,184.1 226.21,184.02 226.72,183.94 227.24,183.88 227.75,183.83 228.27,183.79 228.78,183.77 229.3,183.76 229.82,183.77 230.33,183.79 230.85,183.83 231.36,183.88 231.88,183.94 232.39,184.02 232.91,184.1 233.42,184.2 233.94,184.3 234.46,184.41 234.97,184.53 235.49,184.66 236,184.78 236.52,184.92 237.03,185.05 237.55,185.19 238.06,185.35 238.58,185.55 239.09,185.78 239.61,186.05 240.13,186.34 240.64,186.65 241.16,186.98 241.67,187.33 242.19,187.68 242.7,188.04 243.22,188.39 243.73,188.75 244.25,189.09 244.77,189.42 245.28,189.73 245.8,190.02 246.31,190.3 246.83,190.57 247.34,190.84 247.86,191.1 248.37,191.36 248.89,191.62 249.4,191.88 249.92,192.13 250.44,192.39 250.95,192.64 251.47,192.89 251.98,193.14 252.5,193.39 253.01,193.64 253.53,193.89 254.04,194.14 254.56,194.39 255.08,194.64 255.59,194.89 256.11,195.15 256.62,195.4 257.14,195.65 257.65,195.9 258.17,196.14 258.68,196.39 259.2,196.64 259.71,196.88 260.23,197.12 260.75,197.37 261.26,197.6 261.78,197.84 262.29,198.08 262.81,198.31 263.32,198.54 263.84,198.77 264.35,198.99 264.87,199.22 265.38,199.44 265.9,199.66 266.42,199.88 266.93,200.1 267.45,200.32 267.96,200.54 268.48,200.76 268.99,200.98 269.51,201.21 270.02,201.43 270.54,201.66 271.06,201.89 271.57,202.12 272.09,202.35 272.6,202.59 273.12,202.83 273.63,203.06 274.15,203.3 274.66,203.54 275.18,203.78 275.69,204.02 276.21,204.26 276.73,204.5 277.24,204.73 277.76,204.97 278.27,205.2 278.79,205.43 279.3,205.65 279.82,205.88 280.33,206.1 280.85,206.31 281.37,206.52 281.88,206.73 282.4,206.94 282.91,207.15 283.43,207.35 283.94,207.55 284.46,207.75 284.97,207.95 285.49,208.15 286,208.35 286.52,208.54 287.04,208.73 287.55,208.93 288.07,209.12 288.58,209.31 289.1,209.5 289.61,209.69 290.13,209.87 290.64,210.06 291.16,210.25 291.68,210.44 292.19,210.62 292.71,210.81 293.22,211 293.74,211.18 294.25,211.37 294.77,211.55 295.28,211.73 295.8,211.92 296.31,212.1 296.83,212.28 297.35,212.46 297.86,212.63 298.38,212.81 298.89,212.98 299.41,213.16 299.92,213.33 300.44,213.5 300.95,213.66 301.47,213.83 301.99,213.99 302.5,214.16 303.02,214.32 303.53,214.48 304.05,214.64 304.56,214.8 305.08,214.96 305.59,215.12 306.11,215.28 306.62,215.43 307.14,215.59 307.66,215.74 308.17,215.89 308.69,216.04 309.2,216.18 309.72,216.32 310.23,216.47 310.75,216.6 311.26,216.74 311.78,216.87 312.3,217 312.81,217.13 313.33,217.26 313.84,217.39 314.36,217.51 314.87,217.64 315.39,217.76 315.9,217.88 316.42,218 316.94,218.11 317.45,218.23 317.97,218.34 318.48,218.46 319,218.57 319.51,218.68 320.03,218.78 320.54,218.89 321.06,218.99 321.57,219.1 322.09,219.2 322.61,219.3 323.12,219.4 323.64,219.5 324.15,219.6 324.67,219.69 325.18,219.79 325.7,219.88 326.21,219.98 326.73,220.07 327.25,220.16 327.76,220.25 328.28,220.34 328.79,220.42 329.31,220.51 329.82,220.59 330.34,220.67 330.85,220.76 331.37,220.83 331.88,220.91 332.4,220.99" stroke="#88ca88" stroke-width="0.6" stroke-dasharray="3.6 1 0.7 1"/>
<path d="M126.2,220.88 126.72,220.81 127.23,220.75 127.75,220.68 128.26,220.61 128.78,220.54 129.29,220.46 129.81,220.39 130.32,220.32 130.84,220.24 131.36,220.17 131.87,220.1 132.39,220.02 132.9,219.94 133.42,219.87 133.93,219.79 134.45,219.71 134.96,219.63 135.48,219.55 135.99,219.47 136.51,219.39 137.03,219.31 137.54,219.23 138.06,219.15 138.57,219.07 139.09,218.99 139.6,218.9 140.12,218.82 140.63,218.73 141.15,218.64 141.67,218.56 142.18,218.47 142.7,218.38 143.21,218.29 143.73,218.2 144.24,218.11 144.76,218.02 145.27,217.93 145.79,217.83 146.3,217.74 146.82,217.64 147.34,217.55 147.85,217.45 148.37,217.35 148.88,217.25 149.4,217.14 149.91,217.04 150.43,216.93 150.94,216.81 151.46,216.7 151.98,216.58 152.49,216.47 153.01,216.35 153.52,216.24 154.04,216.12 154.55,216.01 155.07,215.9 155.58,215.79 156.1,215.68 156.61,215.58 157.13,215.48 157.65,215.39 158.16,215.3 158.68,215.21 159.19,215.12 159.71,215.04 160.22,214.95 160.74,214.86 161.25,214.77 161.77,214.68 162.29,214.6 162.8,214.52 163.32,214.43 163.83,214.36 164.35,214.28 164.86,214.21 165.38,214.14 165.89,214.08 166.41,214.02 166.92,213.97 167.44,213.92 167.96,213.88 168.47,213.84 168.99,213.81 169.5,213.79 170.02,213.76 170.53,213.74 171.05,213.72 171.56,213.7 172.08,213.68 172.6,213.66 173.11,213.65 173.63,213.63 174.14,213.62 174.66,213.6 175.17,213.59 175.69,213.57 176.2,213.56 176.72,213.54 177.23,213.53 177.75,213.51 178.27,213.5 178.78,213.48 179.3,213.46 179.81,213.44 180.33,213.43 180.84,213.41 181.36,213.39 181.87,213.37 182.39,213.36 182.91,213.34 183.42,213.32 183.94,213.31 184.45,213.29 184.97,213.27 185.48,213.25 186,213.23 186.51,213.22 187.03,213.2 187.54,213.18 188.06,213.16 188.58,213.14 189.09,213.12 189.61,213.1 190.12,213.08 190.64,213.06 191.15,213.05 191.67,213.03 192.18,213.01 192.7,212.99 193.22,212.97 193.73,212.95 194.25,212.93 194.76,212.91 195.28,212.88 195.79,212.86 196.31,212.83 196.82,212.8 197.34,212.77 197.85,212.74 198.37,212.7 198.89,212.66 199.4,212.62 199.92,212.57 200.43,212.52 200.95,212.47 201.46,212.4 201.98,212.33 202.49,212.26 203.01,212.17 203.53,212.08 204.04,211.97 204.56,211.81 205.07,211.61 205.59,211.37 206.1,211.08 206.62,210.77 207.13,210.42 207.65,210.05 208.16,209.64 208.68,209.12 209.2,208.51 209.71,207.81 210.23,207.02 210.74,206.15 211.26,205.17 211.77,204 212.29,202.64 212.8,201.1 213.32,199.41 213.84,197.59 214.35,195.58 214.87,193.16 215.38,190.42 215.9,187.48 216.41,184.47 216.93,181.52 217.44,178.72 217.96,175.94 218.47,173.16 218.99,170.39 219.51,167.63 220.02,164.85 220.54,162.06 221.05,159.31 221.57,156.65 222.08,154.12 222.6,151.65 223.11,149.25 223.63,146.94 224.15,144.76 224.66,142.73 225.18,140.77 225.69,138.87 226.21,137.04 226.72,135.32 227.24,133.72 227.75,132.27 228.27,130.98 228.78,129.62 229.3,128.32 229.82,127.29 230.33,126.71 230.85,126.78 231.36,127.47 231.88,128.57 232.39,129.89 232.91,131.24 233.42,132.55 233.94,134.03 234.46,135.65 234.97,137.4 235.49,139.25 236,141.16 236.52,143.12 237.03,145.19 237.55,147.4 238.06,149.73 238.58,152.14 239.09,154.62 239.61,157.17 240.13,159.85 240.64,162.62 241.16,165.41 241.67,168.19 242.19,170.94 242.7,173.72 243.22,176.5 243.73,179.27 244.25,182.1 244.77,185.07 245.28,188.08 245.8,190.98 246.31,193.67 246.83,196.01 247.34,197.96 247.86,199.76 248.37,201.42 248.89,202.92 249.4,204.25 249.92,205.38 250.44,206.33 250.95,207.18 251.47,207.96 251.98,208.64 252.5,209.24 253.01,209.73 253.53,210.12 254.04,210.49 254.56,210.83 255.08,211.14 255.59,211.42 256.11,211.65 256.62,211.85 257.14,212 257.65,212.1 258.17,212.19 258.68,212.27 259.2,212.35 259.71,212.42 260.23,212.48 260.75,212.53 261.26,212.58 261.78,212.63 262.29,212.67 262.81,212.71 263.32,212.74 263.84,212.78 264.35,212.81 264.87,212.83 265.38,212.86 265.9,212.89 266.42,212.91 266.93,212.93 267.45,212.95 267.96,212.97 268.48,212.99 268.99,213.01 269.51,213.03 270.02,213.05 270.54,213.07 271.06,213.09 271.57,213.11 272.09,213.13 272.6,213.15 273.12,213.16 273.63,213.18 274.15,213.2 274.66,213.22 275.18,213.24 275.69,213.26 276.21,213.27 276.73,213.29 277.24,213.31 277.76,213.33 278.27,213.34 278.79,213.36 279.3,213.38 279.82,213.39 280.33,213.41 280.85,213.43 281.37,213.45 281.88,213.46 282.4,213.48 282.91,213.5 283.43,213.52 283.94,213.53 284.46,213.55 284.97,213.56 285.49,213.57 286,213.59 286.52,213.6 287.04,213.62 287.55,213.63 288.07,213.65 288.58,213.67 289.1,213.68 289.61,213.7 290.13,213.72 290.64,213.74 291.16,213.77 291.68,213.79 292.19,213.82 292.71,213.85 293.22,213.88 293.74,213.93 294.25,213.98 294.77,214.03 295.28,214.09 295.8,214.15 296.31,214.22 296.83,214.3 297.35,214.37 297.86,214.45 298.38,214.53 298.89,214.62 299.41,214.7 299.92,214.79 300.44,214.88 300.95,214.96 301.47,215.05 301.99,215.14 302.5,215.23 303.02,215.31 303.53,215.41 304.05,215.5 304.56,215.6 305.08,215.71 305.59,215.81 306.11,215.92 306.62,216.03 307.14,216.15 307.66,216.26 308.17,216.38 308.69,216.49 309.2,216.61 309.72,216.72 310.23,216.84 310.75,216.95 311.26,217.06 311.78,217.16 312.3,217.27 312.81,217.37 313.33,217.47 313.84,217.57 314.36,217.66 314.87,217.76 315.39,217.85 315.9,217.94 316.42,218.04 316.94,218.13 317.45,218.22 317.97,218.31 318.48,218.4 319,218.49 319.51,218.57 320.03,218.66 320.54,218.75 321.06,218.83 321.57,218.92 322.09,219 322.61,219.09 323.12,219.17 323.64,219.25 324.15,219.33 324.67,219.41 325.18,219.49 325.7,219.57 326.21,219.65 326.73,219.73 327.25,219.81 327.76,219.88 328.28,219.96 328.79,220.03 329.31,220.11 329.82,220.19 330.34,220.26 330.85,220.33 331.37,220.41 331.88,220.48 332.4,220.55" stroke="#8c8c8c" stroke-width="0.65" stroke-dasharray="3.6 1 0.7 1"/>
<path d="M126.2,227.79 126.72,227.53 127.23,227.27 127.75,227.01 128.26,226.75 128.78,226.48 129.29,226.21 129.81,225.94 130.32,225.66 130.84,225.39 131.36,225.11 131.87,224.83 132.39,224.55 132.9,224.27 133.42,223.98 133.93,223.7 134.45,223.41 134.96,223.12 135.48,222.83 135.99,222.54 136.51,222.24 137.03,221.95 137.54,221.65 138.06,221.35 138.57,221.05 139.09,220.75 139.6,220.45 140.12,220.15 140.63,219.85 141.15,219.54 141.67,219.24 142.18,218.93 142.7,218.63 143.21,218.32 143.73,218.01 144.24,217.71 144.76,217.4 145.27,217.09 145.79,216.78 146.3,216.47 146.82,216.16 147.34,215.85 147.85,215.54 148.37,215.22 148.88,214.91 149.4,214.6 149.91,214.29 150.43,213.98 150.94,213.66 151.46,213.35 151.98,213.04 152.49,212.73 153.01,212.41 153.52,212.1 154.04,211.78 154.55,211.47 155.07,211.15 155.58,210.84 156.1,210.52 156.61,210.21 157.13,209.89 157.65,209.58 158.16,209.26 158.68,208.94 159.19,208.63 159.71,208.31 160.22,208 160.74,207.68 161.25,207.37 161.77,207.06 162.29,206.75 162.8,206.45 163.32,206.14 163.83,205.84 164.35,205.54 164.86,205.24 165.38,204.95 165.89,204.66 166.41,204.37 166.92,204.09 167.44,203.81 167.96,203.53 168.47,203.26 168.99,202.99 169.5,202.73 170.02,202.47 170.53,202.21 171.05,201.96 171.56,201.71 172.08,201.47 172.6,201.23 173.11,200.99 173.63,200.76 174.14,200.53 174.66,200.31 175.17,200.09 175.69,199.87 176.2,199.65 176.72,199.44 177.23,199.24 177.75,199.03 178.27,198.84 178.78,198.64 179.3,198.46 179.81,198.27 180.33,198.09 180.84,197.92 181.36,197.75 181.87,197.59 182.39,197.43 182.91,197.28 183.42,197.14 183.94,197 184.45,196.87 184.97,196.75 185.48,196.63 186,196.53 186.51,196.42 187.03,196.33 187.54,196.25 188.06,196.17 188.58,196.11 189.09,196.05 189.61,196 190.12,195.97 190.64,195.94 191.15,195.93 191.67,195.92 192.18,195.93 192.7,195.95 193.22,195.98 193.73,196.02 194.25,196.07 194.76,196.13 195.28,196.2 195.79,196.28 196.31,196.37 196.82,196.47 197.34,196.58 197.85,196.69 198.37,196.81 198.89,196.94 199.4,197.07 199.92,197.22 200.43,197.36 200.95,197.51 201.46,197.67 201.98,197.83 202.49,198 203.01,198.18 203.53,198.35 204.04,198.54 204.56,198.73 205.07,198.92 205.59,199.12 206.1,199.32 206.62,199.53 207.13,199.74 207.65,199.96 208.16,200.18 208.68,200.41 209.2,200.64 209.71,200.87 210.23,201.11 210.74,201.34 211.26,201.58 211.77,201.82 212.29,202.06 212.8,202.3 213.32,202.53 213.84,202.76 214.35,202.99 214.87,203.21 215.38,203.43 215.9,203.64 216.41,203.84 216.93,204.03 217.44,204.21 217.96,204.39 218.47,204.55 218.99,204.7 219.51,204.84 220.02,204.96 220.54,205.08 221.05,205.18 221.57,205.27 222.08,205.36 222.6,205.43 223.11,205.49 223.63,205.55 224.15,205.6 224.66,205.64 225.18,205.67 225.69,205.7 226.21,205.72 226.72,205.74 227.24,205.76 227.75,205.76 228.27,205.77 228.78,205.77 229.3,205.78 229.82,205.77 230.33,205.77 230.85,205.76 231.36,205.76 231.88,205.74 232.39,205.72 232.91,205.7 233.42,205.67 233.94,205.64 234.46,205.6 234.97,205.55 235.49,205.49 236,205.43 236.52,205.36 237.03,205.27 237.55,205.18 238.06,205.08 238.58,204.96 239.09,204.84 239.61,204.7 240.13,204.55 240.64,204.39 241.16,204.21 241.67,204.03 242.19,203.84 242.7,203.64 243.22,203.43 243.73,203.21 244.25,202.99 244.77,202.76 245.28,202.53 245.8,202.3 246.31,202.06 246.83,201.82 247.34,201.58 247.86,201.34 248.37,201.11 248.89,200.87 249.4,200.64 249.92,200.41 250.44,200.18 250.95,199.96 251.47,199.74 251.98,199.53 252.5,199.32 253.01,199.12 253.53,198.92 254.04,198.73 254.56,198.54 255.08,198.35 255.59,198.18 256.11,198 256.62,197.83 257.14,197.67 257.65,197.51 258.17,197.36 258.68,197.22 259.2,197.07 259.71,196.94 260.23,196.81 260.75,196.69 261.26,196.58 261.78,196.47 262.29,196.37 262.81,196.28 263.32,196.2 263.84,196.13 264.35,196.07 264.87,196.02 265.38,195.98 265.9,195.95 266.42,195.93 266.93,195.92 267.45,195.93 267.96,195.94 268.48,195.97 268.99,196 269.51,196.05 270.02,196.11 270.54,196.17 271.06,196.25 271.57,196.33 272.09,196.42 272.6,196.53 273.12,196.63 273.63,196.75 274.15,196.87 274.66,197 275.18,197.14 275.69,197.28 276.21,197.43 276.73,197.59 277.24,197.75 277.76,197.92 278.27,198.09 278.79,198.27 279.3,198.46 279.82,198.64 280.33,198.84 280.85,199.03 281.37,199.24 281.88,199.44 282.4,199.65 282.91,199.87 283.43,200.09 283.94,200.31 284.46,200.53 284.97,200.76 285.49,200.99 286,201.23 286.52,201.47 287.04,201.71 287.55,201.96 288.07,202.21 288.58,202.47 289.1,202.73 289.61,202.99 290.13,203.26 290.64,203.53 291.16,203.81 291.68,204.09 292.19,204.37 292.71,204.66 293.22,204.95 293.74,205.24 294.25,205.54 294.77,205.84 295.28,206.14 295.8,206.45 296.31,206.75 296.83,207.06 297.35,207.37 297.86,207.68 298.38,208 298.89,208.31 299.41,208.63 299.92,208.94 300.44,209.26 300.95,209.58 301.47,209.89 301.99,210.21 302.5,210.52 303.02,210.84 303.53,211.15 304.05,211.47 304.56,211.78 305.08,212.1 305.59,212.41 306.11,212.73 306.62,213.04 307.14,213.35 307.66,213.66 308.17,213.98 308.69,214.29 309.2,214.6 309.72,214.91 310.23,215.22 310.75,215.54 311.26,215.85 311.78,216.16 312.3,216.47 312.81,216.78 313.33,217.09 313.84,217.4 314.36,217.71 314.87,218.01 315.39,218.32 315.9,218.63 316.42,218.93 316.94,219.24 317.45,219.54 317.97,219.85 318.48,220.15 319,220.45 319.51,220.75 320.03,221.05 320.54,221.35 321.06,221.65 321.57,221.95 322.09,222.24 322.61,222.54 323.12,222.83 323.64,223.12 324.15,223.41 324.67,223.7 325.18,223.98 325.7,224.27 326.21,224.55 326.73,224.83 327.25,225.11 327.76,225.39 328.28,225.66 328.79,225.94 329.31,226.21 329.82,226.48 330.34,226.75 330.85,227.01 331.37,227.27 331.88,227.53 332.4,227.79" stroke="#ff0000" stroke-width="1.25"/>
<path d="M126.2,227.79 126.72,227.62 127.23,227.45 127.75,227.28 128.26,227.1 128.78,226.92 129.29,226.73 129.81,226.54 130.32,226.35 130.84,226.15 131.36,225.95 131.87,225.75 132.39,225.55 132.9,225.34 133.42,225.14 133.93,224.93 134.45,224.71 134.96,224.5 135.48,224.29 135.99,224.07 136.51,223.85 137.03,223.64 137.54,223.42 138.06,223.2 138.57,222.98 139.09,222.76 139.6,222.54 140.12,222.32 140.63,222.1 141.15,221.88 141.67,221.66 142.18,221.45 142.7,221.23 143.21,221.02 143.73,220.8 144.24,220.59 144.76,220.38 145.27,220.17 145.79,219.96 146.3,219.76 146.82,219.56 147.34,219.36 147.85,219.16 148.37,218.97 148.88,218.77 149.4,218.58 149.91,218.39 150.43,218.2 150.94,218.01 151.46,217.82 151.98,217.62 152.49,217.43 153.01,217.24 153.52,217.05 154.04,216.85 154.55,216.65 155.07,216.45 155.58,216.25 156.1,216.04 156.61,215.83 157.13,215.62 157.65,215.4 158.16,215.18 158.68,214.95 159.19,214.72 159.71,214.47 160.22,214.22 160.74,213.96 161.25,213.69 161.77,213.4 162.29,213.1 162.8,212.79 163.32,212.46 163.83,212.12 164.35,211.76 164.86,211.38 165.38,210.98 165.89,210.56 166.41,210.12 166.92,209.66 167.44,209.18 167.96,208.67 168.47,208.14 168.99,207.59 169.5,207.02 170.02,206.44 170.53,205.85 171.05,205.25 171.56,204.64 172.08,204.03 172.6,203.42 173.11,202.8 173.63,202.19 174.14,201.59 174.66,200.99 175.17,200.4 175.69,199.82 176.2,199.25 176.72,198.68 177.23,198.13 177.75,197.59 178.27,197.07 178.78,196.55 179.3,196.05 179.81,195.57 180.33,195.11 180.84,194.66 181.36,194.22 181.87,193.81 182.39,193.41 182.91,193.03 183.42,192.67 183.94,192.32 184.45,191.99 184.97,191.68 185.48,191.39 186,191.11 186.51,190.86 187.03,190.62 187.54,190.4 188.06,190.2 188.58,190.02 189.09,189.86 189.61,189.71 190.12,189.59 190.64,189.49 191.15,189.4 191.67,189.34 192.18,189.29 192.7,189.26 193.22,189.26 193.73,189.27 194.25,189.31 194.76,189.36 195.28,189.44 195.79,189.53 196.31,189.64 196.82,189.77 197.34,189.92 197.85,190.08 198.37,190.26 198.89,190.45 199.4,190.65 199.92,190.87 200.43,191.1 200.95,191.34 201.46,191.59 201.98,191.85 202.49,192.12 203.01,192.4 203.53,192.69 204.04,192.98 204.56,193.29 205.07,193.6 205.59,193.92 206.1,194.24 206.62,194.57 207.13,194.9 207.65,195.24 208.16,195.58 208.68,195.93 209.2,196.28 209.71,196.63 210.23,196.98 210.74,197.33 211.26,197.68 211.77,198.03 212.29,198.38 212.8,198.72 213.32,199.06 213.84,199.39 214.35,199.72 214.87,200.04 215.38,200.35 215.9,200.65 216.41,200.94 216.93,201.22 217.44,201.48 217.96,201.73 218.47,201.97 218.99,202.19 219.51,202.4 220.02,202.59 220.54,202.77 221.05,202.93 221.57,203.08 222.08,203.21 222.6,203.34 223.11,203.44 223.63,203.54 224.15,203.63 224.66,203.7 225.18,203.77 225.69,203.82 226.21,203.87 226.72,203.91 227.24,203.94 227.75,203.96 228.27,203.97 228.78,203.98 229.3,203.99 229.82,203.98 230.33,203.97 230.85,203.96 231.36,203.94 231.88,203.91 232.39,203.87 232.91,203.82 233.42,203.77 233.94,203.7 234.46,203.63 234.97,203.54 235.49,203.44 236,203.34 236.52,203.21 237.03,203.08 237.55,202.93 238.06,202.77 238.58,202.59 239.09,202.4 239.61,202.19 240.13,201.97 240.64,201.73 241.16,201.48 241.67,201.22 242.19,200.94 242.7,200.65 243.22,200.35 243.73,200.04 244.25,199.72 244.77,199.39 245.28,199.06 245.8,198.72 246.31,198.38 246.83,198.03 247.34,197.68 247.86,197.33 248.37,196.98 248.89,196.63 249.4,196.28 249.92,195.93 250.44,195.58 250.95,195.24 251.47,194.9 251.98,194.57 252.5,194.24 253.01,193.92 253.53,193.6 254.04,193.29 254.56,192.98 255.08,192.69 255.59,192.4 256.11,192.12 256.62,191.85 257.14,191.59 257.65,191.34 258.17,191.1 258.68,190.87 259.2,190.65 259.71,190.45 260.23,190.26 260.75,190.08 261.26,189.92 261.78,189.77 262.29,189.64 262.81,189.53 263.32,189.44 263.84,189.36 264.35,189.31 264.87,189.27 265.38,189.26 265.9,189.26 266.42,189.29 266.93,189.34 267.45,189.4 267.96,189.49 268.48,189.59 268.99,189.71 269.51,189.86 270.02,190.02 270.54,190.2 271.06,190.4 271.57,190.62 272.09,190.86 272.6,191.11 273.12,191.39 273.63,191.68 274.15,191.99 274.66,192.32 275.18,192.67 275.69,193.03 276.21,193.41 276.73,193.81 277.24,194.22 277.76,194.66 278.27,195.11 278.79,195.57 279.3,196.05 279.82,196.55 280.33,197.07 280.85,197.59 281.37,198.13 281.88,198.68 282.4,199.25 282.91,199.82 283.43,200.4 283.94,200.99 284.46,201.59 284.97,202.19 285.49,202.8 286,203.42 286.52,204.03 287.04,204.64 287.55,205.25 288.07,205.85 288.58,206.44 289.1,207.02 289.61,207.59 290.13,208.14 290.64,208.67 291.16,209.18 291.68,209.66 292.19,210.12 292.71,210.56 293.22,210.98 293.74,211.38 294.25,211.76 294.77,212.12 295.28,212.46 295.8,212.79 296.31,213.1 296.83,213.4 297.35,213.69 297.86,213.96 298.38,214.22 298.89,214.47 299.41,214.72 299.92,214.95 300.44,215.18 300.95,215.4 301.47,215.62 301.99,215.83 302.5,216.04 303.02,216.25 303.53,216.45 304.05,216.65 304.56,216.85 305.08,217.05 305.59,217.24 306.11,217.43 306.62,217.62 307.14,217.82 307.66,218.01 308.17,218.2 308.69,218.39 309.2,218.58 309.72,218.77 310.23,218.97 310.75,219.16 311.26,219.36 311.78,219.56 312.3,219.76 312.81,219.96 313.33,220.17 313.84,220.38 314.36,220.59 314.87,220.8 315.39,221.02 315.9,221.23 316.42,221.45 316.94,221.66 317.45,221.88 317.97,222.1 318.48,222.32 319,222.54 319.51,222.76 320.03,222.98 320.54,223.2 321.06,223.42 321.57,223.64 322.09,223.85 322.61,224.07 323.12,224.29 323.64,224.5 324.15,224.71 324.67,224.93 325.18,225.14 325.7,225.34 326.21,225.55 326.73,225.75 327.25,225.95 327.76,226.15 328.28,226.35 328.79,226.54 329.31,226.73 329.82,226.92 330.34,227.1 330.85,227.28 331.37,227.45 331.88,227.62 332.4,227.79" stroke="#0000ff" stroke-width="1.25"/>
<path d="M126.2,227.79 126.72,227.61 127.23,227.44 127.75,227.26 128.26,227.09 128.78,226.92 129.29,226.76 129.81,226.59 130.32,226.43 130.84,226.27 131.36,226.11 131.87,225.95 132.39,225.79 132.9,225.64 133.42,225.48 133.93,225.33 134.45,225.18 134.96,225.02 135.48,224.87 135.99,224.72 136.51,224.57 137.03,224.42 137.54,224.27 138.06,224.12 138.57,223.96 139.09,223.81 139.6,223.66 140.12,223.5 140.63,223.35 141.15,223.19 141.67,223.03 142.18,222.87 142.7,222.71 143.21,222.55 143.73,222.38 144.24,222.22 144.76,222.05 145.27,221.88 145.79,221.7 146.3,221.53 146.82,221.35 147.34,221.17 147.85,220.98 148.37,220.79 148.88,220.61 149.4,220.42 149.91,220.23 150.43,220.04 150.94,219.85 151.46,219.66 151.98,219.47 152.49,219.29 153.01,219.1 153.52,218.92 154.04,218.74 154.55,218.57 155.07,218.4 155.58,218.23 156.1,218.07 156.61,217.92 157.13,217.77 157.65,217.62 158.16,217.49 158.68,217.35 159.19,217.22 159.71,217.08 160.22,216.94 160.74,216.8 161.25,216.66 161.77,216.5 162.29,216.34 162.8,216.16 163.32,215.98 163.83,215.78 164.35,215.56 164.86,215.33 165.38,215.07 165.89,214.8 166.41,214.5 166.92,214.18 167.44,213.83 167.96,213.45 168.47,213.05 168.99,212.63 169.5,212.18 170.02,211.71 170.53,211.22 171.05,210.72 171.56,210.2 172.08,209.67 172.6,209.13 173.11,208.58 173.63,208.03 174.14,207.47 174.66,206.9 175.17,206.34 175.69,205.78 176.2,205.21 176.72,204.65 177.23,204.1 177.75,203.54 178.27,202.99 178.78,202.43 179.3,201.88 179.81,201.33 180.33,200.77 180.84,200.22 181.36,199.66 181.87,199.1 182.39,198.53 182.91,197.97 183.42,197.4 183.94,196.83 184.45,196.25 184.97,195.66 185.48,195.08 186,194.49 186.51,193.9 187.03,193.3 187.54,192.71 188.06,192.11 188.58,191.51 189.09,190.91 189.61,190.31 190.12,189.72 190.64,189.12 191.15,188.52 191.67,187.93 192.18,187.34 192.7,186.75 193.22,186.17 193.73,185.59 194.25,185.03 194.76,184.48 195.28,183.95 195.79,183.43 196.31,182.94 196.82,182.48 197.34,182.04 197.85,181.63 198.37,181.25 198.89,180.91 199.4,180.61 199.92,180.34 200.43,180.1 200.95,179.91 201.46,179.74 201.98,179.61 202.49,179.51 203.01,179.45 203.53,179.42 204.04,179.43 204.56,179.47 205.07,179.55 205.59,179.66 206.1,179.81 206.62,180 207.13,180.22 207.65,180.49 208.16,180.78 208.68,181.11 209.2,181.47 209.71,181.86 210.23,182.27 210.74,182.7 211.26,183.16 211.77,183.64 212.29,184.14 212.8,184.65 213.32,185.18 213.84,185.72 214.35,186.26 214.87,186.82 215.38,187.37 215.9,187.92 216.41,188.47 216.93,189.01 217.44,189.54 217.96,190.06 218.47,190.56 218.99,191.04 219.51,191.5 220.02,191.93 220.54,192.33 221.05,192.71 221.57,193.05 222.08,193.35 222.6,193.63 223.11,193.87 223.63,194.09 224.15,194.28 224.66,194.44 225.18,194.58 225.69,194.7 226.21,194.8 226.72,194.88 227.24,194.94 227.75,194.98 228.27,195.01 228.78,195.03 229.3,195.03 229.82,195.03 230.33,195.01 230.85,194.98 231.36,194.94 231.88,194.88 232.39,194.8 232.91,194.7 233.42,194.58 233.94,194.44 234.46,194.28 234.97,194.09 235.49,193.87 236,193.63 236.52,193.35 237.03,193.05 237.55,192.71 238.06,192.33 238.58,191.93 239.09,191.5 239.61,191.04 240.13,190.56 240.64,190.06 241.16,189.54 241.67,189.01 242.19,188.47 242.7,187.92 243.22,187.37 243.73,186.82 244.25,186.26 244.77,185.72 245.28,185.18 245.8,184.65 246.31,184.14 246.83,183.64 247.34,183.16 247.86,182.7 248.37,182.27 248.89,181.86 249.4,181.47 249.92,181.11 250.44,180.78 250.95,180.49 251.47,180.22 251.98,180 252.5,179.81 253.01,179.66 253.53,179.55 254.04,179.47 254.56,179.43 255.08,179.42 255.59,179.45 256.11,179.51 256.62,179.61 257.14,179.74 257.65,179.91 258.17,180.1 258.68,180.34 259.2,180.61 259.71,180.91 260.23,181.25 260.75,181.63 261.26,182.04 261.78,182.48 262.29,182.94 262.81,183.43 263.32,183.95 263.84,184.48 264.35,185.03 264.87,185.59 265.38,186.17 265.9,186.75 266.42,187.34 266.93,187.93 267.45,188.52 267.96,189.12 268.48,189.72 268.99,190.31 269.51,190.91 270.02,191.51 270.54,192.11 271.06,192.71 271.57,193.3 272.09,193.9 272.6,194.49 273.12,195.08 273.63,195.66 274.15,196.25 274.66,196.83 275.18,197.4 275.69,197.97 276.21,198.53 276.73,199.1 277.24,199.66 277.76,200.22 278.27,200.77 278.79,201.33 279.3,201.88 279.82,202.43 280.33,202.99 280.85,203.54 281.37,204.1 281.88,204.65 282.4,205.21 282.91,205.78 283.43,206.34 283.94,206.9 284.46,207.47 284.97,208.03 285.49,208.58 286,209.13 286.52,209.67 287.04,210.2 287.55,210.72 288.07,211.22 288.58,211.71 289.1,212.18 289.61,212.63 290.13,213.05 290.64,213.45 291.16,213.83 291.68,214.18 292.19,214.5 292.71,214.8 293.22,215.07 293.74,215.33 294.25,215.56 294.77,215.78 295.28,215.98 295.8,216.16 296.31,216.34 296.83,216.5 297.35,216.66 297.86,216.8 298.38,216.94 298.89,217.08 299.41,217.22 299.92,217.35 300.44,217.49 300.95,217.62 301.47,217.77 301.99,217.92 302.5,218.07 303.02,218.23 303.53,218.4 304.05,218.57 304.56,218.74 305.08,218.92 305.59,219.1 306.11,219.29 306.62,219.47 307.14,219.66 307.66,219.85 308.17,220.04 308.69,220.23 309.2,220.42 309.72,220.61 310.23,220.79 310.75,220.98 311.26,221.17 311.78,221.35 312.3,221.53 312.81,221.7 313.33,221.88 313.84,222.05 314.36,222.22 314.87,222.38 315.39,222.55 315.9,222.71 316.42,222.87 316.94,223.03 317.45,223.19 317.97,223.35 318.48,223.5 319,223.66 319.51,223.81 320.03,223.96 320.54,224.12 321.06,224.27 321.57,224.42 322.09,224.57 322.61,224.72 323.12,224.87 323.64,225.02 324.15,225.18 324.67,225.33 325.18,225.48 325.7,225.64 326.21,225.79 326.73,225.95 327.25,226.11 327.76,226.27 328.28,226.43 328.79,226.59 329.31,226.76 329.82,226.92 330.34,227.09 330.85,227.26 331.37,227.44 331.88,227.61 332.4,227.79" stroke="#008000" stroke-width="1.25"/>
<path d="M126.2,227.41 126.72,227.24 127.23,227.07 127.75,226.9 128.26,226.73 128.78,226.56 129.29,226.39 129.81,226.22 130.32,226.05 130.84,225.89 131.36,225.72 131.87,225.55 132.39,225.38 132.9,225.21 133.42,225.04 133.93,224.87 134.45,224.7 134.96,224.54 135.48,224.36 135.99,224.18 136.51,223.99 137.03,223.8 137.54,223.6 138.06,223.4 138.57,223.21 139.09,223.02 139.6,222.84 140.12,222.66 140.63,222.49 141.15,222.34 141.67,222.19 142.18,222.07 142.7,221.96 143.21,221.87 143.73,221.78 144.24,221.7 144.76,221.62 145.27,221.54 145.79,221.46 146.3,221.39 146.82,221.32 147.34,221.26 147.85,221.2 148.37,221.15 148.88,221.1 149.4,221.06 149.91,221.03 150.43,221.01 150.94,220.99 151.46,220.99 151.98,221 152.49,221.03 153.01,221.08 153.52,221.13 154.04,221.19 154.55,221.27 155.07,221.34 155.58,221.42 156.1,221.5 156.61,221.58 157.13,221.65 157.65,221.72 158.16,221.79 158.68,221.87 159.19,221.95 159.71,222.04 160.22,222.13 160.74,222.22 161.25,222.32 161.77,222.42 162.29,222.51 162.8,222.6 163.32,222.69 163.83,222.77 164.35,222.85 164.86,222.92 165.38,222.99 165.89,223.04 166.41,223.08 166.92,223.11 167.44,223.13 167.96,223.14 168.47,223.14 168.99,223.13 169.5,223.12 170.02,223.11 170.53,223.1 171.05,223.08 171.56,223.07 172.08,223.05 172.6,223.03 173.11,223 173.63,222.98 174.14,222.96 174.66,222.94 175.17,222.91 175.69,222.89 176.2,222.86 176.72,222.84 177.23,222.82 177.75,222.8 178.27,222.78 178.78,222.75 179.3,222.73 179.81,222.7 180.33,222.67 180.84,222.64 181.36,222.61 181.87,222.58 182.39,222.56 182.91,222.53 183.42,222.5 183.94,222.48 184.45,222.46 184.97,222.44 185.48,222.43 186,222.42 186.51,222.42 187.03,222.43 187.54,222.44 188.06,222.46 188.58,222.48 189.09,222.51 189.61,222.54 190.12,222.58 190.64,222.61 191.15,222.66 191.67,222.7 192.18,222.74 192.7,222.79 193.22,222.83 193.73,222.88 194.25,222.92 194.76,222.97 195.28,223.01 195.79,223.05 196.31,223.09 196.82,223.14 197.34,223.2 197.85,223.27 198.37,223.36 198.89,223.49 199.4,223.68 199.92,223.91 200.43,224.16 200.95,224.43 201.46,224.71 201.98,224.98 202.49,225.3 203.01,225.67 203.53,226.05 204.04,226.41 204.56,226.71 205.07,226.93 205.59,227.12 206.1,227.29 206.62,227.4 207.13,227.43 207.65,227.18 208.16,226.66 208.68,226.01 209.2,225.33 209.71,224.46 210.23,223.41 210.74,222.26 211.26,221.13 211.77,219.99 212.29,218.82 212.8,217.57 213.32,216.24 213.84,214.82 214.35,213.31 214.87,211.67 215.38,209.88 215.9,207.87 216.41,205.66 216.93,203.29 217.44,200.79 217.96,198.08 218.47,195.17 218.99,192.13 219.51,189.04 220.02,185.81 220.54,182.48 221.05,179.16 221.57,175.9 222.08,172.64 222.6,169.33 223.11,165.89 223.63,162.24 224.15,158.57 224.66,155.12 225.18,151.92 225.69,148.86 226.21,145.94 226.72,143.12 227.24,140.31 227.75,137.62 228.27,135.43 228.78,133.53 229.3,131.98 229.82,131.52 230.33,132.51 230.85,134.29 231.36,136.22 231.88,138.65 232.39,141.44 232.91,144.24 233.42,147.09 233.94,150.07 234.46,153.18 234.97,156.46 235.49,160.03 236,163.72 236.52,167.29 237.03,170.66 237.55,173.95 238.06,177.2 238.58,180.48 239.09,183.82 239.61,187.12 240.13,190.28 240.64,193.36 241.16,196.35 241.67,199.19 242.19,201.8 242.7,204.26 243.22,206.57 243.73,208.7 244.25,210.62 244.77,212.34 245.28,213.93 245.8,215.4 246.31,216.79 246.83,218.08 247.34,219.3 247.86,220.45 248.37,221.57 248.89,222.72 249.4,223.85 249.92,224.84 250.44,225.6 250.95,226.28 251.47,226.89 251.98,227.31 252.5,227.43 253.01,227.36 253.53,227.23 254.04,227.05 254.56,226.86 255.08,226.6 255.59,226.27 256.11,225.9 256.62,225.52 257.14,225.17 257.65,224.87 258.17,224.6 258.68,224.32 259.2,224.06 259.71,223.81 260.23,223.6 260.75,223.43 261.26,223.32 261.78,223.24 262.29,223.18 262.81,223.12 263.32,223.07 263.84,223.03 264.35,222.99 264.87,222.95 265.38,222.91 265.9,222.86 266.42,222.82 266.93,222.77 267.45,222.73 267.96,222.68 268.48,222.64 268.99,222.6 269.51,222.56 270.02,222.53 270.54,222.5 271.06,222.47 271.57,222.45 272.09,222.43 272.6,222.42 273.12,222.42 273.63,222.43 274.15,222.44 274.66,222.45 275.18,222.47 275.69,222.49 276.21,222.51 276.73,222.54 277.24,222.57 277.76,222.6 278.27,222.63 278.79,222.66 279.3,222.68 279.82,222.71 280.33,222.74 280.85,222.76 281.37,222.78 281.88,222.8 282.4,222.83 282.91,222.85 283.43,222.87 283.94,222.9 284.46,222.92 284.97,222.94 285.49,222.97 286,222.99 286.52,223.01 287.04,223.03 287.55,223.05 288.07,223.07 288.58,223.09 289.1,223.1 289.61,223.12 290.13,223.13 290.64,223.13 291.16,223.14 291.68,223.14 292.19,223.13 292.71,223.1 293.22,223.07 293.74,223.02 294.25,222.96 294.77,222.9 295.28,222.82 295.8,222.74 296.31,222.66 296.83,222.57 297.35,222.47 297.86,222.38 298.38,222.28 298.89,222.19 299.41,222.09 299.92,222 300.44,221.92 300.95,221.84 301.47,221.76 301.99,221.69 302.5,221.62 303.02,221.55 303.53,221.47 304.05,221.39 304.56,221.31 305.08,221.24 305.59,221.17 306.11,221.11 306.62,221.06 307.14,221.02 307.66,221 308.17,220.99 308.69,221 309.2,221.01 309.72,221.04 310.23,221.07 310.75,221.12 311.26,221.17 311.78,221.22 312.3,221.28 312.81,221.35 313.33,221.42 313.84,221.49 314.36,221.57 314.87,221.65 315.39,221.73 315.9,221.82 316.42,221.9 316.94,222 317.45,222.12 317.97,222.25 318.48,222.4 319,222.56 319.51,222.73 320.03,222.91 320.54,223.1 321.06,223.29 321.57,223.48 322.09,223.68 322.61,223.87 323.12,224.07 323.64,224.25 324.15,224.43 324.67,224.6 325.18,224.77 325.7,224.94 326.21,225.11 326.73,225.28 327.25,225.45 327.76,225.62 328.28,225.78 328.79,225.95 329.31,226.12 329.82,226.29 330.34,226.46 330.85,226.63 331.37,226.8 331.88,226.97 332.4,227.14" stroke="#000000" stroke-width="1.25"/>
</g>
<rect x="126.2" y="122.3" width="206.2" height="110.7" fill="none" stroke="#000" stroke-width="0.5"/>
<line x1="146.82" y1="233" x2="146.82" y2="235.2" stroke="#000" stroke-width="0.5"/>
<text x="146.82" y="241.7" text-anchor="middle">−40</text>
<line x1="188.06" y1="233" x2="188.06" y2="235.2" stroke="#000" stroke-width="0.5"/>
<text x="188.06" y="241.7" text-anchor="middle">−20</text>
<line x1="229.30" y1="233" x2="229.30" y2="235.2" stroke="#000" stroke-width="0.5"/>
<text x="229.30" y="241.7" text-anchor="middle">0</text>
<line x1="270.54" y1="233" x2="270.54" y2="235.2" stroke="#000" stroke-width="0.5"/>
<text x="270.54" y="241.7" text-anchor="middle">20</text>
<line x1="311.78" y1="233" x2="311.78" y2="235.2" stroke="#000" stroke-width="0.5"/>
<text x="311.78" y="241.7" text-anchor="middle">40</text>
<line x1="124" y1="228.15" x2="126.2" y2="228.15" stroke="#000" stroke-width="0.5"/>
<text x="122.2" y="230.45" text-anchor="end">0.0</text>
<line x1="124" y1="210.25" x2="126.2" y2="210.25" stroke="#000" stroke-width="0.5"/>
<text x="122.2" y="212.55" text-anchor="end">0.1</text>
<line x1="124" y1="192.35" x2="126.2" y2="192.35" stroke="#000" stroke-width="0.5"/>
<text x="122.2" y="194.65" text-anchor="end">0.2</text>
<line x1="124" y1="174.45" x2="126.2" y2="174.45" stroke="#000" stroke-width="0.5"/>
<text x="122.2" y="176.75" text-anchor="end">0.3</text>
<line x1="124" y1="156.55" x2="126.2" y2="156.55" stroke="#000" stroke-width="0.5"/>
<text x="122.2" y="158.85" text-anchor="end">0.4</text>
<line x1="124" y1="138.65" x2="126.2" y2="138.65" stroke="#000" stroke-width="0.5"/>
<text x="122.2" y="140.95" text-anchor="end">0.5</text>
<text x="229.6" y="250.0" text-anchor="middle">y, μm</text>
<text transform="translate(107.8,178.2) rotate(-90)" text-anchor="middle">Dimensionless laser field</text>
<text x="129.0" y="230.6" style="font-weight:bold;font-size:6.1px">(b)</text>
<line x1="284.8" y1="130.30" x2="297.6" y2="130.30" stroke="#ff0000" stroke-width="1.25"/>
<text x="302.7" y="132.50">t=1 ps</text>
<line x1="284.8" y1="139.23" x2="297.6" y2="139.23" stroke="#0000ff" stroke-width="1.25"/>
<text x="302.7" y="141.43">t=5 ps</text>
<line x1="284.8" y1="148.16" x2="297.6" y2="148.16" stroke="#008000" stroke-width="1.25"/>
<text x="302.7" y="150.36">t=8 ps</text>
<line x1="284.8" y1="157.09" x2="297.6" y2="157.09" stroke="#000000" stroke-width="1.25"/>
<text x="302.7" y="159.29">t=12 ps</text>
</svg></body></html>
